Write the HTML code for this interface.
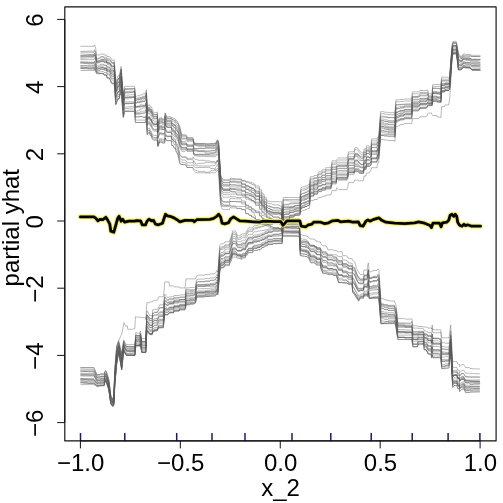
<!DOCTYPE html>
<html><head><meta charset="utf-8"><title>ICE plot</title>
<style>html,body{margin:0;padding:0;background:#fff;width:503px;height:503px;overflow:hidden}</style></head>
<body>
<svg width="503" height="503" viewBox="0 0 503 503" style="position:absolute;left:0;top:0">
<rect width="503" height="503" fill="#fff"/>
<g fill="none" stroke="#5a5a5a" stroke-opacity="0.52" stroke-width="0.8" stroke-linejoin="round">
<path d="M80.4,46.3 L94.0,46.3 L94.6,45.0 L95.6,47.5 L96.6,54.9 L99.8,54.9 L100.8,54.0 L103.5,54.0 L104.0,55.0 L106.5,55.0 L107.0,56.5 L109.4,56.5 L110.2,57.7 L110.6,57.7 L111.0,58.9 L113.0,60.5 L114.2,59.5 L115.8,82.0 L118.0,76.0 L119.2,76.0 L120.0,71.2 L120.7,71.2 L121.1,66.4 L123.3,95.0 L124.7,86.3 L134.6,86.3 L135.4,96.6 L136.3,96.6 L137.1,95.8 L139.6,95.8 L140.0,95.0 L142.0,95.0 L142.8,93.8 L145.2,93.8 L145.6,92.7 L146.4,89.7 L147.2,108.0 L148.5,104.9 L149.6,104.9 L150.4,106.9 L151.6,106.9 L152.0,108.9 L153.9,112.8 L156.8,112.8 L157.3,111.8 L157.9,122.8 L159.5,117.8 L161.8,117.8 L162.3,119.0 L164.7,119.0 L165.2,112.8 L166.8,116.8 L171.3,116.8 L171.8,117.8 L173.2,117.8 L174.0,118.8 L175.4,118.8 L175.8,119.8 L178.0,122.0 L179.8,126.7 L181.7,134.7 L185.1,134.7 L185.9,135.1 L186.1,135.1 L186.5,135.5 L187.0,137.7 L192.7,137.7 L193.2,138.5 L193.8,142.7 L195.7,143.3 L197.2,143.3 L198.0,143.6 L204.6,143.6 L205.0,143.8 L209.9,143.8 L210.7,143.6 L214.1,143.6 L214.9,143.5 L215.1,143.5 L215.5,143.3 L217.5,139.7 L218.6,142.0 L220.6,175.0 L222.0,178.4 L223.5,179.8 L229.5,179.8 L230.0,178.5 L230.9,178.5 L231.7,178.6 L235.3,178.6 L236.1,178.7 L236.4,178.7 L236.8,178.8 L241.3,178.8 L241.8,180.5 L245.3,180.5 L245.8,181.5 L248.4,181.5 L249.2,182.2 L251.3,182.2 L251.7,183.0 L253.7,183.0 L254.5,184.5 L255.3,184.5 L255.7,186.0 L259.2,186.0 L259.7,189.8 L261.5,189.8 L262.0,193.9 L263.8,193.9 L264.6,197.4 L266.3,197.4 L266.7,200.9 L267.6,200.9 L268.4,201.2 L270.1,201.2 L270.5,201.6 L272.1,201.6 L272.9,201.7 L279.0,201.7 L279.8,201.8 L281.2,201.8 L281.6,201.9 L282.6,219.0 L299.3,219.0 L300.3,234.8 L301.9,234.8 L302.7,235.4 L304.6,235.4 L305.0,236.0 L306.9,236.0 L307.7,237.0 L308.5,237.0 L308.9,238.0 L310.8,239.0 L314.4,239.0 L315.2,240.4 L316.4,240.4 L316.8,241.8 L320.3,241.8 L320.8,243.5 L322.8,245.8 L326.1,245.8 L326.9,247.8 L327.3,247.8 L327.7,249.7 L332.5,249.7 L333.3,250.4 L336.3,250.4 L336.7,251.2 L338.7,251.7 L342.2,251.7 L342.7,255.7 L346.5,255.7 L347.3,257.2 L348.2,257.2 L348.6,258.7 L352.1,258.7 L352.6,260.5 L354.6,261.7 L356.6,268.6 L358.6,272.0 L360.5,274.6 L363.5,274.6 L364.0,270.0 L367.1,270.0 L367.6,266.0 L368.3,262.9 L369.2,271.9 L371.1,271.9 L371.9,271.2 L372.6,271.2 L373.0,270.5 L376.6,270.5 L377.4,269.7 L377.6,269.7 L378.0,268.9 L378.9,270.0 L380.9,298.7 L383.9,298.7 L384.7,299.9 L387.6,299.9 L388.0,301.0 L394.3,301.0 L394.8,302.7 L395.8,304.0 L397.8,318.6 L404.5,318.6 L405.0,319.2 L411.9,319.0 L412.9,325.8 L417.5,325.8 L418.0,326.5 L423.0,326.5 L423.5,326.8 L424.2,327.0 L426.2,327.0 L427.0,327.5 L427.6,327.5 L428.0,328.0 L431.1,328.0 L431.6,328.8 L432.2,324.9 L432.9,329.8 L440.8,329.8 L441.7,337.8 L449.0,337.8 L450.7,324.9 L452.7,361.6 L454.0,361.6 L456.9,361.6 L457.7,364.1 L459.2,364.1 L459.6,366.6 L461.6,364.6 L463.6,364.6 L465.6,367.6 L469.5,367.6 L470.0,368.5 L472.9,368.5 L473.7,368.9 L479.5,368.9 L479.9,369.2"/>
<path d="M80.4,52.1 L94.0,52.3 L94.6,51.0 L95.6,53.2 L96.6,59.2 L97.8,59.2 L98.6,58.4 L99.4,58.4 L99.8,57.6 L100.8,56.6 L103.5,56.6 L104.0,57.2 L106.5,57.2 L107.0,58.7 L109.4,58.7 L110.2,59.9 L110.6,59.9 L111.0,61.2 L113.0,62.9 L114.2,61.9 L115.8,84.3 L118.0,78.6 L119.2,78.6 L120.0,73.7 L120.7,73.7 L121.1,68.8 L123.3,97.5 L124.7,88.9 L128.5,88.9 L129.3,88.7 L132.4,88.7 L133.2,88.5 L134.2,88.5 L134.6,88.3 L135.4,99.2 L136.3,99.2 L137.1,98.6 L139.6,98.6 L140.0,98.0 L142.0,98.0 L142.8,97.0 L145.2,97.0 L145.6,96.0 L146.4,92.9 L147.2,110.8 L148.5,107.7 L149.6,107.7 L150.4,109.6 L151.6,109.6 L152.0,111.4 L153.9,114.9 L156.8,114.9 L157.3,113.6 L157.9,124.3 L159.5,118.7 L161.8,118.7 L162.3,119.5 L164.7,119.5 L165.2,113.4 L166.8,117.9 L171.3,117.9 L171.8,119.3 L173.2,119.3 L174.0,120.3 L175.4,120.3 L175.8,121.3 L178.0,123.4 L179.8,128.1 L181.7,135.5 L185.1,135.5 L185.9,135.7 L186.1,135.7 L186.5,135.8 L187.0,138.0 L192.7,138.0 L193.2,138.6 L193.8,142.8 L195.7,143.4 L197.2,143.4 L198.0,143.7 L204.6,143.7 L205.0,144.0 L209.9,144.0 L210.7,143.8 L214.1,143.8 L214.9,143.6 L215.1,143.6 L215.5,143.4 L217.5,139.8 L218.6,142.1 L220.6,175.2 L222.0,178.7 L223.5,180.3 L229.5,180.3 L230.0,179.3 L230.9,179.3 L231.7,179.4 L235.3,179.4 L236.1,179.5 L236.4,179.5 L236.8,179.6 L241.3,179.6 L241.8,181.2 L245.3,181.2 L245.8,182.3 L248.4,182.3 L249.2,183.4 L251.3,183.4 L251.7,184.5 L253.7,184.5 L254.5,186.2 L255.3,186.2 L255.7,188.0 L259.2,188.0 L259.7,192.1 L261.5,192.1 L262.0,196.1 L263.8,196.1 L264.6,199.4 L266.3,199.4 L266.7,202.8 L267.6,202.8 L268.4,203.3 L270.1,203.3 L270.5,203.8 L272.1,203.8 L272.9,204.9 L279.0,204.9 L279.8,206.0 L281.2,206.0 L281.6,207.1 L282.6,222.4 L284.6,222.4 L285.4,222.3 L289.7,222.3 L290.5,222.2 L296.1,222.2 L296.9,222.1 L298.9,222.1 L299.3,222.1 L300.3,238.4 L301.9,238.4 L302.7,239.2 L304.6,239.2 L305.0,240.0 L306.9,240.0 L307.7,241.6 L308.5,241.6 L308.9,243.2 L310.8,245.3 L314.4,245.3 L315.2,246.8 L316.4,246.8 L316.8,248.3 L320.3,248.3 L320.8,250.3 L322.8,253.0 L326.1,253.0 L326.9,254.5 L327.3,254.5 L327.7,255.9 L332.5,255.9 L333.3,257.0 L336.3,257.0 L336.7,258.0 L338.7,260.5 L342.2,260.5 L342.7,263.8 L346.5,263.8 L347.3,264.9 L348.2,264.9 L348.6,266.0 L352.1,266.0 L352.6,268.7 L354.6,269.9 L356.6,274.3 L358.6,277.5 L360.5,279.1 L363.5,279.1 L364.0,274.9 L367.1,274.9 L367.6,272.2 L368.3,269.6 L369.2,277.9 L371.1,277.9 L371.9,277.1 L372.6,277.1 L373.0,276.3 L376.6,276.3 L377.4,275.2 L377.6,275.2 L378.0,274.2 L378.9,275.2 L380.9,304.2 L383.9,304.2 L384.7,304.7 L387.6,304.7 L388.0,305.3 L394.3,305.3 L394.8,307.1 L395.8,307.3 L397.8,322.8 L405.0,323.0 L411.4,323.0 L411.9,321.3 L412.9,328.1 L417.5,328.1 L418.0,328.3 L423.0,328.3 L423.5,328.8 L424.2,330.9 L426.2,330.9 L427.0,331.8 L427.6,331.8 L428.0,332.7 L431.1,332.7 L431.6,334.1 L432.2,328.1 L432.9,332.8 L438.3,332.8 L439.1,332.4 L440.4,332.4 L440.8,331.9 L441.7,342.8 L444.8,342.8 L445.6,343.2 L448.6,343.2 L449.0,343.7 L450.7,330.8 L452.7,367.5 L454.0,367.3 L456.9,367.3 L457.7,370.1 L459.2,370.1 L459.6,372.8 L461.6,370.7 L463.6,370.2 L465.6,373.1 L470.0,373.3 L472.9,373.3 L473.7,373.7 L479.5,373.7 L479.9,374.1"/>
<path d="M80.4,51.4 L83.0,51.4 L83.8,51.3 L87.2,51.3 L88.0,51.1 L93.6,51.1 L94.0,51.0 L94.6,49.7 L95.6,52.2 L96.6,58.5 L97.8,58.5 L98.6,58.3 L99.4,58.3 L99.8,58.1 L100.8,57.0 L103.5,57.0 L104.0,58.4 L106.5,58.4 L107.0,59.8 L109.4,59.8 L110.2,60.7 L110.6,60.7 L111.0,61.7 L113.0,63.2 L114.2,62.6 L115.8,84.9 L118.0,78.8 L119.2,78.8 L120.0,73.9 L120.7,73.9 L121.1,69.1 L123.3,97.4 L124.7,88.8 L128.5,88.8 L129.3,88.7 L132.4,88.7 L133.2,88.5 L134.2,88.5 L134.6,88.3 L135.4,98.6 L136.3,98.6 L137.1,97.9 L139.6,97.9 L140.0,97.2 L142.0,97.2 L142.8,96.2 L145.2,96.2 L145.6,95.2 L146.4,92.2 L147.2,110.4 L148.5,107.4 L149.6,107.4 L150.4,109.6 L151.6,109.6 L152.0,111.8 L153.9,114.6 L157.3,114.7 L157.9,125.3 L159.5,119.5 L161.8,119.5 L162.3,120.7 L164.7,120.7 L165.2,114.6 L166.8,118.5 L171.3,118.5 L171.8,119.7 L173.2,119.7 L174.0,120.9 L175.4,120.9 L175.8,122.0 L178.0,124.3 L179.8,129.5 L181.7,136.7 L185.1,136.7 L185.9,136.8 L186.1,136.8 L186.5,137.0 L187.0,139.1 L192.7,139.1 L193.2,139.6 L193.8,144.1 L195.7,144.8 L197.2,144.8 L198.0,145.3 L204.6,145.3 L205.0,145.9 L209.9,145.9 L210.7,145.6 L214.1,145.6 L214.9,145.3 L215.1,145.3 L215.5,145.0 L217.5,141.5 L218.6,144.0 L220.6,177.5 L222.0,180.9 L223.5,182.8 L229.5,182.8 L230.0,180.9 L230.9,180.9 L231.7,181.0 L235.3,181.0 L236.1,181.2 L236.4,181.2 L236.8,181.3 L241.3,181.3 L241.8,184.1 L245.3,184.1 L245.8,185.8 L248.4,185.8 L249.2,187.1 L251.3,187.1 L251.7,188.3 L253.7,188.3 L254.5,190.0 L255.3,190.0 L255.7,191.7 L259.2,191.7 L259.7,195.6 L261.5,195.6 L262.0,199.4 L263.8,199.4 L264.6,202.7 L266.3,202.7 L266.7,206.0 L267.6,206.0 L268.4,206.6 L270.1,206.6 L270.5,207.2 L272.1,207.2 L272.9,207.8 L279.0,207.8 L279.8,208.3 L281.2,208.3 L281.6,208.8 L282.6,223.5 L299.3,223.4 L300.3,240.2 L301.9,240.2 L302.7,240.8 L304.6,240.8 L305.0,241.4 L306.9,241.4 L307.7,242.5 L308.5,242.5 L308.9,243.5 L310.8,245.3 L314.4,245.3 L315.2,246.5 L316.4,246.5 L316.8,247.8 L320.3,247.8 L320.8,249.0 L322.8,251.6 L326.1,251.6 L326.9,253.0 L327.3,253.0 L327.7,254.4 L332.5,254.4 L333.3,254.8 L336.3,254.8 L336.7,255.3 L338.7,256.6 L342.2,256.6 L342.7,260.1 L346.5,260.1 L347.3,261.6 L348.2,261.6 L348.6,263.1 L352.1,263.1 L352.6,266.4 L354.6,268.1 L356.6,273.2 L358.6,277.6 L360.5,280.2 L363.5,280.2 L364.0,276.2 L367.1,276.2 L367.6,273.4 L368.3,270.0 L369.2,278.2 L371.1,278.2 L371.9,277.6 L372.6,277.6 L373.0,276.9 L376.6,276.9 L377.4,276.1 L377.6,276.1 L378.0,275.3 L378.9,276.4 L380.9,304.1 L383.9,304.1 L384.7,305.0 L387.6,305.0 L388.0,305.9 L394.3,305.9 L394.8,307.6 L395.8,309.1 L397.8,323.6 L404.5,323.6 L405.0,324.0 L411.4,324.0 L411.9,324.5 L412.9,332.2 L418.0,332.0 L423.5,331.7 L424.2,334.0 L426.2,334.0 L427.0,335.0 L427.6,335.0 L428.0,335.9 L431.1,335.9 L431.6,337.6 L432.2,334.1 L432.9,338.3 L438.3,338.3 L439.1,338.7 L440.4,338.7 L440.8,339.1 L441.7,346.6 L444.8,346.6 L445.6,347.1 L448.6,347.1 L449.0,347.7 L450.7,334.2 L452.7,370.9 L454.0,370.3 L456.9,370.3 L457.7,373.1 L459.2,373.1 L459.6,375.9 L461.6,373.9 L463.6,373.6 L465.6,376.9 L470.0,377.2 L472.9,377.2 L473.7,376.9 L479.5,376.9 L479.9,376.6"/>
<path d="M80.4,53.9 L83.0,53.9 L83.8,54.1 L87.2,54.1 L88.0,54.3 L93.6,54.3 L94.0,54.6 L94.6,53.4 L95.6,54.7 L96.6,60.4 L97.8,60.4 L98.6,60.2 L99.4,60.2 L99.8,60.0 L100.8,59.2 L103.5,59.2 L104.0,60.0 L106.5,60.0 L107.0,62.6 L109.4,62.6 L110.2,63.7 L110.6,63.7 L111.0,64.8 L113.0,66.4 L114.2,65.4 L115.8,88.2 L118.0,82.3 L119.2,82.3 L120.0,77.5 L120.7,77.5 L121.1,72.6 L123.3,100.7 L124.7,92.7 L128.5,92.7 L129.3,92.4 L132.4,92.4 L133.2,92.0 L134.2,92.0 L134.6,91.7 L135.4,100.5 L136.3,100.5 L137.1,99.8 L139.6,99.8 L140.0,99.1 L142.0,99.1 L142.8,98.3 L145.2,98.3 L145.6,97.4 L146.4,94.3 L147.2,112.9 L148.5,110.0 L149.6,110.0 L150.4,112.1 L151.6,112.1 L152.0,114.2 L153.9,118.3 L156.8,118.3 L157.3,117.1 L157.9,127.5 L159.5,122.3 L161.8,122.3 L162.3,123.1 L164.7,123.1 L165.2,116.6 L166.8,120.2 L171.3,120.2 L171.8,121.4 L173.2,121.4 L174.0,122.5 L175.4,122.5 L175.8,123.6 L178.0,126.2 L179.8,131.4 L181.7,138.2 L186.5,138.4 L187.0,139.3 L193.2,139.5 L193.8,143.6 L195.7,144.1 L197.2,144.1 L198.0,144.2 L204.6,144.2 L205.0,144.4 L209.9,144.4 L210.7,144.3 L214.1,144.3 L214.9,144.2 L215.1,144.2 L215.5,144.1 L217.5,140.8 L218.6,143.3 L220.6,176.8 L222.0,180.6 L223.5,182.4 L229.5,182.4 L230.0,181.6 L230.9,181.6 L231.7,181.8 L235.3,181.8 L236.1,181.9 L236.4,181.9 L236.8,182.1 L241.3,182.1 L241.8,183.8 L245.3,183.8 L245.8,185.4 L248.4,185.4 L249.2,187.2 L251.3,187.2 L251.7,188.9 L253.7,188.9 L254.5,190.9 L255.3,190.9 L255.7,192.8 L259.2,192.8 L259.7,197.1 L261.5,197.1 L262.0,201.1 L263.8,201.1 L264.6,204.4 L266.3,204.4 L266.7,207.7 L267.6,207.7 L268.4,208.6 L270.1,208.6 L270.5,209.6 L272.1,209.6 L272.9,210.0 L279.0,210.0 L279.8,210.4 L281.2,210.4 L281.6,210.8 L282.6,224.5 L284.6,224.5 L285.4,224.7 L289.7,224.7 L290.5,224.9 L296.1,224.9 L296.9,225.0 L298.9,225.0 L299.3,225.2 L300.3,242.2 L301.9,242.2 L302.7,242.5 L304.6,242.5 L305.0,242.9 L306.9,242.9 L307.7,243.7 L308.5,243.7 L308.9,244.4 L310.8,246.1 L314.4,246.1 L315.2,247.0 L316.4,247.0 L316.8,247.9 L320.3,247.9 L320.8,249.8 L322.8,252.8 L326.1,252.8 L326.9,254.1 L327.3,254.1 L327.7,255.4 L332.5,255.4 L333.3,257.2 L336.3,257.2 L336.7,258.9 L338.7,261.0 L342.2,261.0 L342.7,263.6 L346.5,263.6 L347.3,264.5 L348.2,264.5 L348.6,265.4 L352.1,265.4 L352.6,268.3 L354.6,267.7 L356.6,274.3 L358.6,277.5 L360.5,279.2 L363.5,279.2 L364.0,275.5 L367.1,275.5 L367.6,273.1 L368.3,269.8 L369.2,278.2 L371.1,278.2 L371.9,277.8 L372.6,277.8 L373.0,277.5 L376.6,277.5 L377.4,276.9 L377.6,276.9 L378.0,276.4 L378.9,277.5 L380.9,305.1 L383.9,305.1 L384.7,305.9 L387.6,305.9 L388.0,306.6 L394.3,306.6 L394.8,308.1 L395.8,310.2 L397.8,324.7 L404.5,324.7 L405.0,326.1 L411.9,326.2 L412.9,333.3 L417.5,333.3 L418.0,332.7 L423.0,332.7 L423.5,332.1 L424.2,334.6 L426.2,334.6 L427.0,335.5 L427.6,335.5 L428.0,336.5 L431.1,336.5 L431.6,337.5 L432.2,334.0 L432.9,338.3 L438.3,338.3 L439.1,339.0 L440.4,339.0 L440.8,339.8 L441.7,349.0 L444.8,349.0 L445.6,349.8 L448.6,349.8 L449.0,350.5 L450.7,336.5 L452.7,372.7 L454.0,371.7 L456.9,371.7 L457.7,374.0 L459.2,374.0 L459.6,376.2 L461.6,373.3 L463.6,373.6 L465.6,376.7 L470.0,376.9 L472.9,376.9 L473.7,377.2 L479.5,377.2 L479.9,377.6"/>
<path d="M80.4,55.7 L83.0,55.7 L83.8,55.8 L87.2,55.8 L88.0,55.9 L93.6,55.9 L94.0,56.0 L94.6,54.9 L95.6,57.2 L96.6,61.3 L97.8,61.3 L98.6,61.0 L99.4,61.0 L99.8,60.7 L100.8,59.7 L104.0,59.7 L106.5,59.7 L107.0,60.7 L109.4,60.7 L110.2,61.7 L110.6,61.7 L111.0,62.6 L113.0,63.8 L114.2,63.5 L115.8,85.3 L118.0,79.1 L119.2,79.1 L120.0,74.3 L120.7,74.3 L121.1,69.5 L123.3,97.9 L124.7,89.6 L128.5,89.6 L129.3,89.8 L132.4,89.8 L133.2,89.9 L134.2,89.9 L134.6,90.1 L135.4,100.4 L136.3,100.4 L137.1,99.7 L139.6,99.7 L140.0,99.0 L142.0,99.0 L142.8,97.8 L145.2,97.8 L145.6,96.7 L146.4,93.6 L147.2,111.9 L148.5,108.9 L149.6,108.9 L150.4,110.9 L151.6,110.9 L152.0,112.9 L153.9,116.5 L156.8,116.5 L157.3,115.7 L157.9,126.1 L159.5,120.6 L161.8,120.6 L162.3,122.0 L164.7,122.0 L165.2,116.2 L166.8,120.2 L171.3,120.2 L171.8,123.9 L173.2,123.9 L174.0,125.4 L175.4,125.4 L175.8,126.9 L178.0,129.7 L179.8,135.7 L181.7,141.5 L185.1,141.5 L185.9,141.2 L186.1,141.2 L186.5,140.9 L187.0,141.4 L193.2,141.2 L193.8,145.1 L195.7,145.7 L197.2,145.7 L198.0,146.3 L204.6,146.3 L205.0,146.8 L209.9,146.8 L210.7,146.7 L214.1,146.7 L214.9,146.6 L215.1,146.6 L215.5,146.4 L217.5,142.9 L218.6,145.3 L220.6,178.6 L222.0,182.6 L223.5,185.3 L229.5,185.3 L230.0,181.8 L230.9,181.8 L231.7,182.2 L235.3,182.2 L236.1,182.5 L236.4,182.5 L236.8,182.9 L241.3,182.9 L241.8,184.8 L245.3,184.8 L245.8,186.5 L248.4,186.5 L249.2,187.4 L251.3,187.4 L251.7,188.3 L253.7,188.3 L254.5,189.6 L255.3,189.6 L255.7,190.9 L259.2,190.9 L259.7,194.1 L261.5,194.1 L262.0,197.8 L263.8,197.8 L264.6,201.5 L266.3,201.5 L266.7,205.3 L267.6,205.3 L268.4,206.0 L270.1,206.0 L270.5,206.7 L272.1,206.7 L272.9,207.9 L279.0,207.9 L279.8,209.1 L281.2,209.1 L281.6,210.3 L282.6,224.3 L284.6,224.3 L285.4,224.4 L289.7,224.4 L290.5,224.4 L296.1,224.4 L296.9,224.5 L298.9,224.5 L299.3,224.6 L300.3,241.4 L305.0,241.5 L306.9,241.5 L307.7,242.7 L308.5,242.7 L308.9,243.8 L310.8,245.9 L314.4,245.9 L315.2,247.7 L316.4,247.7 L316.8,249.5 L320.3,249.5 L320.8,254.5 L322.8,256.7 L326.1,256.7 L326.9,258.2 L327.3,258.2 L327.7,259.6 L332.5,259.6 L333.3,260.1 L336.3,260.1 L336.7,260.7 L338.7,263.0 L342.2,263.0 L342.7,265.9 L346.5,265.9 L347.3,267.2 L348.2,267.2 L348.6,268.5 L352.1,268.5 L352.6,273.0 L354.6,274.5 L356.6,280.0 L358.6,283.6 L360.5,283.9 L363.5,283.9 L364.0,279.9 L367.1,279.9 L367.6,276.1 L368.3,274.7 L369.2,282.3 L371.1,282.3 L371.9,281.5 L372.6,281.5 L373.0,280.6 L376.6,280.6 L377.4,279.6 L377.6,279.6 L378.0,278.6 L378.9,279.7 L380.9,306.9 L383.9,306.9 L384.7,307.7 L387.6,307.7 L388.0,308.5 L394.3,308.5 L394.8,309.8 L395.8,311.5 L397.8,325.7 L405.0,325.7 L411.4,325.7 L411.9,325.1 L412.9,331.6 L417.5,331.6 L418.0,331.3 L423.5,331.5 L424.2,333.8 L426.2,333.8 L427.0,334.5 L427.6,334.5 L428.0,335.3 L431.1,335.3 L431.6,337.7 L432.2,334.3 L432.9,338.7 L438.3,338.7 L439.1,339.3 L440.4,339.3 L440.8,339.9 L441.7,349.1 L449.0,349.3 L450.7,335.5 L452.7,372.0 L454.0,372.4 L456.9,372.4 L457.7,375.4 L459.2,375.4 L459.6,378.4 L461.6,376.7 L463.6,376.5 L465.6,380.2 L469.5,380.2 L470.0,380.9 L479.9,381.0"/>
<path d="M80.4,56.5 L83.0,56.5 L83.8,56.2 L87.2,56.2 L88.0,55.9 L93.6,55.9 L94.0,55.6 L94.6,55.4 L95.6,57.8 L96.6,62.9 L97.8,62.9 L98.6,62.6 L99.4,62.6 L99.8,62.4 L100.8,61.5 L103.5,61.5 L104.0,62.2 L106.5,62.2 L107.0,63.0 L109.4,63.0 L110.2,64.2 L110.6,64.2 L111.0,65.5 L113.0,67.0 L114.2,65.9 L115.8,88.7 L118.0,82.6 L119.2,82.6 L120.0,77.8 L120.7,77.8 L121.1,72.9 L123.3,101.0 L124.7,92.8 L128.5,92.8 L129.3,92.4 L132.4,92.4 L133.2,92.0 L134.2,92.0 L134.6,91.6 L135.4,102.7 L136.3,102.7 L137.1,101.9 L139.6,101.9 L140.0,101.0 L142.0,101.0 L142.8,99.9 L145.2,99.9 L145.6,98.8 L146.4,95.6 L147.2,113.4 L148.5,109.3 L149.6,109.3 L150.4,111.4 L151.6,111.4 L152.0,113.4 L153.9,116.9 L156.8,116.9 L157.3,116.1 L157.9,126.4 L159.5,121.5 L161.8,121.5 L162.3,122.7 L164.7,122.7 L165.2,116.8 L166.8,121.7 L171.3,121.7 L171.8,123.4 L173.2,123.4 L174.0,124.6 L175.4,124.6 L175.8,125.8 L178.0,127.5 L179.8,132.7 L181.7,139.1 L185.1,139.1 L185.9,138.9 L186.1,138.9 L186.5,138.7 L187.0,140.5 L193.2,140.2 L193.8,144.2 L195.7,144.8 L197.2,144.8 L198.0,145.1 L204.6,145.1 L205.0,145.5 L215.5,145.6 L217.5,142.4 L218.6,145.0 L220.6,178.7 L222.0,182.7 L223.5,184.6 L230.0,184.8 L230.9,184.8 L231.7,185.1 L235.3,185.1 L236.1,185.4 L236.4,185.4 L236.8,185.7 L241.3,185.7 L241.8,186.8 L245.3,186.8 L245.8,188.2 L248.4,188.2 L249.2,189.2 L251.3,189.2 L251.7,190.3 L253.7,190.3 L254.5,191.9 L255.3,191.9 L255.7,193.5 L259.2,193.5 L259.7,197.4 L261.5,197.4 L262.0,200.8 L263.8,200.8 L264.6,204.2 L266.3,204.2 L266.7,207.6 L267.6,207.6 L268.4,208.6 L270.1,208.6 L270.5,209.6 L272.1,209.6 L272.9,211.1 L279.0,211.1 L279.8,212.5 L281.2,212.5 L281.6,214.0 L282.6,227.2 L284.6,227.2 L285.4,227.0 L289.7,227.0 L290.5,226.8 L296.1,226.8 L296.9,226.7 L298.9,226.7 L299.3,226.5 L300.3,242.4 L301.9,242.4 L302.7,242.8 L304.6,242.8 L305.0,243.1 L306.9,243.1 L307.7,244.0 L308.5,244.0 L308.9,244.8 L310.8,246.7 L314.4,246.7 L315.2,248.0 L316.4,248.0 L316.8,249.2 L320.3,249.2 L320.8,251.5 L322.8,254.7 L326.1,254.7 L326.9,256.2 L327.3,256.2 L327.7,257.8 L332.5,257.8 L333.3,258.7 L336.3,258.7 L336.7,259.5 L338.7,261.8 L342.2,261.8 L342.7,264.5 L346.5,264.5 L347.3,265.5 L348.2,265.5 L348.6,266.6 L352.1,266.6 L352.6,269.9 L354.6,271.2 L356.6,276.8 L358.6,280.1 L360.5,281.0 L363.5,281.0 L364.0,278.1 L367.1,278.1 L367.6,273.7 L368.3,270.4 L369.2,278.6 L371.1,278.6 L371.9,278.1 L372.6,278.1 L373.0,277.7 L376.6,277.7 L377.4,277.3 L377.6,277.3 L378.0,276.9 L378.9,278.1 L380.9,305.9 L383.9,305.9 L384.7,307.1 L387.6,307.1 L388.0,308.2 L394.3,308.2 L394.8,309.9 L395.8,311.6 L397.8,325.9 L404.5,325.9 L405.0,327.4 L411.9,327.3 L412.9,334.2 L417.5,334.2 L418.0,333.0 L423.5,332.8 L424.2,335.5 L426.2,335.5 L427.0,337.0 L427.6,337.0 L428.0,338.4 L431.1,338.4 L431.6,340.9 L432.2,337.6 L432.9,340.8 L438.3,340.8 L439.1,341.6 L440.4,341.6 L440.8,342.4 L441.7,351.9 L444.8,351.9 L445.6,352.4 L448.6,352.4 L449.0,352.8 L450.7,340.5 L452.7,376.7 L454.0,375.5 L456.9,375.5 L457.7,378.2 L459.2,378.2 L459.6,380.9 L461.6,378.7 L463.6,377.7 L465.6,380.3 L470.0,380.1 L472.9,380.1 L473.7,379.9 L479.5,379.9 L479.9,379.7"/>
<path d="M80.4,55.6 L83.0,55.6 L83.8,55.3 L87.2,55.3 L88.0,54.9 L93.6,54.9 L94.0,54.6 L94.6,53.4 L95.6,55.8 L96.6,61.9 L97.8,61.9 L98.6,61.6 L99.4,61.6 L99.8,61.4 L100.8,61.0 L103.5,61.0 L104.0,61.3 L106.5,61.3 L107.0,62.8 L109.4,62.8 L110.2,64.0 L110.6,64.0 L111.0,65.1 L113.0,66.5 L114.2,65.4 L115.8,87.5 L118.0,81.3 L119.2,81.3 L120.0,76.4 L120.7,76.4 L121.1,71.6 L123.3,99.8 L124.7,91.6 L128.5,91.6 L129.3,91.7 L132.4,91.7 L133.2,91.7 L134.2,91.7 L134.6,91.8 L135.4,102.4 L136.3,102.4 L137.1,102.1 L139.6,102.1 L140.0,101.9 L142.0,101.9 L142.8,101.2 L145.2,101.2 L145.6,100.5 L146.4,97.4 L147.2,114.4 L148.5,110.8 L149.6,110.8 L150.4,113.0 L151.6,113.0 L152.0,115.1 L153.9,119.0 L156.8,119.0 L157.3,117.9 L157.9,128.3 L159.5,123.4 L161.8,123.4 L162.3,124.4 L164.7,124.4 L165.2,118.5 L166.8,121.8 L171.3,121.8 L171.8,124.0 L173.2,124.0 L174.0,125.6 L175.4,125.6 L175.8,127.1 L178.0,131.1 L179.8,137.2 L181.7,142.9 L186.5,142.9 L187.0,145.1 L192.7,145.1 L193.2,144.5 L193.8,148.0 L195.7,148.5 L205.0,148.4 L209.9,148.4 L210.7,148.5 L214.1,148.5 L214.9,148.7 L215.1,148.7 L215.5,148.8 L217.5,144.9 L218.6,147.6 L220.6,182.8 L222.0,187.0 L223.5,188.9 L229.5,188.9 L230.0,186.8 L236.8,187.0 L241.3,187.0 L241.8,187.7 L245.3,187.7 L245.8,189.6 L248.4,189.6 L249.2,190.9 L251.3,190.9 L251.7,192.3 L253.7,192.3 L254.5,193.9 L255.3,193.9 L255.7,195.6 L259.2,195.6 L259.7,201.7 L261.5,201.7 L262.0,205.2 L263.8,205.2 L264.6,208.1 L266.3,208.1 L266.7,211.0 L267.6,211.0 L268.4,211.5 L270.1,211.5 L270.5,212.1 L272.1,212.1 L272.9,212.6 L279.0,212.6 L279.8,213.0 L281.2,213.0 L281.6,213.4 L282.6,226.1 L284.6,226.1 L285.4,226.2 L289.7,226.2 L290.5,226.3 L296.1,226.3 L296.9,226.5 L298.9,226.5 L299.3,226.6 L300.3,243.9 L301.9,243.9 L302.7,244.4 L304.6,244.4 L305.0,244.8 L306.9,244.8 L307.7,245.7 L308.5,245.7 L308.9,246.6 L310.8,248.7 L314.4,248.7 L315.2,250.0 L316.4,250.0 L316.8,251.4 L320.3,251.4 L320.8,253.5 L322.8,256.7 L326.1,256.7 L326.9,258.1 L327.3,258.1 L327.7,259.5 L332.5,259.5 L333.3,260.6 L336.3,260.6 L336.7,261.8 L338.7,264.7 L342.2,264.7 L342.7,267.4 L346.5,267.4 L347.3,268.4 L348.2,268.4 L348.6,269.4 L352.1,269.4 L352.6,273.3 L354.6,274.8 L356.6,279.3 L358.6,282.7 L360.5,283.2 L363.5,283.2 L364.0,279.4 L367.1,279.4 L367.6,277.4 L368.3,274.0 L369.2,281.9 L371.1,281.9 L371.9,281.7 L372.6,281.7 L373.0,281.4 L376.6,281.4 L377.4,280.2 L377.6,280.2 L378.0,279.1 L378.9,281.8 L380.9,308.9 L383.9,308.9 L384.7,309.6 L387.6,309.6 L388.0,310.3 L394.3,310.3 L394.8,311.0 L395.8,311.9 L397.8,326.1 L405.0,326.3 L411.4,326.3 L411.9,327.0 L412.9,334.6 L418.0,334.6 L423.0,334.6 L423.5,334.4 L424.2,337.9 L426.2,337.9 L427.0,339.1 L427.6,339.1 L428.0,340.3 L431.1,340.3 L431.6,343.2 L432.2,337.9 L432.9,343.0 L438.3,343.0 L439.1,343.3 L440.4,343.3 L440.8,343.5 L441.7,353.1 L444.8,353.1 L445.6,353.6 L448.6,353.6 L449.0,354.1 L450.7,340.1 L452.7,376.6 L454.0,375.6 L456.9,375.6 L457.7,378.5 L459.2,378.5 L459.6,381.5 L461.6,379.5 L463.6,378.9 L465.6,382.3 L470.0,382.1 L479.9,382.1"/>
<path d="M80.4,57.2 L83.0,57.2 L83.8,56.8 L87.2,56.8 L88.0,56.4 L93.6,56.4 L94.0,55.9 L94.6,54.7 L95.6,56.3 L96.6,61.7 L97.8,61.7 L98.6,61.4 L99.4,61.4 L99.8,61.1 L100.8,60.3 L103.5,60.3 L104.0,61.1 L106.5,61.1 L107.0,63.0 L109.4,63.0 L110.2,64.5 L110.6,64.5 L111.0,66.0 L113.0,68.8 L114.2,67.9 L115.8,90.1 L118.0,84.3 L119.2,84.3 L120.0,79.5 L120.7,79.5 L121.1,74.8 L123.3,102.9 L124.7,95.1 L128.5,95.1 L129.3,94.8 L132.4,94.8 L133.2,94.6 L134.2,94.6 L134.6,94.4 L135.4,103.3 L136.3,103.3 L137.1,102.7 L139.6,102.7 L140.0,102.1 L142.0,102.1 L142.8,101.5 L145.2,101.5 L145.6,101.0 L146.4,97.9 L147.2,115.6 L148.5,113.0 L149.6,113.0 L150.4,115.5 L151.6,115.5 L152.0,118.0 L153.9,121.2 L156.8,121.2 L157.3,120.6 L157.9,130.3 L159.5,125.4 L161.8,125.4 L162.3,126.4 L164.7,126.4 L165.2,120.3 L166.8,123.8 L171.3,123.8 L171.8,125.5 L173.2,125.5 L174.0,127.9 L175.4,127.9 L175.8,130.3 L178.0,131.6 L179.8,139.0 L181.7,144.3 L185.1,144.3 L185.9,144.5 L186.1,144.5 L186.5,144.6 L187.0,146.5 L193.2,146.6 L193.8,150.0 L195.7,151.2 L205.0,151.1 L209.9,151.1 L210.7,150.6 L214.1,150.6 L214.9,150.2 L215.1,150.2 L215.5,149.8 L217.5,146.6 L218.6,149.3 L220.6,183.1 L222.0,187.4 L223.5,189.4 L229.5,189.4 L230.0,189.0 L230.9,189.0 L231.7,189.3 L235.3,189.3 L236.1,189.6 L236.4,189.6 L236.8,189.9 L241.3,189.9 L241.8,191.1 L245.3,191.1 L245.8,192.7 L248.4,192.7 L249.2,193.6 L251.3,193.6 L251.7,194.4 L253.7,194.4 L254.5,195.4 L255.3,195.4 L255.7,196.5 L259.2,196.5 L259.7,201.0 L261.5,201.0 L262.0,202.4 L263.8,202.4 L264.6,206.7 L266.3,206.7 L266.7,211.0 L267.6,211.0 L268.4,212.1 L270.1,212.1 L270.5,213.1 L272.1,213.1 L272.9,213.3 L279.0,213.3 L279.8,213.4 L281.2,213.4 L281.6,213.6 L282.6,227.1 L284.6,227.1 L285.4,227.0 L289.7,227.0 L290.5,226.9 L296.1,226.9 L296.9,226.8 L298.9,226.8 L299.3,226.7 L300.3,244.0 L301.9,244.0 L302.7,244.7 L304.6,244.7 L305.0,245.3 L306.9,245.3 L307.7,246.3 L308.5,246.3 L308.9,247.4 L310.8,249.8 L314.4,249.8 L315.2,251.0 L316.4,251.0 L316.8,252.1 L320.3,252.1 L320.8,254.3 L322.8,257.5 L326.1,257.5 L326.9,258.8 L327.3,258.8 L327.7,260.1 L332.5,260.1 L333.3,260.9 L336.3,260.9 L336.7,261.7 L338.7,264.6 L342.2,264.6 L342.7,266.0 L346.5,266.0 L347.3,267.3 L348.2,267.3 L348.6,268.6 L352.1,268.6 L352.6,272.8 L354.6,274.5 L356.6,279.8 L358.6,283.0 L360.5,283.3 L363.5,283.3 L364.0,279.2 L367.1,279.2 L367.6,276.7 L368.3,273.2 L369.2,281.6 L371.1,281.6 L371.9,281.1 L372.6,281.1 L373.0,280.6 L376.6,280.6 L377.4,280.2 L377.6,280.2 L378.0,279.8 L378.9,281.0 L380.9,308.4 L383.9,308.4 L384.7,309.5 L387.6,309.5 L388.0,310.5 L394.3,310.5 L394.8,311.6 L395.8,313.3 L397.8,327.4 L405.0,327.3 L411.9,327.4 L412.9,334.5 L417.5,334.5 L418.0,334.2 L423.5,334.2 L424.2,337.7 L426.2,337.7 L427.0,339.2 L427.6,339.2 L428.0,340.6 L431.1,340.6 L431.6,343.1 L432.2,341.0 L432.9,344.7 L438.3,344.7 L439.1,343.9 L440.4,343.9 L440.8,343.1 L441.7,354.4 L449.0,354.4 L450.7,339.7 L452.7,376.0 L454.0,375.1 L456.9,375.1 L457.7,378.1 L459.2,378.1 L459.6,381.2 L461.6,379.5 L463.6,379.1 L465.6,382.8 L469.5,382.8 L470.0,383.0 L472.9,383.0 L473.7,382.9 L479.5,382.9 L479.9,382.7"/>
<path d="M80.4,59.6 L94.0,59.6 L94.6,58.5 L95.6,60.7 L96.6,65.2 L97.8,65.2 L98.6,65.1 L99.4,65.1 L99.8,64.9 L100.8,64.2 L103.5,64.2 L104.0,65.2 L106.5,65.2 L107.0,67.3 L109.4,67.3 L110.2,69.1 L110.6,69.1 L111.0,70.9 L113.0,70.9 L114.2,69.8 L115.8,91.9 L118.0,85.8 L119.2,85.8 L120.0,81.0 L120.7,81.0 L121.1,76.1 L123.3,104.0 L124.7,96.8 L128.5,96.8 L129.3,96.6 L132.4,96.6 L133.2,96.4 L134.2,96.4 L134.6,96.3 L135.4,106.9 L136.3,106.9 L137.1,106.5 L139.6,106.5 L140.0,106.2 L142.0,106.2 L142.8,105.7 L145.2,105.7 L145.6,105.2 L146.4,102.0 L147.2,119.2 L148.5,117.6 L149.6,117.6 L150.4,119.8 L151.6,119.8 L152.0,122.1 L153.9,124.6 L156.8,124.6 L157.3,122.3 L157.9,131.6 L159.5,126.4 L161.8,126.4 L162.3,127.2 L164.7,127.2 L165.2,121.0 L166.8,123.9 L171.3,123.9 L171.8,126.0 L173.2,126.0 L174.0,127.6 L175.4,127.6 L175.8,129.1 L178.0,132.1 L179.8,137.9 L181.7,143.7 L185.1,143.7 L185.9,143.5 L186.1,143.5 L186.5,143.2 L187.0,145.0 L193.2,145.2 L193.8,148.6 L195.7,148.9 L197.2,148.9 L198.0,148.3 L204.6,148.3 L205.0,147.6 L215.5,147.7 L217.5,144.6 L218.6,147.2 L220.6,180.8 L222.0,185.4 L223.5,186.2 L229.5,186.2 L230.0,184.5 L230.9,184.5 L231.7,184.7 L235.3,184.7 L236.1,184.9 L236.4,184.9 L236.8,185.1 L241.3,185.1 L241.8,187.0 L245.3,187.0 L245.8,189.4 L248.4,189.4 L249.2,191.0 L251.3,191.0 L251.7,192.7 L253.7,192.7 L254.5,194.5 L255.3,194.5 L255.7,196.3 L259.2,196.3 L259.7,199.9 L261.5,199.9 L262.0,203.9 L263.8,203.9 L264.6,206.8 L266.3,206.8 L266.7,209.7 L267.6,209.7 L268.4,210.5 L270.1,210.5 L270.5,211.3 L272.1,211.3 L272.9,212.7 L279.0,212.7 L279.8,214.1 L281.2,214.1 L281.6,215.5 L282.6,227.5 L284.6,227.5 L285.4,227.8 L289.7,227.8 L290.5,228.0 L296.1,228.0 L296.9,228.3 L298.9,228.3 L299.3,228.6 L300.3,246.2 L301.9,246.2 L302.7,246.6 L304.6,246.6 L305.0,246.9 L306.9,246.9 L307.7,248.0 L308.5,248.0 L308.9,249.1 L310.8,251.8 L314.4,251.8 L315.2,253.3 L316.4,253.3 L316.8,254.8 L320.3,254.8 L320.8,258.1 L322.8,262.3 L326.1,262.3 L326.9,263.5 L327.3,263.5 L327.7,264.8 L332.5,264.8 L333.3,265.5 L336.3,265.5 L336.7,266.2 L338.7,269.6 L342.2,269.6 L342.7,271.2 L346.5,271.2 L347.3,272.2 L348.2,272.2 L348.6,273.2 L352.1,273.2 L352.6,278.0 L354.6,280.1 L356.6,285.1 L358.6,288.6 L360.5,288.2 L363.5,288.2 L364.0,284.9 L367.1,284.9 L367.6,283.4 L368.3,279.6 L369.2,286.7 L371.1,286.7 L371.9,286.0 L372.6,286.0 L373.0,285.3 L376.6,285.3 L377.4,284.5 L377.6,284.5 L378.0,283.6 L378.9,285.3 L380.9,311.7 L383.9,311.7 L384.7,312.2 L387.6,312.2 L388.0,312.7 L394.3,312.7 L394.8,313.9 L395.8,315.8 L397.8,329.6 L404.5,329.6 L405.0,330.0 L411.4,330.0 L411.9,329.2 L412.9,335.9 L417.5,335.9 L418.0,334.4 L423.0,334.4 L423.5,334.0 L424.2,337.3 L426.2,337.3 L427.0,338.7 L427.6,338.7 L428.0,340.0 L431.1,340.0 L431.6,342.7 L432.2,339.4 L432.9,343.4 L438.3,343.4 L439.1,343.7 L440.4,343.7 L440.8,343.9 L441.7,353.4 L444.8,353.4 L445.6,353.2 L448.6,353.2 L449.0,353.0 L450.7,338.8 L452.7,375.0 L454.0,374.5 L456.9,374.5 L457.7,377.4 L459.2,377.4 L459.6,380.3 L461.6,377.1 L463.6,376.8 L465.6,380.8 L469.5,380.8 L470.0,381.4 L479.9,381.5"/>
<path d="M80.4,58.3 L83.0,58.3 L83.8,58.0 L87.2,58.0 L88.0,57.7 L93.6,57.7 L94.0,57.4 L94.6,56.9 L95.6,59.2 L96.6,62.9 L97.8,62.9 L98.6,62.7 L99.4,62.7 L99.8,62.4 L100.8,61.6 L103.5,61.6 L104.0,62.5 L106.5,62.5 L107.0,64.3 L109.4,64.3 L110.2,65.8 L110.6,65.8 L111.0,67.3 L113.0,70.7 L114.2,69.8 L115.8,92.0 L118.0,86.3 L119.2,86.3 L120.0,81.6 L120.7,81.6 L121.1,77.0 L123.3,105.1 L124.7,97.5 L128.5,97.5 L129.3,97.4 L132.4,97.4 L133.2,97.2 L134.2,97.2 L134.6,97.0 L135.4,107.3 L136.3,107.3 L137.1,106.8 L139.6,106.8 L140.0,106.3 L142.0,106.3 L142.8,105.9 L145.2,105.9 L145.6,105.4 L146.4,102.2 L147.2,119.5 L148.5,117.0 L149.6,117.0 L150.4,119.7 L151.6,119.7 L152.0,122.4 L153.9,123.3 L157.3,123.1 L157.9,132.4 L159.5,128.4 L161.8,128.4 L162.3,129.7 L164.7,129.7 L165.2,124.1 L166.8,127.5 L171.3,127.5 L171.8,130.0 L173.2,130.0 L174.0,131.5 L175.4,131.5 L175.8,132.9 L178.0,135.8 L179.8,141.8 L181.7,147.7 L185.1,147.7 L185.9,147.3 L186.1,147.3 L186.5,147.0 L187.0,148.7 L192.7,148.7 L193.2,148.2 L193.8,151.4 L195.7,150.1 L197.2,150.1 L198.0,150.7 L204.6,150.7 L205.0,151.2 L209.9,151.2 L210.7,150.9 L214.1,150.9 L214.9,150.6 L215.1,150.6 L215.5,150.3 L217.5,146.9 L218.6,149.7 L220.6,184.9 L222.0,188.8 L223.5,190.7 L229.5,190.7 L230.0,188.5 L236.8,188.8 L241.3,188.8 L241.8,190.4 L245.3,190.4 L245.8,192.9 L248.4,192.9 L249.2,194.3 L251.3,194.3 L251.7,195.8 L253.7,195.8 L254.5,197.4 L255.3,197.4 L255.7,199.0 L259.2,199.0 L259.7,202.4 L261.5,202.4 L262.0,205.7 L263.8,205.7 L264.6,208.2 L266.3,208.2 L266.7,210.7 L267.6,210.7 L268.4,211.5 L270.1,211.5 L270.5,212.2 L272.1,212.2 L272.9,213.1 L279.0,213.1 L279.8,214.1 L281.2,214.1 L281.6,215.0 L282.6,227.1 L284.6,227.1 L285.4,227.4 L289.7,227.4 L290.5,227.7 L296.1,227.7 L296.9,228.1 L298.9,228.1 L299.3,228.4 L300.3,246.1 L301.9,246.1 L302.7,246.8 L304.6,246.8 L305.0,247.4 L306.9,247.4 L307.7,248.1 L308.5,248.1 L308.9,248.7 L310.8,251.3 L314.4,251.3 L315.2,252.8 L316.4,252.8 L316.8,254.4 L320.3,254.4 L320.8,257.0 L322.8,260.7 L326.1,260.7 L326.9,261.9 L327.3,261.9 L327.7,263.1 L332.5,263.1 L333.3,264.3 L336.3,264.3 L336.7,265.6 L338.7,270.4 L342.2,270.4 L342.7,272.8 L346.5,272.8 L347.3,274.1 L348.2,274.1 L348.6,275.5 L352.1,275.5 L352.6,281.6 L354.6,283.7 L356.6,288.0 L358.6,291.3 L360.5,290.1 L363.5,290.1 L364.0,286.2 L367.1,286.2 L367.6,284.8 L368.3,280.9 L369.2,287.9 L371.1,287.9 L371.9,287.4 L372.6,287.4 L373.0,286.9 L376.6,286.9 L377.4,286.4 L377.6,286.4 L378.0,285.9 L378.9,287.1 L380.9,313.4 L383.9,313.4 L384.7,314.0 L387.6,314.0 L388.0,314.6 L394.3,314.6 L394.8,315.5 L395.8,317.6 L397.8,331.5 L405.0,331.4 L411.4,331.4 L411.9,330.8 L412.9,337.5 L417.5,337.5 L418.0,335.8 L423.0,335.8 L423.5,335.0 L424.2,338.7 L426.2,338.7 L427.0,339.7 L427.6,339.7 L428.0,340.7 L431.1,340.7 L431.6,343.1 L432.2,339.9 L432.9,343.8 L438.3,343.8 L439.1,344.4 L440.4,344.4 L440.8,344.9 L441.7,354.6 L449.0,354.8 L450.7,340.5 L452.7,376.6 L454.0,375.3 L456.9,375.3 L457.7,377.9 L459.2,377.9 L459.6,380.5 L461.6,378.3 L463.6,377.7 L465.6,381.1 L470.0,381.2 L472.9,381.2 L473.7,381.6 L479.5,381.6 L479.9,382.1"/>
<path d="M80.4,61.4 L83.0,61.4 L83.8,61.8 L87.2,61.8 L88.0,62.2 L93.6,62.2 L94.0,62.6 L94.6,61.5 L95.6,63.2 L96.6,66.9 L97.8,66.9 L98.6,66.4 L99.4,66.4 L99.8,66.0 L100.8,65.1 L103.5,65.1 L104.0,65.4 L106.5,65.4 L107.0,66.9 L109.4,66.9 L110.2,68.4 L110.6,68.4 L111.0,69.8 L113.0,71.4 L114.2,70.5 L115.8,92.6 L118.0,86.9 L119.2,86.9 L120.0,82.2 L120.7,82.2 L121.1,77.5 L123.3,105.3 L124.7,98.8 L128.5,98.8 L129.3,98.1 L132.4,98.1 L133.2,97.3 L134.2,97.3 L134.6,96.6 L135.4,107.1 L136.3,107.1 L137.1,106.0 L139.6,106.0 L140.0,104.8 L142.0,104.8 L142.8,105.1 L145.2,105.1 L145.6,105.4 L146.4,102.2 L147.2,119.5 L148.5,116.9 L149.6,116.9 L150.4,119.2 L151.6,119.2 L152.0,121.5 L153.9,124.1 L156.8,124.1 L157.3,122.8 L157.9,132.0 L159.5,126.9 L161.8,126.9 L162.3,127.7 L164.7,127.7 L165.2,121.8 L166.8,125.4 L171.3,125.4 L171.8,128.5 L173.2,128.5 L174.0,130.4 L175.4,130.4 L175.8,132.4 L178.0,135.1 L179.8,140.0 L181.7,144.9 L185.1,144.9 L185.9,144.5 L186.1,144.5 L186.5,144.2 L187.0,146.0 L192.7,146.0 L193.2,145.2 L193.8,149.4 L195.7,150.3 L197.2,150.3 L198.0,151.6 L204.6,151.6 L205.0,152.9 L209.9,152.9 L210.7,152.8 L214.1,152.8 L214.9,152.7 L215.1,152.7 L215.5,152.5 L217.5,149.2 L218.6,151.7 L220.6,186.1 L222.0,188.9 L223.5,190.3 L230.0,190.3 L230.9,190.3 L231.7,191.9 L235.3,191.9 L236.1,193.5 L236.4,193.5 L236.8,195.1 L241.3,195.1 L241.8,195.8 L245.3,195.8 L245.8,194.8 L248.4,194.8 L249.2,195.7 L251.3,195.7 L251.7,196.5 L253.7,196.5 L254.5,199.2 L255.3,199.2 L255.7,202.0 L259.2,202.0 L259.7,203.6 L261.5,203.6 L262.0,207.2 L263.8,207.2 L264.6,209.9 L266.3,209.9 L266.7,212.6 L267.6,212.6 L268.4,213.3 L270.1,213.3 L270.5,213.9 L272.1,213.9 L272.9,214.5 L279.0,214.5 L279.8,215.0 L281.2,215.0 L281.6,215.5 L282.6,228.2 L284.6,228.2 L285.4,228.3 L289.7,228.3 L290.5,228.4 L296.1,228.4 L296.9,228.6 L298.9,228.6 L299.3,228.7 L300.3,246.3 L301.9,246.3 L302.7,246.5 L304.6,246.5 L305.0,246.7 L306.9,246.7 L307.7,247.7 L308.5,247.7 L308.9,248.6 L310.8,251.2 L314.4,251.2 L315.2,252.8 L316.4,252.8 L316.8,254.5 L320.3,254.5 L320.8,256.5 L322.8,260.4 L326.1,260.4 L326.9,261.6 L327.3,261.6 L327.7,262.8 L332.5,262.8 L333.3,263.8 L336.3,263.8 L336.7,264.8 L338.7,268.3 L342.2,268.3 L342.7,272.3 L346.5,272.3 L347.3,273.9 L348.2,273.9 L348.6,275.6 L352.1,275.6 L352.6,280.7 L354.6,282.8 L356.6,287.2 L358.6,290.4 L360.5,290.2 L363.5,290.2 L364.0,286.8 L367.1,286.8 L367.6,285.8 L368.3,282.1 L369.2,289.1 L373.0,288.9 L378.0,289.0 L378.9,290.3 L380.9,316.2 L388.0,316.3 L394.8,316.0 L395.8,318.3 L397.8,332.1 L404.5,332.1 L405.0,332.7 L411.9,332.7 L412.9,339.5 L417.5,339.5 L418.0,337.3 L423.0,337.3 L423.5,336.0 L424.2,340.1 L426.2,340.1 L427.0,341.5 L427.6,341.5 L428.0,342.9 L431.1,342.9 L431.6,345.8 L432.2,342.8 L432.9,346.5 L438.3,346.5 L439.1,346.9 L440.4,346.9 L440.8,347.3 L441.7,357.1 L444.8,357.1 L445.6,356.6 L448.6,356.6 L449.0,356.1 L450.7,341.5 L452.7,377.6 L454.0,375.1 L456.9,375.1 L457.7,378.1 L459.2,378.1 L459.6,381.2 L461.6,379.5 L463.6,379.2 L465.6,382.9 L469.5,382.9 L470.0,384.3 L472.9,384.3 L473.7,384.1 L479.5,384.1 L479.9,383.9"/>
<path d="M80.4,62.6 L94.0,62.4 L94.6,61.3 L95.6,63.5 L96.6,67.5 L97.8,67.5 L98.6,67.3 L99.4,67.3 L99.8,67.0 L100.8,66.7 L103.5,66.7 L104.0,67.4 L106.5,67.4 L107.0,68.9 L109.4,68.9 L110.2,70.2 L110.6,70.2 L111.0,71.6 L113.0,72.7 L114.2,70.6 L115.8,92.4 L118.0,86.2 L119.2,86.2 L120.0,81.3 L120.7,81.3 L121.1,76.3 L123.3,105.3 L124.7,97.6 L128.5,97.6 L129.3,97.3 L132.4,97.3 L133.2,97.0 L134.2,97.0 L134.6,96.7 L135.4,107.3 L136.3,107.3 L137.1,107.1 L139.6,107.1 L140.0,106.8 L142.0,106.8 L142.8,106.5 L145.2,106.5 L145.6,106.3 L146.4,103.1 L147.2,120.3 L148.5,116.8 L149.6,116.8 L150.4,120.1 L151.6,120.1 L152.0,123.4 L153.9,126.2 L156.8,126.2 L157.3,125.7 L157.9,134.5 L159.5,129.7 L161.8,129.7 L162.3,129.2 L164.7,129.2 L165.2,123.5 L166.8,126.9 L171.3,126.9 L171.8,131.3 L173.2,131.3 L174.0,133.2 L175.4,133.2 L175.8,135.1 L178.0,138.6 L179.8,145.6 L181.7,149.8 L185.1,149.8 L185.9,149.2 L186.1,149.2 L186.5,148.6 L187.0,150.5 L193.2,150.6 L193.8,153.7 L195.7,154.5 L197.2,154.5 L198.0,154.2 L204.6,154.2 L205.0,153.9 L209.9,153.9 L210.7,153.1 L214.1,153.1 L214.9,152.2 L215.1,152.2 L215.5,151.4 L217.5,148.0 L218.6,150.5 L220.6,184.1 L222.0,188.1 L223.5,189.9 L229.5,189.9 L230.0,188.8 L230.9,188.8 L231.7,189.3 L235.3,189.3 L236.1,189.8 L236.4,189.8 L236.8,190.2 L241.3,190.2 L241.8,191.4 L245.3,191.4 L245.8,194.8 L248.4,194.8 L249.2,195.7 L251.3,195.7 L251.7,196.7 L253.7,196.7 L254.5,198.0 L255.3,198.0 L255.7,199.4 L259.2,199.4 L259.7,202.7 L261.5,202.7 L262.0,206.2 L263.8,206.2 L264.6,209.3 L266.3,209.3 L266.7,212.4 L267.6,212.4 L268.4,213.7 L270.1,213.7 L270.5,215.0 L272.1,215.0 L272.9,217.1 L279.0,217.1 L279.8,219.2 L281.2,219.2 L281.6,221.4 L282.6,231.0 L284.6,231.0 L285.4,231.1 L289.7,231.1 L290.5,231.2 L296.1,231.2 L296.9,231.4 L298.9,231.4 L299.3,231.5 L300.3,249.7 L301.9,249.7 L302.7,250.1 L304.6,250.1 L305.0,250.5 L306.9,250.5 L307.7,251.6 L308.5,251.6 L308.9,252.7 L310.8,255.8 L314.4,255.8 L315.2,257.2 L316.4,257.2 L316.8,258.5 L320.3,258.5 L320.8,261.7 L322.8,266.0 L326.1,266.0 L326.9,265.9 L327.3,265.9 L327.7,265.7 L332.5,265.7 L333.3,266.2 L336.3,266.2 L336.7,266.6 L338.7,269.9 L342.2,269.9 L342.7,271.1 L346.5,271.1 L347.3,271.8 L348.2,271.8 L348.6,272.4 L352.1,272.4 L352.6,277.1 L354.6,281.0 L356.6,285.6 L358.6,289.1 L360.5,288.5 L363.5,288.5 L364.0,284.1 L367.1,284.1 L367.6,283.0 L368.3,279.4 L369.2,286.7 L371.1,286.7 L371.9,286.4 L372.6,286.4 L373.0,286.2 L376.6,286.2 L377.4,285.8 L377.6,285.8 L378.0,285.5 L378.9,286.7 L380.9,313.4 L383.9,313.4 L384.7,313.8 L387.6,313.8 L388.0,314.3 L394.3,314.3 L394.8,315.4 L395.8,317.0 L397.8,331.9 L404.5,331.9 L405.0,332.9 L411.9,332.7 L412.9,339.7 L418.0,339.7 L423.0,339.7 L423.5,338.7 L424.2,344.0 L426.2,344.0 L427.0,345.0 L427.6,345.0 L428.0,346.0 L431.1,346.0 L431.6,349.6 L432.2,346.5 L432.9,349.8 L438.3,349.8 L439.1,349.6 L440.4,349.6 L440.8,349.5 L441.7,359.5 L444.8,359.5 L445.6,359.4 L448.6,359.4 L449.0,359.2 L450.7,344.5 L452.7,380.5 L454.0,377.8 L456.9,377.8 L457.7,381.0 L459.2,381.0 L459.6,384.3 L461.6,382.2 L463.6,381.7 L465.6,385.2 L469.5,385.2 L470.0,384.8 L472.9,384.8 L473.7,383.9 L479.5,383.9 L479.9,383.0"/>
<path d="M80.4,63.1 L83.0,63.1 L83.8,63.5 L87.2,63.5 L88.0,63.9 L93.6,63.9 L94.0,64.2 L94.6,64.1 L95.6,66.1 L96.6,69.4 L97.8,69.4 L98.6,68.8 L99.4,68.8 L99.8,68.2 L100.8,67.6 L103.5,67.6 L104.0,68.3 L106.5,68.3 L107.0,69.9 L109.4,69.9 L110.2,71.5 L110.6,71.5 L111.0,73.0 L113.0,74.3 L114.2,73.3 L115.8,95.0 L118.0,89.2 L119.2,89.2 L120.0,85.1 L120.7,85.1 L121.1,81.0 L123.3,108.9 L124.7,101.8 L134.6,101.8 L135.4,112.4 L136.3,112.4 L137.1,110.7 L139.6,110.7 L140.0,109.0 L142.0,109.0 L142.8,107.9 L145.2,107.9 L145.6,106.8 L146.4,103.4 L147.2,121.5 L148.5,118.7 L149.6,118.7 L150.4,121.0 L151.6,121.0 L152.0,123.3 L153.9,124.6 L156.8,124.6 L157.3,123.5 L157.9,132.6 L159.5,127.3 L161.8,127.3 L162.3,129.5 L164.7,129.5 L165.2,123.7 L166.8,127.2 L171.3,127.2 L171.8,130.2 L173.2,130.2 L174.0,132.1 L175.4,132.1 L175.8,134.1 L178.0,137.7 L179.8,144.5 L181.7,147.3 L185.1,147.3 L185.9,147.5 L186.1,147.5 L186.5,147.7 L187.0,149.5 L193.2,149.6 L193.8,155.0 L195.7,156.0 L197.2,156.0 L198.0,156.3 L204.6,156.3 L205.0,156.6 L215.5,156.6 L217.5,153.9 L218.6,156.9 L220.6,190.9 L222.0,195.4 L223.5,197.2 L229.5,197.2 L230.0,196.3 L230.9,196.3 L231.7,196.7 L235.3,196.7 L236.1,197.1 L236.4,197.1 L236.8,197.5 L241.3,197.5 L241.8,197.0 L245.3,197.0 L245.8,199.1 L248.4,199.1 L249.2,200.1 L251.3,200.1 L251.7,201.0 L253.7,201.0 L254.5,202.0 L255.3,202.0 L255.7,203.0 L259.2,203.0 L259.7,205.5 L261.5,205.5 L262.0,209.0 L263.8,209.0 L264.6,211.4 L266.3,211.4 L266.7,213.8 L267.6,213.8 L268.4,214.8 L270.1,214.8 L270.5,215.7 L272.1,215.7 L272.9,217.1 L279.0,217.1 L279.8,218.4 L281.2,218.4 L281.6,219.7 L282.6,229.9 L284.6,229.9 L285.4,230.1 L289.7,230.1 L290.5,230.2 L296.1,230.2 L296.9,230.4 L298.9,230.4 L299.3,230.5 L300.3,248.5 L301.9,248.5 L302.7,249.1 L304.6,249.1 L305.0,249.7 L306.9,249.7 L307.7,250.8 L308.5,250.8 L308.9,251.9 L310.8,255.0 L314.4,255.0 L315.2,256.5 L316.4,256.5 L316.8,257.9 L320.3,257.9 L320.8,261.4 L322.8,266.0 L326.1,266.0 L326.9,267.3 L327.3,267.3 L327.7,268.6 L332.5,268.6 L333.3,269.2 L336.3,269.2 L336.7,269.8 L338.7,274.5 L342.2,274.5 L342.7,275.9 L346.5,275.9 L347.3,276.4 L348.2,276.4 L348.6,277.0 L352.1,277.0 L352.6,282.6 L354.6,284.1 L356.6,288.1 L358.6,291.2 L360.5,290.0 L363.5,290.0 L364.0,286.4 L367.1,286.4 L367.6,287.3 L368.3,283.4 L369.2,288.5 L371.1,288.5 L371.9,288.1 L372.6,288.1 L373.0,287.7 L376.6,287.7 L377.4,287.2 L377.6,287.2 L378.0,286.8 L378.9,288.1 L380.9,314.8 L383.9,314.8 L384.7,315.3 L387.6,315.3 L388.0,315.8 L394.3,315.8 L394.8,316.1 L395.8,318.0 L397.8,331.8 L405.0,332.0 L411.9,332.0 L412.9,338.9 L417.5,338.9 L418.0,337.7 L423.0,337.7 L423.5,337.4 L424.2,342.3 L426.2,342.3 L427.0,344.2 L427.6,344.2 L428.0,346.1 L431.1,346.1 L431.6,349.7 L432.2,346.9 L432.9,350.3 L438.3,350.3 L439.1,350.5 L440.4,350.5 L440.8,350.6 L441.7,360.9 L449.0,360.7 L450.7,345.8 L452.7,381.6 L454.0,380.1 L456.9,380.1 L457.7,382.8 L459.2,382.8 L459.6,385.6 L461.6,383.8 L463.6,383.0 L465.6,386.6 L469.5,386.6 L470.0,386.3 L479.9,386.4"/>
<path d="M80.4,62.9 L83.0,62.9 L83.8,63.1 L87.2,63.1 L88.0,63.4 L93.6,63.4 L94.0,63.6 L94.6,62.6 L95.6,64.9 L96.6,68.6 L99.8,68.3 L100.8,67.8 L103.5,67.8 L104.0,68.9 L106.5,68.9 L107.0,71.0 L109.4,71.0 L110.2,73.4 L110.6,73.4 L111.0,75.8 L113.0,77.1 L114.2,76.0 L115.8,97.8 L118.0,91.9 L119.2,91.9 L120.0,87.2 L120.7,87.2 L121.1,82.5 L123.3,110.2 L124.7,103.3 L128.5,103.3 L129.3,103.1 L132.4,103.1 L133.2,103.0 L134.2,103.0 L134.6,102.9 L135.4,113.7 L136.3,113.7 L137.1,113.5 L139.6,113.5 L140.0,113.3 L142.0,113.3 L142.8,113.0 L145.2,113.0 L145.6,112.7 L146.4,109.4 L147.2,126.0 L148.5,123.6 L149.6,123.6 L150.4,126.3 L151.6,126.3 L152.0,129.0 L153.9,131.2 L156.8,131.2 L157.3,130.8 L157.9,138.8 L159.5,134.0 L161.8,134.0 L162.3,133.6 L164.7,133.6 L165.2,128.2 L166.8,131.2 L171.3,131.2 L171.8,133.7 L173.2,133.7 L174.0,134.8 L175.4,134.8 L175.8,135.9 L178.0,138.8 L179.8,145.0 L181.7,148.7 L185.1,148.7 L185.9,148.2 L186.1,148.2 L186.5,147.8 L187.0,149.5 L192.7,149.5 L193.2,150.5 L193.8,153.5 L195.7,154.4 L197.2,154.4 L198.0,154.8 L204.6,154.8 L205.0,155.3 L215.5,155.2 L217.5,152.2 L218.6,153.2 L220.6,186.9 L222.0,191.1 L223.5,192.7 L229.5,192.7 L230.0,191.5 L230.9,191.5 L231.7,191.7 L235.3,191.7 L236.1,191.9 L236.4,191.9 L236.8,192.1 L241.3,192.1 L241.8,194.2 L245.3,194.2 L245.8,197.0 L248.4,197.0 L249.2,198.7 L251.3,198.7 L251.7,200.5 L253.7,200.5 L254.5,202.3 L255.3,202.3 L255.7,204.2 L259.2,204.2 L259.7,208.2 L261.5,208.2 L262.0,211.6 L263.8,211.6 L264.6,213.7 L266.3,213.7 L266.7,215.8 L267.6,215.8 L268.4,217.0 L270.1,217.0 L270.5,218.3 L272.1,218.3 L272.9,219.5 L279.0,219.5 L279.8,220.8 L281.2,220.8 L281.6,222.1 L282.6,231.8 L299.3,231.9 L300.3,250.3 L301.9,250.3 L302.7,250.6 L304.6,250.6 L305.0,251.0 L306.9,251.0 L307.7,252.1 L308.5,252.1 L308.9,253.2 L310.8,256.5 L314.4,256.5 L315.2,258.0 L316.4,258.0 L316.8,259.5 L320.3,259.5 L320.8,262.9 L322.8,267.4 L326.1,267.4 L326.9,268.2 L327.3,268.2 L327.7,269.0 L332.5,269.0 L333.3,269.8 L336.3,269.8 L336.7,270.6 L338.7,275.0 L342.2,275.0 L342.7,275.9 L346.5,275.9 L347.3,276.5 L348.2,276.5 L348.6,277.1 L352.1,277.1 L352.6,282.8 L354.6,284.6 L356.6,288.6 L358.6,291.9 L360.5,290.6 L363.5,290.6 L364.0,287.3 L367.1,287.3 L367.6,287.8 L368.3,283.7 L369.2,290.5 L371.1,290.5 L371.9,290.2 L372.6,290.2 L373.0,289.9 L376.6,289.9 L377.4,289.6 L377.6,289.6 L378.0,289.3 L378.9,290.6 L380.9,316.4 L383.9,316.4 L384.7,316.7 L387.6,316.7 L388.0,317.0 L394.8,317.3 L395.8,319.3 L397.8,333.0 L405.0,332.8 L411.9,332.6 L412.9,339.5 L417.5,339.5 L418.0,338.0 L423.0,338.0 L423.5,337.5 L424.2,342.3 L426.2,342.3 L427.0,344.1 L427.6,344.1 L428.0,345.9 L431.1,345.9 L431.6,349.3 L432.2,346.4 L432.9,349.8 L438.3,349.8 L439.1,350.5 L440.4,350.5 L440.8,351.2 L441.7,361.6 L444.8,361.6 L445.6,361.2 L448.6,361.2 L449.0,360.7 L450.7,346.4 L452.7,382.3 L454.0,381.3 L456.9,381.3 L457.7,384.2 L459.2,384.2 L459.6,387.1 L461.6,385.0 L463.6,384.2 L465.6,387.9 L469.5,387.9 L470.0,386.9 L472.9,386.9 L473.7,387.1 L479.5,387.1 L479.9,387.3"/>
<path d="M80.4,65.6 L83.0,65.6 L83.8,65.9 L87.2,65.9 L88.0,66.2 L93.6,66.2 L94.0,66.5 L94.6,65.4 L95.6,67.4 L96.6,70.5 L97.8,70.5 L98.6,70.2 L99.4,70.2 L99.8,69.9 L100.8,69.2 L103.5,69.2 L104.0,69.8 L106.5,69.8 L107.0,71.7 L109.4,71.7 L110.2,73.3 L110.6,73.3 L111.0,75.0 L113.0,76.3 L114.2,75.4 L115.8,97.3 L118.0,91.8 L119.2,91.8 L120.0,87.2 L120.7,87.2 L121.1,82.5 L123.3,110.5 L124.7,103.8 L128.5,103.8 L129.3,103.4 L132.4,103.4 L133.2,103.1 L134.2,103.1 L134.6,102.7 L135.4,113.3 L136.3,113.3 L137.1,112.6 L139.6,112.6 L140.0,111.8 L142.0,111.8 L142.8,111.0 L145.2,111.0 L145.6,110.2 L146.4,106.9 L147.2,123.7 L148.5,121.3 L149.6,121.3 L150.4,124.0 L151.6,124.0 L152.0,126.7 L153.9,129.3 L157.3,129.2 L157.9,137.3 L159.5,132.6 L161.8,132.6 L162.3,133.6 L164.7,133.6 L165.2,127.8 L166.8,132.3 L171.3,132.3 L171.8,134.8 L173.2,134.8 L174.0,136.3 L175.4,136.3 L175.8,137.8 L178.0,141.0 L179.8,147.8 L181.7,151.3 L185.1,151.3 L185.9,150.5 L186.1,150.5 L186.5,149.7 L187.0,151.5 L192.7,151.5 L193.2,151.8 L193.8,154.3 L195.7,155.3 L197.2,155.3 L198.0,154.9 L204.6,154.9 L205.0,154.5 L209.9,154.5 L210.7,154.1 L214.1,154.1 L214.9,153.7 L215.1,153.7 L215.5,153.3 L217.5,150.5 L218.6,153.3 L220.6,188.1 L222.0,192.6 L223.5,194.6 L229.5,194.6 L230.0,194.0 L236.8,194.1 L241.3,194.1 L241.8,195.0 L245.3,195.0 L245.8,197.5 L248.4,197.5 L249.2,199.2 L251.3,199.2 L251.7,200.9 L253.7,200.9 L254.5,203.2 L255.3,203.2 L255.7,205.5 L259.2,205.5 L259.7,209.5 L261.5,209.5 L262.0,212.7 L263.8,212.7 L264.6,215.0 L266.3,215.0 L266.7,217.3 L267.6,217.3 L268.4,218.2 L270.1,218.2 L270.5,219.1 L272.1,219.1 L272.9,220.0 L279.0,220.0 L279.8,220.9 L281.2,220.9 L281.6,221.8 L282.6,231.2 L284.6,231.2 L285.4,231.6 L289.7,231.6 L290.5,232.0 L296.1,232.0 L296.9,232.4 L298.9,232.4 L299.3,232.8 L300.3,250.7 L301.9,250.7 L302.7,251.0 L304.6,251.0 L305.0,251.4 L306.9,251.4 L307.7,252.3 L308.5,252.3 L308.9,253.2 L310.8,257.1 L314.4,257.1 L315.2,258.3 L316.4,258.3 L316.8,259.6 L320.3,259.6 L320.8,263.2 L322.8,267.9 L326.1,267.9 L326.9,268.4 L327.3,268.4 L327.7,269.0 L332.5,269.0 L333.3,270.0 L336.3,270.0 L336.7,271.0 L338.7,275.6 L342.2,275.6 L342.7,276.4 L346.5,276.4 L347.3,277.2 L348.2,277.2 L348.6,278.0 L352.1,278.0 L352.6,285.4 L354.6,289.7 L356.6,293.6 L358.6,297.3 L360.5,295.3 L363.5,295.3 L364.0,292.8 L367.6,292.9 L368.3,288.8 L369.2,295.1 L371.1,295.1 L371.9,294.6 L372.6,294.6 L373.0,294.1 L376.6,294.1 L377.4,293.6 L377.6,293.6 L378.0,293.0 L378.9,292.1 L380.9,317.6 L383.9,317.6 L384.7,317.9 L387.6,317.9 L388.0,318.3 L394.3,318.3 L394.8,319.2 L395.8,321.4 L397.8,335.2 L405.0,335.1 L411.4,335.1 L411.9,334.5 L412.9,341.3 L417.5,341.3 L418.0,339.3 L423.0,339.3 L423.5,338.6 L424.2,344.5 L426.2,344.5 L427.0,346.5 L427.6,346.5 L428.0,348.4 L431.1,348.4 L431.6,351.6 L432.2,348.7 L432.9,351.8 L438.3,351.8 L439.1,351.7 L440.4,351.7 L440.8,351.6 L441.7,361.4 L444.8,361.4 L445.6,360.8 L448.6,360.8 L449.0,360.2 L450.7,346.9 L452.7,382.7 L454.0,381.1 L456.9,381.1 L457.7,383.8 L459.2,383.8 L459.6,386.5 L461.6,384.6 L463.6,383.9 L465.6,387.0 L470.0,386.8 L472.9,386.8 L473.7,386.3 L479.5,386.3 L479.9,385.8"/>
<path d="M80.4,65.8 L83.0,65.8 L83.8,65.7 L87.2,65.7 L88.0,65.6 L93.6,65.6 L94.0,65.5 L94.6,64.5 L95.6,65.6 L96.6,69.0 L97.8,69.0 L98.6,68.8 L99.4,68.8 L99.8,68.6 L100.8,67.9 L103.5,67.9 L104.0,68.5 L106.5,68.5 L107.0,70.2 L109.4,70.2 L110.2,71.8 L110.6,71.8 L111.0,73.3 L113.0,74.8 L114.2,73.8 L115.8,97.2 L118.0,91.6 L119.2,91.6 L120.0,86.5 L120.7,86.5 L121.1,81.4 L123.3,110.1 L124.7,103.4 L128.5,103.4 L129.3,103.6 L132.4,103.6 L133.2,103.7 L134.2,103.7 L134.6,103.9 L135.4,114.7 L136.3,114.7 L137.1,114.3 L139.6,114.3 L140.0,113.9 L142.0,113.9 L142.8,113.1 L145.2,113.1 L145.6,112.3 L146.4,109.8 L147.2,125.2 L148.5,122.7 L149.6,122.7 L150.4,125.3 L151.6,125.3 L152.0,127.8 L153.9,130.1 L157.3,129.9 L157.9,138.2 L159.5,133.6 L161.8,133.6 L162.3,135.0 L164.7,135.0 L165.2,130.1 L166.8,132.5 L171.3,132.5 L171.8,137.0 L173.2,137.0 L174.0,139.2 L175.4,139.2 L175.8,141.5 L178.0,145.4 L179.8,154.5 L181.7,156.9 L186.5,156.9 L187.0,158.4 L192.7,158.4 L193.2,156.8 L193.8,158.5 L195.7,159.6 L197.2,159.6 L198.0,160.3 L204.6,160.3 L205.0,160.9 L209.9,160.9 L210.7,161.5 L214.1,161.5 L214.9,162.0 L215.1,162.0 L215.5,162.5 L217.5,160.1 L218.6,162.6 L220.6,196.3 L222.0,200.5 L223.5,202.3 L229.5,202.3 L230.0,201.5 L236.8,201.4 L241.3,201.4 L241.8,202.2 L245.3,202.2 L245.8,205.4 L248.4,205.4 L249.2,207.2 L251.3,207.2 L251.7,209.0 L253.7,209.0 L254.5,210.6 L255.3,210.6 L255.7,212.2 L259.2,212.2 L259.7,216.0 L261.5,216.0 L262.0,218.5 L263.8,218.5 L264.6,220.0 L266.3,220.0 L266.7,221.6 L267.6,221.6 L268.4,221.4 L270.1,221.4 L270.5,221.3 L272.1,221.3 L272.9,221.8 L279.0,221.8 L279.8,222.2 L281.2,222.2 L281.6,222.7 L282.6,231.6 L284.6,231.6 L285.4,231.7 L289.7,231.7 L290.5,231.8 L296.1,231.8 L296.9,231.9 L298.9,231.9 L299.3,232.0 L300.3,250.2 L301.9,250.2 L302.7,250.9 L304.6,250.9 L305.0,251.5 L306.9,251.5 L307.7,252.6 L308.5,252.6 L308.9,253.7 L310.8,256.9 L314.4,256.9 L315.2,258.0 L316.4,258.0 L316.8,259.1 L320.3,259.1 L320.8,261.8 L322.8,267.1 L326.1,267.1 L326.9,267.8 L327.3,267.8 L327.7,268.4 L332.5,268.4 L333.3,269.4 L336.3,269.4 L336.7,270.5 L338.7,275.3 L342.2,275.3 L342.7,277.1 L346.5,277.1 L347.3,278.3 L348.2,278.3 L348.6,279.5 L352.1,279.5 L352.6,286.6 L354.6,288.9 L356.6,292.7 L358.6,296.0 L360.5,294.0 L363.5,294.0 L364.0,291.1 L367.1,291.1 L367.6,289.1 L368.3,286.5 L369.2,293.3 L371.1,293.3 L371.9,293.0 L372.6,293.0 L373.0,292.7 L376.6,292.7 L377.4,292.3 L377.6,292.3 L378.0,291.9 L378.9,293.2 L380.9,318.8 L383.9,318.8 L384.7,319.5 L387.6,319.5 L388.0,320.1 L394.3,320.1 L394.8,321.0 L395.8,323.8 L397.8,337.5 L405.0,337.5 L411.9,337.4 L412.9,344.3 L417.5,344.3 L418.0,341.9 L423.0,341.9 L423.5,340.9 L424.2,347.2 L426.2,347.2 L427.0,349.0 L427.6,349.0 L428.0,350.9 L431.1,350.9 L431.6,354.7 L432.2,352.0 L432.9,355.0 L438.3,355.0 L439.1,355.4 L440.4,355.4 L440.8,355.8 L441.7,366.4 L444.8,366.4 L445.6,365.8 L448.6,365.8 L449.0,365.2 L450.7,349.7 L452.7,385.2 L454.0,383.3 L456.9,383.3 L457.7,386.0 L459.2,386.0 L459.6,388.7 L461.6,386.6 L463.6,384.6 L465.6,388.3 L470.0,388.1 L472.9,388.1 L473.7,388.5 L479.5,388.5 L479.9,388.8"/>
<path d="M80.4,67.0 L83.0,67.0 L83.8,67.5 L87.2,67.5 L88.0,68.1 L93.6,68.1 L94.0,68.6 L94.6,67.6 L95.6,69.7 L96.6,72.3 L97.8,72.3 L98.6,72.1 L99.4,72.1 L99.8,72.0 L100.8,71.6 L103.5,71.6 L104.0,72.5 L106.5,72.5 L107.0,74.8 L109.4,74.8 L110.2,76.9 L110.6,76.9 L111.0,78.9 L113.0,80.4 L114.2,79.8 L115.8,101.8 L118.0,96.5 L119.2,96.5 L120.0,92.2 L120.7,92.2 L121.1,87.9 L123.3,115.8 L124.7,108.5 L128.5,108.5 L129.3,108.2 L132.4,108.2 L133.2,107.8 L134.2,107.8 L134.6,107.5 L135.4,117.5 L136.3,117.5 L137.1,117.1 L139.6,117.1 L140.0,116.6 L142.0,116.6 L142.8,117.5 L145.2,117.5 L145.6,118.5 L146.4,115.2 L147.2,130.1 L148.5,128.1 L149.6,128.1 L150.4,131.3 L151.6,131.3 L152.0,134.4 L153.9,135.5 L156.8,135.5 L157.3,138.5 L157.9,145.3 L159.5,139.7 L161.8,139.7 L162.3,140.2 L164.7,140.2 L165.2,134.5 L166.8,136.3 L171.3,136.3 L171.8,139.6 L173.2,139.6 L174.0,141.8 L175.4,141.8 L175.8,144.1 L178.0,149.7 L179.8,157.9 L181.7,160.0 L185.1,160.0 L185.9,160.6 L186.1,160.6 L186.5,161.2 L187.0,162.8 L192.7,162.8 L193.2,162.1 L193.8,160.7 L195.7,164.1 L197.2,164.1 L198.0,163.3 L204.6,163.3 L205.0,162.4 L209.9,162.4 L210.7,162.7 L214.1,162.7 L214.9,163.0 L215.1,163.0 L215.5,163.3 L217.5,160.1 L218.6,162.5 L220.6,196.0 L222.0,200.7 L223.5,201.6 L229.5,201.6 L230.0,198.5 L230.9,198.5 L231.7,198.6 L235.3,198.6 L236.1,198.7 L236.4,198.7 L236.8,198.8 L241.3,198.8 L241.8,201.0 L245.3,201.0 L245.8,205.0 L248.4,205.0 L249.2,206.8 L251.3,206.8 L251.7,208.7 L253.7,208.7 L254.5,209.9 L255.3,209.9 L255.7,211.0 L259.2,211.0 L259.7,213.1 L261.5,213.1 L262.0,215.4 L263.8,215.4 L264.6,216.2 L266.3,216.2 L266.7,217.0 L267.6,217.0 L268.4,218.2 L270.1,218.2 L270.5,219.4 L272.1,219.4 L272.9,221.0 L279.0,221.0 L279.8,222.5 L281.2,222.5 L281.6,224.1 L282.6,232.5 L299.3,232.5 L300.3,250.9 L301.9,250.9 L302.7,251.7 L304.6,251.7 L305.0,252.4 L306.9,252.4 L307.7,253.7 L308.5,253.7 L308.9,255.0 L310.8,258.7 L314.4,258.7 L315.2,260.3 L316.4,260.3 L316.8,261.8 L320.3,261.8 L320.8,264.9 L322.8,270.2 L326.1,270.2 L326.9,270.5 L327.3,270.5 L327.7,270.7 L332.5,270.7 L333.3,272.2 L336.3,272.2 L336.7,273.6 L338.7,278.3 L342.2,278.3 L342.7,279.8 L346.5,279.8 L347.3,281.4 L348.2,281.4 L348.6,283.1 L352.1,283.1 L352.6,290.6 L354.6,292.8 L356.6,295.8 L358.6,299.1 L360.5,296.5 L363.5,296.5 L364.0,294.2 L367.1,294.2 L367.6,295.1 L368.3,291.0 L369.2,297.2 L373.0,297.3 L378.0,297.1 L378.9,298.3 L380.9,322.9 L383.9,322.9 L384.7,322.0 L387.6,322.0 L388.0,321.1 L394.8,321.2 L395.8,323.5 L397.8,337.3 L405.0,337.5 L411.9,337.5 L412.9,344.3 L417.5,344.3 L418.0,341.4 L423.0,341.4 L423.5,340.0 L424.2,345.9 L426.2,345.9 L427.0,347.8 L427.6,347.8 L428.0,349.7 L431.1,349.7 L431.6,353.4 L432.2,350.6 L432.9,353.7 L438.3,353.7 L439.1,354.5 L440.4,354.5 L440.8,355.4 L441.7,366.0 L444.8,366.0 L445.6,365.1 L448.6,365.1 L449.0,364.2 L450.7,348.8 L452.7,384.3 L454.0,382.5 L456.9,382.5 L457.7,385.5 L459.2,385.5 L459.6,388.4 L461.6,386.6 L463.6,385.8 L465.6,389.8 L469.5,389.8 L470.0,388.8 L472.9,388.8 L473.7,388.3 L479.5,388.3 L479.9,387.9"/>
<path d="M80.4,67.5 L94.0,67.7 L94.6,66.6 L95.6,68.5 L96.6,71.3 L97.8,71.3 L98.6,70.7 L99.4,70.7 L99.8,70.1 L100.8,69.4 L103.5,69.4 L104.0,70.2 L106.5,70.2 L107.0,73.8 L109.4,73.8 L110.2,75.9 L110.6,75.9 L111.0,78.0 L113.0,78.7 L114.2,77.9 L115.8,100.0 L118.0,94.6 L119.2,94.6 L120.0,90.2 L120.7,90.2 L121.1,85.9 L123.3,113.5 L124.7,107.0 L128.5,107.0 L129.3,106.6 L132.4,106.6 L133.2,106.1 L134.2,106.1 L134.6,105.7 L135.4,116.6 L140.0,116.4 L142.0,116.4 L142.8,116.8 L145.2,116.8 L145.6,117.2 L146.4,114.1 L147.2,130.4 L148.5,130.4 L149.6,130.4 L150.4,133.8 L151.6,133.8 L152.0,137.1 L153.9,138.2 L157.3,138.3 L157.9,145.5 L159.5,140.8 L161.8,140.8 L162.3,141.5 L164.7,141.5 L165.2,135.6 L166.8,136.7 L171.3,136.7 L171.8,141.2 L173.2,141.2 L174.0,144.6 L175.4,144.6 L175.8,148.0 L178.0,151.7 L179.8,160.4 L181.7,162.3 L185.1,162.3 L185.9,163.0 L186.1,163.0 L186.5,163.8 L187.0,165.3 L192.7,165.3 L193.2,164.9 L193.8,166.5 L195.7,167.6 L197.2,167.6 L198.0,167.5 L204.6,167.5 L205.0,167.3 L209.9,167.3 L210.7,168.5 L214.1,168.5 L214.9,169.6 L215.1,169.6 L215.5,170.8 L217.5,168.1 L218.6,170.0 L220.6,202.7 L222.0,206.4 L223.5,205.2 L229.5,205.2 L230.0,201.5 L230.9,201.5 L231.7,201.6 L235.3,201.6 L236.1,201.8 L236.4,201.8 L236.8,202.0 L241.3,202.0 L241.8,203.8 L245.3,203.8 L245.8,208.6 L248.4,208.6 L249.2,209.8 L251.3,209.8 L251.7,211.1 L253.7,211.1 L254.5,211.9 L255.3,211.9 L255.7,212.7 L259.2,212.7 L259.7,215.9 L261.5,215.9 L262.0,217.9 L263.8,217.9 L264.6,219.5 L266.3,219.5 L266.7,221.2 L267.6,221.2 L268.4,221.8 L270.1,221.8 L270.5,222.4 L272.1,222.4 L272.9,223.7 L279.0,223.7 L279.8,225.0 L281.2,225.0 L281.6,226.3 L282.6,233.8 L284.6,233.8 L285.4,233.7 L289.7,233.7 L290.5,233.5 L296.1,233.5 L296.9,233.4 L298.9,233.4 L299.3,233.3 L300.3,253.3 L301.9,253.3 L302.7,253.9 L304.6,253.9 L305.0,254.4 L306.9,254.4 L307.7,255.7 L308.5,255.7 L308.9,257.1 L310.8,261.0 L314.4,261.0 L315.2,262.2 L316.4,262.2 L316.8,263.4 L320.3,263.4 L320.8,267.3 L322.8,272.1 L326.1,272.1 L326.9,272.6 L327.3,272.6 L327.7,273.2 L332.5,273.2 L333.3,274.8 L336.3,274.8 L336.7,276.5 L338.7,282.5 L342.7,282.4 L346.5,282.4 L347.3,283.3 L348.2,283.3 L348.6,284.2 L352.1,284.2 L352.6,291.6 L354.6,293.8 L356.6,295.9 L358.6,299.3 L360.5,296.7 L363.5,296.7 L364.0,294.4 L367.1,294.4 L367.6,295.2 L368.3,292.5 L369.2,298.4 L371.1,298.4 L371.9,298.2 L372.6,298.2 L373.0,298.0 L376.6,298.0 L377.4,297.9 L377.6,297.9 L378.0,297.7 L378.9,298.0 L380.9,323.6 L383.9,323.6 L384.7,323.1 L387.6,323.1 L388.0,322.6 L394.3,322.6 L394.8,321.2 L395.8,323.5 L397.8,337.2 L404.5,337.2 L405.0,337.5 L411.4,337.5 L411.9,337.2 L412.9,343.9 L417.5,343.9 L418.0,341.7 L423.0,341.7 L423.5,340.3 L424.2,346.1 L426.2,346.1 L427.0,348.0 L427.6,348.0 L428.0,350.0 L431.1,350.0 L431.6,353.0 L432.2,350.2 L432.9,353.4 L438.3,353.4 L439.1,353.6 L440.4,353.6 L440.8,353.9 L441.7,364.3 L444.8,364.3 L445.6,363.7 L448.6,363.7 L449.0,363.0 L450.7,347.8 L452.7,383.5 L454.0,381.9 L456.9,381.9 L457.7,385.0 L459.2,385.0 L459.6,388.2 L461.6,387.2 L463.6,386.5 L465.6,390.6 L470.0,390.6 L472.9,390.6 L473.7,390.4 L479.5,390.4 L479.9,390.2"/>
<path d="M80.4,68.5 L83.0,68.5 L83.8,68.9 L87.2,68.9 L88.0,69.2 L93.6,69.2 L94.0,69.6 L94.6,68.7 L95.6,70.8 L96.6,73.4 L97.8,73.4 L98.6,73.5 L99.4,73.5 L99.8,73.7 L100.8,73.4 L103.5,73.4 L104.0,75.0 L106.5,75.0 L107.0,78.0 L109.4,78.0 L110.2,80.3 L110.6,80.3 L111.0,82.7 L113.0,84.0 L114.2,83.0 L115.8,104.6 L118.0,98.9 L119.2,98.9 L120.0,94.2 L120.7,94.2 L121.1,89.5 L123.3,116.8 L124.7,110.3 L128.5,110.3 L129.3,110.1 L132.4,110.1 L133.2,109.9 L134.2,109.9 L134.6,109.8 L135.4,120.0 L140.0,120.1 L145.6,120.1 L146.4,116.7 L147.2,132.6 L148.5,130.5 L149.6,130.5 L150.4,133.4 L151.6,133.4 L152.0,136.3 L153.9,137.5 L156.8,137.5 L157.3,136.8 L157.9,143.8 L159.5,138.8 L161.8,138.8 L162.3,139.2 L164.7,139.2 L165.2,133.4 L166.8,136.0 L171.3,136.0 L171.8,139.1 L173.2,139.1 L174.0,141.2 L175.4,141.2 L175.8,143.3 L178.0,147.1 L179.8,154.6 L181.7,157.1 L185.1,157.1 L185.9,157.5 L186.1,157.5 L186.5,158.0 L187.0,159.6 L192.7,159.6 L193.2,160.6 L193.8,164.2 L195.7,165.8 L205.0,166.0 L209.9,166.0 L210.7,165.7 L214.1,165.7 L214.9,165.3 L215.1,165.3 L215.5,164.9 L217.5,160.9 L218.6,163.4 L220.6,197.3 L222.0,202.8 L223.5,205.2 L230.0,205.3 L230.9,205.3 L231.7,206.3 L235.3,206.3 L236.1,207.3 L236.4,207.3 L236.8,208.3 L241.3,208.3 L241.8,209.6 L245.3,209.6 L245.8,213.6 L248.4,213.6 L249.2,215.3 L251.3,215.3 L251.7,217.0 L253.7,217.0 L254.5,218.3 L255.3,218.3 L255.7,219.6 L259.2,219.6 L259.7,222.0 L261.5,222.0 L262.0,224.0 L263.8,224.0 L264.6,224.3 L266.3,224.3 L266.7,224.5 L267.6,224.5 L268.4,225.7 L270.1,225.7 L270.5,226.8 L272.1,226.8 L272.9,227.8 L279.0,227.8 L279.8,228.8 L281.2,228.8 L281.6,229.7 L282.6,235.8 L284.6,235.8 L285.4,235.6 L289.7,235.6 L290.5,235.4 L296.1,235.4 L296.9,235.2 L298.9,235.2 L299.3,234.9 L300.3,254.0 L301.9,254.0 L302.7,254.1 L304.6,254.1 L305.0,254.3 L306.9,254.3 L307.7,255.3 L308.5,255.3 L308.9,256.3 L310.8,259.9 L314.4,259.9 L315.2,261.1 L316.4,261.1 L316.8,262.4 L320.3,262.4 L320.8,266.0 L322.8,271.0 L326.1,271.0 L326.9,271.9 L327.3,271.9 L327.7,272.8 L332.5,272.8 L333.3,273.7 L336.3,273.7 L336.7,274.6 L338.7,279.9 L342.2,279.9 L342.7,280.4 L346.5,280.4 L347.3,281.2 L348.2,281.2 L348.6,282.0 L352.1,282.0 L352.6,289.6 L354.6,293.1 L356.6,296.6 L358.6,300.3 L360.5,297.1 L363.5,297.1 L364.0,295.2 L367.1,295.2 L367.6,296.4 L368.3,291.2 L369.2,298.4 L371.1,298.4 L371.9,298.2 L372.6,298.2 L373.0,298.0 L376.6,298.0 L377.4,297.9 L377.6,297.9 L378.0,297.7 L378.9,299.0 L380.9,323.6 L388.0,323.6 L394.8,323.6 L395.8,326.0 L397.8,339.5 L405.0,339.5 L411.4,339.5 L411.9,339.8 L412.9,346.7 L417.5,346.7 L418.0,344.0 L423.0,344.0 L423.5,342.7 L424.2,349.7 L426.2,349.7 L427.0,351.9 L427.6,351.9 L428.0,354.0 L431.1,354.0 L431.6,357.2 L432.2,354.4 L432.9,357.0 L438.3,357.0 L439.1,356.7 L440.4,356.7 L440.8,356.3 L441.7,367.1 L444.8,367.1 L445.6,365.8 L448.6,365.8 L449.0,364.6 L450.7,349.4 L452.7,385.1 L454.0,383.4 L456.9,383.4 L457.7,386.4 L459.2,386.4 L459.6,389.4 L461.6,387.4 L463.6,387.6 L465.6,390.2 L469.5,390.2 L470.0,389.7 L472.9,389.7 L473.7,389.4 L479.5,389.4 L479.9,389.1"/>
<path d="M80.4,68.5 L94.0,68.3 L94.6,67.4 L95.6,69.3 L96.6,72.2 L97.8,72.2 L98.6,73.0 L99.4,73.0 L99.8,73.8 L100.8,73.5 L103.5,73.5 L104.0,75.0 L106.5,75.0 L107.0,77.9 L109.4,77.9 L110.2,80.0 L110.6,80.0 L111.0,82.1 L113.0,83.3 L114.2,82.4 L115.8,104.2 L118.0,98.3 L119.2,98.3 L120.0,94.1 L120.7,94.1 L121.1,89.9 L123.3,117.5 L124.7,111.5 L134.6,111.5 L135.4,122.5 L140.0,122.5 L145.6,122.5 L146.4,119.0 L147.2,134.7 L148.5,132.7 L149.6,132.7 L150.4,135.7 L151.6,135.7 L152.0,138.7 L153.9,140.0 L157.3,140.0 L157.9,146.6 L159.5,142.0 L161.8,142.0 L162.3,143.0 L164.7,143.0 L165.2,138.0 L166.8,140.7 L171.3,140.7 L171.8,145.6 L173.2,145.6 L174.0,148.1 L175.4,148.1 L175.8,150.6 L178.0,155.0 L179.8,163.5 L181.7,164.5 L185.1,164.5 L185.9,165.2 L186.1,165.2 L186.5,166.0 L187.0,167.5 L192.7,167.5 L193.2,168.0 L193.8,168.6 L195.7,170.5 L197.2,170.5 L198.0,171.4 L204.6,171.4 L205.0,172.2 L209.9,172.2 L210.7,170.7 L214.1,170.7 L214.9,169.2 L215.1,169.2 L215.5,167.6 L217.5,164.5 L218.6,167.6 L220.6,200.9 L222.0,205.3 L223.5,206.5 L229.5,206.5 L230.0,206.0 L230.9,206.0 L231.7,206.1 L235.3,206.1 L236.1,206.3 L236.4,206.3 L236.8,206.4 L241.8,206.4 L245.3,206.4 L245.8,207.1 L248.4,207.1 L249.2,209.6 L251.3,209.6 L251.7,212.2 L253.7,212.2 L254.5,215.9 L255.3,215.9 L255.7,219.6 L259.2,219.6 L259.7,221.8 L262.0,221.6 L263.8,221.6 L264.6,222.7 L266.3,222.7 L266.7,223.7 L267.6,223.7 L268.4,225.0 L270.1,225.0 L270.5,226.3 L272.1,226.3 L272.9,227.5 L279.0,227.5 L279.8,228.8 L281.2,228.8 L281.6,230.0 L282.6,236.0 L284.6,236.0 L285.4,236.1 L289.7,236.1 L290.5,236.2 L296.1,236.2 L296.9,236.4 L298.9,236.4 L299.3,236.5 L300.3,255.7 L301.9,255.7 L302.7,256.1 L304.6,256.1 L305.0,256.5 L306.9,256.5 L307.7,257.6 L308.5,257.6 L308.9,258.7 L310.8,262.7 L314.4,262.7 L315.2,263.9 L316.4,263.9 L316.8,265.0 L320.3,265.0 L320.8,268.6 L322.8,273.2 L326.1,273.2 L326.9,273.7 L327.3,273.7 L327.7,274.3 L332.5,274.3 L333.3,275.4 L336.3,275.4 L336.7,276.6 L338.7,282.4 L342.2,282.4 L342.7,283.0 L346.5,283.0 L347.3,283.2 L348.2,283.2 L348.6,283.5 L352.1,283.5 L352.6,291.8 L354.6,294.7 L356.6,297.9 L358.6,300.5 L360.5,297.8 L363.5,297.8 L364.0,295.1 L367.6,294.9 L368.3,292.2 L369.2,297.9 L371.1,297.9 L371.9,297.4 L372.6,297.4 L373.0,296.9 L376.6,296.9 L377.4,296.7 L377.6,296.7 L378.0,296.5 L378.9,296.2 L380.9,321.0 L383.9,321.0 L384.7,321.4 L387.6,321.4 L388.0,321.9 L394.3,321.9 L394.8,321.6 L395.8,323.8 L397.8,337.3 L404.5,337.3 L405.0,338.8 L411.4,338.8 L411.9,339.8 L412.9,346.7 L417.5,346.7 L418.0,344.0 L423.0,344.0 L423.5,342.7 L424.2,349.7 L426.2,349.7 L427.0,351.9 L427.6,351.9 L428.0,354.0 L431.1,354.0 L431.6,357.7 L432.2,355.0 L432.9,357.7 L440.8,357.7 L441.7,368.6 L444.8,368.6 L445.6,368.1 L448.6,368.1 L449.0,367.6 L450.7,352.0 L452.7,387.5 L454.0,385.5 L456.9,385.5 L457.7,388.5 L459.2,388.5 L459.6,391.5 L461.6,389.5 L463.6,388.5 L465.6,392.4 L469.5,392.4 L470.0,392.0 L479.9,391.8"/>
<path d="M80.4,70.5 L94.0,70.5 L94.6,69.5 L95.6,71.5 L96.6,73.8 L99.8,73.8 L100.8,73.5 L103.5,73.5 L104.0,75.0 L106.5,75.0 L107.0,78.0 L109.4,78.0 L110.2,80.3 L110.6,80.3 L111.0,82.7 L113.0,84.0 L114.2,83.0 L115.8,104.6 L118.0,99.0 L119.2,99.0 L120.0,94.5 L120.7,94.5 L121.1,90.0 L123.3,117.5 L124.7,111.5 L134.6,111.5 L135.4,122.5 L140.0,122.5 L145.6,122.5 L146.4,119.0 L147.2,134.7 L148.5,132.7 L149.6,132.7 L150.4,135.7 L151.6,135.7 L152.0,138.7 L153.9,140.0 L157.3,140.0 L157.9,146.6 L159.5,142.0 L161.8,142.0 L162.3,143.0 L164.7,143.0 L165.2,138.0 L166.8,140.7 L171.3,140.7 L171.8,145.6 L173.2,145.6 L174.0,148.1 L175.4,148.1 L175.8,150.6 L178.0,155.0 L179.8,163.5 L181.7,164.5 L185.1,164.5 L185.9,165.2 L186.1,165.2 L186.5,166.0 L187.0,167.5 L192.7,167.5 L193.2,169.0 L193.8,170.5 L195.7,172.5 L197.2,172.5 L198.0,172.8 L204.6,172.8 L205.0,173.0 L209.9,173.0 L210.7,172.8 L214.1,172.8 L214.9,172.7 L215.1,172.7 L215.5,172.5 L217.5,170.0 L218.6,172.0 L220.6,205.0 L222.0,209.0 L223.5,209.6 L229.5,209.6 L230.0,207.5 L230.9,207.5 L231.7,207.9 L235.3,207.9 L236.1,208.2 L236.4,208.2 L236.8,208.6 L241.3,208.6 L241.8,209.6 L245.3,209.6 L245.8,213.6 L248.4,213.6 L249.2,215.3 L251.3,215.3 L251.7,217.0 L253.7,217.0 L254.5,218.3 L255.3,218.3 L255.7,219.6 L259.2,219.6 L259.7,222.0 L261.5,222.0 L262.0,224.0 L263.8,224.0 L264.6,225.0 L266.3,225.0 L266.7,226.0 L267.6,226.0 L268.4,227.0 L270.1,227.0 L270.5,228.0 L272.1,228.0 L272.9,228.7 L279.0,228.7 L279.8,229.3 L281.2,229.3 L281.6,230.0 L282.6,236.0 L284.6,236.0 L285.4,236.1 L289.7,236.1 L290.5,236.2 L296.1,236.2 L296.9,236.4 L298.9,236.4 L299.3,236.5 L300.3,255.7 L301.9,255.7 L302.7,256.1 L304.6,256.1 L305.0,256.5 L306.9,256.5 L307.7,257.6 L308.5,257.6 L308.9,258.7 L310.8,262.7 L314.4,262.7 L315.2,263.9 L316.4,263.9 L316.8,265.0 L320.3,265.0 L320.8,268.6 L322.8,273.6 L326.1,273.6 L326.9,274.1 L327.3,274.1 L327.7,274.5 L332.5,274.5 L333.3,275.6 L336.3,275.6 L336.7,276.6 L338.7,282.5 L342.2,282.5 L342.7,283.0 L346.5,283.0 L347.3,283.8 L348.2,283.8 L348.6,284.5 L352.1,284.5 L352.6,292.5 L354.6,295.0 L356.6,298.0 L358.6,301.4 L360.5,298.4 L363.5,298.4 L364.0,296.0 L367.1,296.0 L367.6,296.7 L368.3,292.5 L369.2,298.4 L371.1,298.4 L371.9,298.2 L372.6,298.2 L373.0,298.0 L376.6,298.0 L377.4,297.9 L377.6,297.9 L378.0,297.7 L378.9,299.0 L380.9,323.6 L388.0,323.6 L394.8,323.6 L395.8,326.0 L397.8,339.5 L405.0,339.5 L411.4,339.5 L411.9,339.8 L412.9,346.7 L417.5,346.7 L418.0,344.0 L423.0,344.0 L423.5,342.7 L424.2,349.7 L426.2,349.7 L427.0,351.9 L427.6,351.9 L428.0,354.0 L431.1,354.0 L431.6,357.7 L432.2,355.0 L432.9,357.7 L440.8,357.7 L441.7,368.6 L444.8,368.6 L445.6,368.1 L448.6,368.1 L449.0,367.6 L450.7,352.0 L452.7,387.5 L454.0,385.5 L456.9,385.5 L457.7,388.5 L459.2,388.5 L459.6,391.5 L461.6,389.5 L463.6,388.5 L465.6,392.4 L469.5,392.4 L470.0,392.0 L479.9,391.8"/>
<path d="M80.4,367.7 L93.9,367.7 L94.9,370.0 L96.9,374.7 L97.8,374.7 L98.6,374.4 L99.6,374.4 L100.0,374.0 L104.3,374.0 L104.8,371.5 L105.8,370.7 L106.8,373.0 L108.8,379.6 L110.8,395.5 L112.8,399.5 L113.8,396.0 L114.8,369.7 L116.7,345.8 L118.7,340.5 L120.9,349.5 L121.7,352.8 L123.7,339.8 L124.7,342.0 L126.5,344.6 L134.9,344.6 L135.8,332.6 L136.3,332.6 L137.1,333.1 L139.2,333.1 L139.6,333.6 L140.4,331.0 L141.8,338.6 L145.8,338.6 L146.8,310.8 L147.8,311.8 L149.8,315.7 L152.2,315.7 L152.7,309.8 L153.7,309.8 L154.5,309.3 L157.3,309.3 L157.7,308.8 L158.7,306.8 L159.7,304.8 L163.2,304.8 L163.7,302.8 L164.7,293.9 L165.7,295.0 L167.7,297.8 L169.6,296.8 L173.5,296.8 L174.0,295.5 L179.1,295.5 L179.6,294.9 L185.0,294.9 L185.5,293.9 L185.9,287.9 L189.5,287.9 L190.0,287.5 L193.5,287.5 L194.3,287.2 L195.1,287.2 L195.5,286.9 L196.5,279.8 L197.2,279.8 L198.0,279.1 L204.6,279.1 L205.0,278.5 L209.9,278.5 L210.7,277.9 L214.1,277.9 L214.9,277.2 L215.4,277.2 L215.8,276.6 L216.8,274.6 L217.8,276.0 L219.8,247.8 L221.0,246.8 L223.3,246.8 L224.1,245.8 L224.6,245.8 L225.0,244.8 L229.3,244.8 L229.8,242.8 L230.8,240.0 L232.7,232.9 L235.3,232.9 L236.1,234.4 L236.3,234.4 L236.7,235.9 L237.7,237.8 L240.5,237.8 L241.0,236.5 L241.7,236.5 L242.5,235.7 L245.3,235.7 L245.7,234.9 L246.7,233.0 L248.6,229.9 L252.5,229.9 L253.0,228.5 L253.7,228.5 L254.5,227.7 L257.2,227.7 L257.6,226.9 L260.0,226.9 L260.8,226.4 L261.6,226.4 L262.0,226.0 L263.8,226.0 L264.6,225.5 L265.1,225.5 L265.5,225.0 L267.5,225.0 L268.0,224.0 L272.1,224.0 L272.9,223.5 L273.1,223.5 L273.5,223.0 L279.0,223.0 L279.8,222.8 L281.9,222.8 L282.3,222.5 L283.2,199.5 L289.3,199.5 L289.9,199.5 L294.2,199.5 L294.8,199.5 L299.9,199.5 L300.9,189.6 L301.9,189.6 L302.7,188.8 L304.6,188.8 L305.0,188.0 L306.9,188.0 L307.7,186.8 L309.1,186.8 L309.5,185.6 L310.3,178.7 L313.5,178.7 L314.0,177.5 L317.3,177.5 L317.8,175.7 L318.8,173.7 L321.4,173.7 L322.2,171.7 L325.4,171.7 L325.8,169.7 L331.0,169.7 L331.5,167.0 L332.0,162.8 L336.2,162.8 L336.7,161.5 L338.7,160.0 L347.0,160.0 L347.5,158.8 L348.6,153.8 L354.0,153.8 L354.8,149.8 L357.5,149.8 L358.0,150.5 L359.6,152.8 L361.6,154.8 L363.5,154.8 L364.0,151.0 L366.0,151.0 L366.5,147.8 L369.0,147.8 L369.5,149.8 L371.0,148.5 L371.6,140.9 L377.0,140.9 L377.5,138.9 L378.6,140.0 L380.6,113.7 L383.9,113.7 L384.7,114.2 L387.6,114.2 L388.0,114.7 L394.4,114.7 L394.9,115.7 L395.9,101.8 L397.8,101.8 L398.6,101.7 L399.6,101.7 L400.0,101.5 L403.5,101.5 L404.0,101.2 L404.7,101.2 L405.5,101.0 L411.3,101.0 L411.7,100.8 L412.4,93.8 L418.4,93.8 L419.2,93.2 L419.6,93.2 L420.0,92.5 L426.2,92.5 L427.0,92.2 L427.3,92.2 L427.7,91.8 L428.6,95.8 L431.5,95.8 L432.0,96.8 L432.7,86.6 L437.0,86.6 L440.9,86.6 L441.6,79.0 L445.0,79.2 L448.3,79.2 L448.8,79.5 L449.6,77.7 L450.4,66.0 L452.0,46.0 L452.9,41.4 L456.2,41.4 L456.7,43.4 L457.5,48.0 L458.4,53.4 L460.0,55.5 L461.5,56.8 L463.0,54.0 L464.6,54.0 L465.4,54.2 L465.6,54.2 L466.0,54.5 L470.0,54.5 L472.0,55.3 L480.4,55.3"/>
<path d="M80.4,369.1 L83.0,369.1 L83.8,369.3 L87.2,369.3 L88.0,369.4 L93.5,369.4 L93.9,369.6 L94.9,371.7 L96.9,375.7 L97.8,375.7 L98.6,375.3 L99.6,375.3 L100.0,374.9 L104.3,374.9 L104.8,372.3 L105.8,371.5 L106.8,373.8 L108.8,380.3 L110.8,396.0 L112.8,400.0 L113.8,396.9 L114.8,371.3 L116.7,347.7 L118.7,341.8 L120.9,351.4 L121.7,354.9 L123.7,341.1 L124.7,343.1 L126.5,346.5 L128.5,346.5 L129.3,346.6 L132.4,346.6 L133.2,346.7 L134.5,346.7 L134.9,346.8 L135.8,335.3 L136.3,335.3 L137.1,335.8 L139.2,335.8 L139.6,336.3 L140.4,333.8 L141.8,341.7 L145.8,341.6 L146.8,315.3 L147.8,315.8 L149.8,318.5 L152.2,318.5 L152.7,313.2 L153.7,313.2 L154.5,312.4 L157.3,312.4 L157.7,311.7 L158.7,309.7 L159.7,307.9 L163.2,307.9 L163.7,305.8 L164.7,296.9 L165.7,297.8 L167.7,300.2 L169.6,298.6 L173.5,298.6 L174.0,297.4 L179.1,297.4 L179.6,296.9 L185.0,296.9 L185.5,296.5 L185.9,290.9 L189.5,290.9 L190.0,290.5 L193.5,290.5 L194.3,290.0 L195.1,290.0 L195.5,289.6 L196.5,282.8 L197.2,282.8 L198.0,281.9 L204.6,281.9 L205.0,281.0 L209.9,281.0 L210.7,280.1 L214.1,280.1 L214.9,279.3 L215.4,279.3 L215.8,278.4 L216.8,277.0 L217.8,278.3 L219.8,250.6 L221.0,248.0 L223.3,248.0 L224.1,247.0 L224.6,247.0 L225.0,245.9 L229.3,245.9 L229.8,244.1 L230.8,241.5 L232.7,234.4 L235.3,234.4 L236.1,236.0 L236.3,236.0 L236.7,237.6 L237.7,239.4 L240.5,239.4 L241.0,238.4 L241.7,238.4 L242.5,237.5 L245.3,237.5 L245.7,236.6 L246.7,234.7 L248.6,231.5 L252.5,231.5 L253.0,229.8 L253.7,229.8 L254.5,228.8 L257.2,228.8 L257.6,227.8 L260.0,227.8 L260.8,227.1 L261.6,227.1 L262.0,226.4 L263.8,226.4 L264.6,225.8 L265.1,225.8 L265.5,225.2 L267.5,225.2 L268.0,224.6 L272.1,224.6 L272.9,224.0 L273.1,224.0 L273.5,223.5 L282.3,223.3 L283.2,200.5 L284.6,200.5 L285.4,200.6 L288.9,200.6 L289.3,200.8 L289.9,201.0 L294.2,201.1 L294.8,201.0 L299.9,200.8 L300.9,191.2 L301.9,191.2 L302.7,190.4 L304.6,190.4 L305.0,189.5 L306.9,189.5 L307.7,188.2 L309.1,188.2 L309.5,186.9 L310.3,179.9 L313.5,179.9 L314.0,178.5 L317.3,178.5 L317.8,176.6 L318.8,174.7 L321.4,174.7 L322.2,172.7 L325.4,172.7 L325.8,170.8 L331.0,170.8 L331.5,168.4 L332.0,164.4 L336.2,164.4 L336.7,163.2 L338.7,162.2 L347.0,162.2 L347.5,161.7 L348.6,156.7 L353.5,156.7 L354.0,157.1 L354.8,153.3 L357.5,153.3 L358.0,153.9 L359.6,156.0 L361.6,156.4 L363.5,156.4 L364.0,152.5 L366.0,152.5 L366.5,149.7 L369.0,149.7 L369.5,151.4 L371.0,150.1 L371.6,143.0 L377.0,143.0 L377.5,141.0 L378.6,142.0 L380.6,116.1 L383.9,116.1 L384.7,116.9 L387.6,116.9 L388.0,117.7 L394.4,117.7 L394.9,119.3 L395.9,105.1 L397.8,105.1 L398.6,104.9 L399.6,104.9 L400.0,104.7 L404.0,104.6 L404.7,104.6 L405.5,104.4 L411.3,104.4 L411.7,104.1 L412.4,96.9 L418.4,96.9 L419.2,96.0 L419.6,96.0 L420.0,95.1 L426.2,95.1 L427.0,94.5 L427.3,94.5 L427.7,93.9 L428.6,97.3 L431.5,97.3 L432.0,98.1 L432.7,88.2 L437.0,88.3 L440.9,88.6 L441.6,80.6 L445.0,80.7 L448.3,80.7 L448.8,81.0 L449.6,79.6 L450.4,68.2 L452.0,47.9 L452.9,43.3 L456.2,43.3 L456.7,45.2 L457.5,50.0 L458.4,55.7 L460.0,57.5 L461.5,58.5 L463.0,56.2 L464.6,56.2 L465.4,56.4 L465.6,56.4 L466.0,56.7 L469.5,56.7 L470.0,55.8 L472.0,56.6 L472.9,56.6 L473.7,56.5 L478.7,56.5 L479.5,56.4 L480.0,56.4 L480.4,56.2"/>
<path d="M80.4,371.8 L83.0,371.8 L83.8,371.6 L87.2,371.6 L88.0,371.3 L93.5,371.3 L93.9,371.1 L94.9,373.0 L96.9,377.2 L97.8,377.2 L98.6,376.9 L99.6,376.9 L100.0,376.6 L104.3,376.6 L104.8,374.3 L105.8,373.3 L106.8,375.4 L108.8,381.8 L110.8,397.3 L112.8,401.0 L113.8,397.9 L114.8,372.8 L116.7,349.8 L118.7,342.9 L120.9,352.5 L121.7,356.0 L123.7,341.7 L124.7,344.0 L126.5,346.5 L134.9,346.7 L135.8,335.1 L136.3,335.1 L137.1,335.6 L139.2,335.6 L139.6,336.1 L140.4,333.6 L141.8,341.4 L145.8,341.3 L146.8,314.7 L147.8,315.5 L149.8,318.9 L152.2,318.9 L152.7,313.1 L153.7,313.1 L154.5,312.3 L157.3,312.3 L157.7,311.4 L158.7,309.4 L159.7,307.6 L163.2,307.6 L163.7,305.8 L164.7,296.9 L165.7,298.0 L167.7,300.5 L169.6,299.4 L173.5,299.4 L174.0,298.2 L179.1,298.2 L179.6,297.4 L185.0,297.4 L185.5,296.0 L185.9,289.5 L190.0,289.7 L193.5,289.7 L194.3,289.4 L195.1,289.4 L195.5,289.1 L196.5,281.8 L197.2,281.8 L198.0,281.5 L204.6,281.5 L205.0,281.3 L209.9,281.3 L210.7,280.6 L214.1,280.6 L214.9,279.9 L215.4,279.9 L215.8,279.2 L216.8,277.2 L217.8,278.4 L219.8,250.7 L221.0,249.3 L223.3,249.3 L224.1,248.3 L224.6,248.3 L225.0,247.3 L229.3,247.3 L229.8,245.7 L230.8,243.2 L232.7,236.7 L235.3,236.7 L236.1,238.3 L236.3,238.3 L236.7,239.9 L237.7,241.7 L240.5,241.7 L241.0,241.1 L241.7,241.1 L242.5,240.2 L245.3,240.2 L245.7,239.2 L246.7,237.4 L248.6,234.3 L252.5,234.3 L253.0,232.5 L253.7,232.5 L254.5,231.8 L257.2,231.8 L257.6,231.0 L260.0,231.0 L260.8,230.7 L261.6,230.7 L262.0,230.5 L263.8,230.5 L264.6,230.1 L265.1,230.1 L265.5,229.8 L267.5,229.8 L268.0,229.0 L272.1,229.0 L272.9,228.8 L273.1,228.8 L273.5,228.5 L279.0,228.5 L279.8,228.1 L281.9,228.1 L282.3,227.6 L283.2,204.4 L289.3,204.2 L289.9,203.1 L294.2,203.0 L294.8,202.9 L299.9,203.0 L300.9,194.1 L301.9,194.1 L302.7,193.4 L304.6,193.4 L305.0,192.7 L306.9,192.7 L307.7,191.5 L309.1,191.5 L309.5,190.3 L310.3,183.0 L313.5,183.0 L314.0,181.3 L317.3,181.3 L317.8,179.1 L318.8,177.2 L321.4,177.2 L322.2,175.2 L325.4,175.2 L325.8,173.2 L331.0,173.2 L331.5,170.7 L332.0,167.0 L336.2,167.0 L336.7,166.2 L338.7,165.4 L347.0,165.4 L347.5,163.5 L348.6,158.3 L353.5,158.3 L354.0,157.7 L354.8,153.9 L358.0,154.1 L359.6,156.3 L361.6,158.1 L363.5,158.1 L364.0,154.3 L366.0,154.3 L366.5,151.3 L369.0,151.3 L369.5,152.9 L371.0,151.7 L371.6,145.0 L377.0,145.0 L377.5,142.4 L378.6,143.2 L380.6,117.1 L383.9,117.1 L384.7,117.2 L387.6,117.2 L388.0,117.4 L394.4,117.4 L394.9,118.6 L395.9,104.6 L400.0,104.4 L404.0,104.2 L404.7,104.2 L405.5,103.9 L411.3,103.9 L411.7,103.6 L412.4,96.4 L418.4,96.4 L419.2,95.0 L419.6,95.0 L420.0,93.5 L426.2,93.5 L427.0,93.3 L427.3,93.3 L427.7,93.0 L428.6,96.7 L431.5,96.7 L432.0,97.8 L432.7,88.4 L436.5,88.4 L437.0,88.7 L438.3,88.7 L439.1,89.0 L440.5,89.0 L440.9,89.2 L441.6,81.1 L445.0,80.9 L448.8,81.0 L449.6,79.3 L450.4,67.9 L452.0,47.6 L452.9,43.0 L456.2,43.0 L456.7,45.1 L457.5,50.0 L458.4,55.8 L460.0,57.7 L461.5,58.9 L463.0,57.0 L464.6,57.0 L465.4,57.4 L465.6,57.4 L466.0,57.8 L469.5,57.8 L470.0,58.1 L472.0,59.3 L472.9,59.3 L473.7,59.2 L478.7,59.2 L479.5,59.1 L480.0,59.1 L480.4,59.0"/>
<path d="M80.4,370.4 L83.0,370.4 L83.8,370.6 L87.2,370.6 L88.0,370.8 L93.5,370.8 L93.9,370.9 L94.9,372.9 L96.9,377.1 L97.8,377.1 L98.6,376.8 L99.6,376.8 L100.0,376.5 L104.3,376.5 L104.8,373.7 L105.8,373.0 L106.8,375.4 L108.8,381.8 L110.8,397.3 L112.8,401.1 L113.8,398.0 L114.8,373.1 L116.7,349.7 L118.7,343.0 L120.9,352.8 L121.7,356.3 L123.7,342.0 L124.7,344.2 L126.5,346.8 L134.9,346.9 L135.8,335.3 L136.3,335.3 L137.1,335.8 L139.2,335.8 L139.6,336.3 L140.4,333.8 L141.8,341.6 L145.8,341.8 L146.8,315.0 L147.8,316.8 L149.8,320.5 L152.2,320.5 L152.7,315.7 L153.7,315.7 L154.5,315.2 L157.3,315.2 L157.7,314.7 L158.7,312.8 L159.7,311.8 L163.2,311.8 L163.7,309.3 L164.7,300.0 L165.7,300.2 L167.7,302.5 L169.6,301.3 L173.5,301.3 L174.0,299.8 L179.1,299.8 L179.6,299.4 L185.0,299.4 L185.5,297.6 L185.9,292.1 L189.5,292.1 L190.0,291.6 L193.5,291.6 L194.3,291.3 L195.1,291.3 L195.5,291.0 L196.5,284.4 L205.0,284.6 L209.9,284.6 L210.7,284.3 L214.1,284.3 L214.9,284.0 L215.4,284.0 L215.8,283.7 L216.8,281.9 L217.8,283.1 L219.8,256.6 L221.0,254.2 L223.3,254.2 L224.1,253.1 L224.6,253.1 L225.0,252.0 L229.3,252.0 L229.8,250.0 L230.8,247.5 L232.7,241.0 L235.3,241.0 L236.1,242.0 L236.3,242.0 L236.7,243.0 L237.7,244.4 L240.5,244.4 L241.0,243.7 L241.7,243.7 L242.5,242.8 L245.3,242.8 L245.7,241.8 L246.7,240.2 L248.6,237.2 L252.5,237.2 L253.0,235.6 L253.7,235.6 L254.5,235.0 L257.2,235.0 L257.6,234.3 L260.0,234.3 L260.8,233.7 L261.6,233.7 L262.0,233.1 L263.8,233.1 L264.6,232.1 L265.1,232.1 L265.5,231.2 L267.5,231.2 L268.0,230.2 L272.1,230.2 L272.9,229.7 L273.1,229.7 L273.5,229.2 L279.0,229.2 L279.8,228.9 L281.9,228.9 L282.3,228.5 L283.2,205.2 L284.6,205.2 L285.4,204.9 L288.9,204.9 L289.3,204.5 L289.9,203.9 L293.7,203.9 L294.2,203.3 L294.8,203.6 L296.1,203.6 L296.9,203.3 L299.5,203.3 L299.9,203.0 L300.9,194.1 L301.9,194.1 L302.7,193.1 L304.6,193.1 L305.0,192.1 L306.9,192.1 L307.7,190.6 L309.1,190.6 L309.5,189.0 L310.3,181.9 L313.5,181.9 L314.0,180.6 L317.3,180.6 L317.8,178.9 L318.8,177.1 L321.4,177.1 L322.2,175.3 L325.4,175.3 L325.8,173.6 L331.0,173.6 L331.5,170.9 L332.0,167.2 L336.2,167.2 L336.7,165.1 L338.7,164.0 L347.0,164.0 L347.5,163.5 L348.6,158.5 L353.5,158.5 L354.0,158.2 L354.8,154.5 L357.5,154.5 L358.0,155.0 L359.6,156.6 L361.6,158.3 L363.5,158.3 L364.0,154.4 L366.0,154.4 L366.5,150.6 L369.0,150.6 L369.5,152.3 L371.0,151.1 L371.6,144.3 L377.0,144.3 L377.5,142.6 L378.6,143.4 L380.6,119.1 L383.9,119.1 L384.7,119.9 L387.6,119.9 L388.0,120.6 L394.4,120.6 L394.9,121.8 L395.9,107.4 L397.8,107.4 L398.6,107.0 L399.6,107.0 L400.0,106.6 L403.5,106.6 L404.0,106.0 L404.7,106.0 L405.5,105.8 L411.3,105.8 L411.7,105.5 L412.4,97.3 L418.4,97.3 L419.2,96.6 L419.6,96.6 L420.0,95.9 L426.2,95.9 L427.0,95.5 L427.3,95.5 L427.7,95.2 L428.6,98.3 L431.5,98.3 L432.0,99.8 L432.7,91.5 L436.5,91.5 L437.0,92.0 L438.3,92.0 L439.1,92.2 L440.5,92.2 L440.9,92.4 L441.6,83.8 L444.5,83.8 L445.0,83.4 L448.8,83.5 L449.6,82.1 L450.4,71.3 L452.0,49.6 L452.9,45.6 L456.2,45.6 L456.7,47.5 L457.5,53.0 L458.4,59.3 L460.0,60.6 L461.5,61.3 L463.0,58.7 L464.6,58.7 L465.4,58.6 L465.6,58.6 L466.0,58.5 L470.0,58.5 L472.0,59.6 L480.4,59.5"/>
<path d="M80.4,371.3 L83.0,371.3 L83.8,371.6 L87.2,371.6 L88.0,371.9 L93.5,371.9 L93.9,372.2 L94.9,373.6 L96.9,377.7 L97.8,377.7 L98.6,377.5 L99.6,377.5 L100.0,377.2 L104.3,377.2 L104.8,374.6 L105.8,374.0 L106.8,376.4 L108.8,383.3 L110.8,398.4 L112.8,401.9 L113.8,399.1 L114.8,375.0 L116.7,352.3 L118.7,344.7 L120.9,355.1 L121.7,359.3 L123.7,343.9 L124.7,345.6 L126.5,348.1 L128.5,348.1 L129.3,348.2 L132.4,348.2 L133.2,348.3 L134.5,348.3 L134.9,348.4 L135.8,337.2 L136.3,337.2 L137.1,337.7 L139.2,337.7 L139.6,338.1 L140.4,335.8 L141.8,343.8 L145.8,343.7 L146.8,318.4 L147.8,319.2 L149.8,322.7 L152.2,322.7 L152.7,319.7 L153.7,319.7 L154.5,318.5 L157.3,318.5 L157.7,317.4 L158.7,315.3 L159.7,314.1 L163.2,314.1 L163.7,310.8 L164.7,301.8 L165.7,301.2 L167.7,302.9 L169.6,302.8 L173.5,302.8 L174.0,301.0 L179.1,301.0 L179.6,299.7 L185.0,299.7 L185.5,298.3 L185.9,293.3 L189.5,293.3 L190.0,292.8 L193.5,292.8 L194.3,292.4 L195.1,292.4 L195.5,292.0 L196.5,285.6 L197.2,285.6 L198.0,284.9 L204.6,284.9 L205.0,284.1 L209.9,284.1 L210.7,283.3 L214.1,283.3 L214.9,282.6 L215.4,282.6 L215.8,281.8 L216.8,279.9 L217.8,281.1 L219.8,254.2 L221.0,252.5 L223.3,252.5 L224.1,250.8 L224.6,250.8 L225.0,249.1 L229.3,249.1 L229.8,247.5 L230.8,245.0 L232.7,238.6 L235.3,238.6 L236.1,240.8 L236.3,240.8 L236.7,243.0 L237.7,244.7 L241.0,244.7 L241.7,244.7 L242.5,243.8 L245.3,243.8 L245.7,242.9 L246.7,241.1 L248.6,237.8 L252.5,237.8 L253.0,237.4 L253.7,237.4 L254.5,236.6 L257.2,236.6 L257.6,235.9 L260.0,235.9 L260.8,235.1 L261.6,235.1 L262.0,234.4 L263.8,234.4 L264.6,233.5 L265.1,233.5 L265.5,232.6 L267.5,232.6 L268.0,231.6 L272.1,231.6 L272.9,231.2 L273.1,231.2 L273.5,230.9 L279.0,230.9 L279.8,230.7 L281.9,230.7 L282.3,230.5 L283.2,207.3 L289.3,207.2 L289.9,206.8 L293.7,206.8 L294.2,206.3 L294.8,206.0 L296.1,206.0 L296.9,205.3 L299.5,205.3 L299.9,204.6 L300.9,197.0 L301.9,197.0 L302.7,195.9 L304.6,195.9 L305.0,194.8 L306.9,194.8 L307.7,193.4 L309.1,193.4 L309.5,192.0 L310.3,184.6 L313.5,184.6 L314.0,182.8 L317.3,182.8 L317.8,181.0 L318.8,179.2 L321.4,179.2 L322.2,177.4 L325.4,177.4 L325.8,175.7 L331.0,175.7 L331.5,173.0 L332.0,169.5 L336.2,169.5 L336.7,167.2 L338.7,166.4 L347.0,166.4 L347.5,164.7 L348.6,159.6 L353.5,159.6 L354.0,159.2 L354.8,155.6 L357.5,155.6 L358.0,156.1 L359.6,158.6 L361.6,160.2 L363.5,160.2 L364.0,156.3 L366.0,156.3 L366.5,153.3 L369.0,153.3 L369.5,154.9 L371.0,153.7 L371.6,147.7 L377.0,147.7 L377.5,145.2 L378.6,146.0 L380.6,120.8 L383.9,120.8 L384.7,121.6 L387.6,121.6 L388.0,122.3 L394.4,122.3 L394.9,123.3 L395.9,108.7 L397.8,108.7 L398.6,108.3 L399.6,108.3 L400.0,107.8 L403.5,107.8 L404.0,107.3 L411.7,107.2 L412.4,99.9 L418.4,99.9 L419.2,99.1 L419.6,99.1 L420.0,98.4 L426.2,98.4 L427.0,97.9 L427.3,97.9 L427.7,97.4 L428.6,99.6 L431.5,99.6 L432.0,100.4 L432.7,92.4 L437.0,92.3 L440.9,92.2 L441.6,83.5 L444.5,83.5 L445.0,82.8 L448.3,82.8 L448.8,83.3 L449.6,81.7 L450.4,70.8 L452.0,50.0 L452.9,45.4 L456.2,45.4 L456.7,47.3 L457.5,52.1 L458.4,58.2 L460.0,59.7 L461.5,60.5 L463.0,58.0 L464.6,58.0 L465.4,58.2 L465.6,58.2 L466.0,58.5 L470.0,58.6 L472.0,59.8 L472.9,59.8 L473.7,59.6 L478.7,59.6 L479.5,59.4 L480.0,59.4 L480.4,59.2"/>
<path d="M80.4,374.2 L93.9,374.0 L94.9,375.5 L96.9,379.1 L97.8,379.1 L98.6,378.8 L99.6,378.8 L100.0,378.5 L104.3,378.5 L104.8,375.5 L105.8,374.9 L106.8,377.0 L108.8,383.8 L110.8,398.7 L112.8,402.1 L113.8,399.4 L114.8,375.5 L116.7,352.6 L118.7,344.9 L120.9,355.3 L121.7,359.1 L123.7,343.6 L124.7,346.1 L126.5,348.4 L128.5,348.4 L129.3,348.3 L132.4,348.3 L133.2,348.2 L134.5,348.2 L134.9,348.1 L135.8,336.7 L136.3,336.7 L137.1,337.0 L139.2,337.0 L139.6,337.3 L140.4,334.8 L141.8,342.6 L145.8,342.4 L146.8,316.4 L147.8,317.2 L149.8,320.7 L152.2,320.7 L152.7,315.6 L153.7,315.6 L154.5,314.9 L157.3,314.9 L157.7,314.2 L158.7,313.7 L159.7,312.4 L163.2,312.4 L163.7,309.8 L164.7,300.8 L165.7,301.6 L167.7,303.5 L169.6,302.3 L173.5,302.3 L174.0,301.0 L179.1,301.0 L179.6,299.6 L185.0,299.6 L185.5,298.7 L185.9,294.0 L189.5,294.0 L190.0,293.5 L193.5,293.5 L194.3,293.0 L195.1,293.0 L195.5,292.6 L196.5,285.3 L205.0,285.3 L209.9,285.3 L210.7,284.8 L214.1,284.8 L214.9,284.4 L215.4,284.4 L215.8,283.9 L216.8,282.2 L217.8,283.5 L219.8,255.4 L221.0,255.1 L223.3,255.1 L224.1,254.3 L224.6,254.3 L225.0,253.5 L229.3,253.5 L229.8,252.0 L230.8,249.7 L232.7,243.4 L235.3,243.4 L236.1,244.6 L236.3,244.6 L236.7,245.9 L237.7,247.2 L241.0,247.3 L241.7,247.3 L242.5,245.8 L245.3,245.8 L245.7,244.2 L246.7,242.7 L248.6,239.8 L252.5,239.8 L253.0,238.2 L253.7,238.2 L254.5,237.4 L257.2,237.4 L257.6,236.6 L260.0,236.6 L260.8,235.7 L261.6,235.7 L262.0,234.8 L263.8,234.8 L264.6,234.3 L265.1,234.3 L265.5,233.7 L267.5,233.7 L268.0,232.5 L272.1,232.5 L272.9,231.9 L273.1,231.9 L273.5,231.4 L279.0,231.4 L279.8,231.2 L281.9,231.2 L282.3,231.0 L283.2,207.7 L284.6,207.7 L285.4,207.8 L288.9,207.8 L289.3,208.0 L289.9,207.1 L293.7,207.1 L294.2,205.9 L294.8,205.6 L299.9,205.9 L300.9,197.7 L301.9,197.7 L302.7,196.5 L304.6,196.5 L305.0,195.3 L306.9,195.3 L307.7,194.1 L309.1,194.1 L309.5,192.9 L310.3,185.6 L313.5,185.6 L314.0,183.8 L317.3,183.8 L317.8,181.7 L318.8,179.9 L321.4,179.9 L322.2,177.8 L325.4,177.8 L325.8,175.8 L331.0,175.8 L331.5,172.6 L332.0,169.0 L336.2,169.0 L336.7,166.8 L338.7,165.9 L347.0,165.9 L347.5,164.8 L348.6,159.8 L354.0,160.0 L354.8,156.5 L357.5,156.5 L358.0,158.5 L359.6,160.5 L361.6,160.6 L363.5,160.6 L364.0,156.7 L366.0,156.7 L366.5,153.5 L369.0,153.5 L369.5,154.8 L371.0,153.5 L371.6,147.3 L377.0,147.3 L377.5,144.9 L378.6,146.2 L380.6,120.7 L383.9,120.7 L384.7,121.3 L387.6,121.3 L388.0,121.9 L394.4,121.9 L394.9,122.8 L395.9,108.8 L397.8,108.8 L398.6,108.5 L399.6,108.5 L400.0,108.1 L403.5,108.1 L404.0,106.2 L411.7,106.4 L412.4,99.2 L418.4,99.2 L419.2,99.0 L419.6,99.0 L420.0,98.7 L426.2,98.7 L427.0,98.3 L427.3,98.3 L427.7,97.8 L428.6,100.0 L431.5,100.0 L432.0,100.8 L432.7,93.2 L436.5,93.2 L437.0,93.5 L438.3,93.5 L439.1,93.8 L440.5,93.8 L440.9,94.1 L441.6,85.1 L444.5,85.1 L445.0,84.5 L448.8,84.4 L449.6,83.0 L450.4,72.3 L452.0,50.8 L452.9,46.3 L456.2,46.3 L456.7,48.1 L457.5,53.4 L458.4,60.1 L460.0,61.0 L461.5,61.7 L463.0,59.2 L464.6,59.2 L465.4,59.5 L465.6,59.5 L466.0,59.8 L470.0,60.0 L472.0,61.3 L472.9,61.3 L473.7,61.7 L478.7,61.7 L479.5,62.2 L480.0,62.2 L480.4,62.6"/>
<path d="M80.4,373.8 L93.9,373.8 L94.9,375.4 L96.9,379.3 L97.8,379.3 L98.6,379.1 L99.6,379.1 L100.0,378.9 L104.3,378.9 L104.8,376.0 L105.8,375.4 L106.8,377.8 L108.8,384.3 L110.8,399.5 L112.8,402.9 L113.8,400.0 L114.8,377.1 L116.7,354.3 L118.7,346.0 L120.9,356.9 L121.7,360.8 L123.7,344.9 L124.7,346.8 L126.5,350.0 L128.5,350.0 L129.3,349.7 L132.4,349.7 L133.2,349.4 L134.5,349.4 L134.9,349.1 L135.8,337.9 L136.3,337.9 L137.1,338.4 L139.2,338.4 L139.6,338.9 L140.4,336.6 L141.8,344.8 L145.3,344.8 L145.8,345.5 L146.8,321.3 L147.8,322.1 L149.8,325.5 L152.2,325.5 L152.7,321.4 L153.7,321.4 L154.5,320.5 L157.3,320.5 L157.7,319.6 L158.7,317.5 L159.7,316.5 L163.2,316.5 L163.7,313.1 L164.7,304.1 L165.7,305.1 L167.7,305.1 L169.6,303.6 L173.5,303.6 L174.0,302.2 L179.1,302.2 L179.6,301.6 L185.0,301.6 L185.5,300.8 L185.9,295.8 L189.5,295.8 L190.0,295.1 L193.5,295.1 L194.3,294.5 L195.1,294.5 L195.5,293.9 L196.5,287.5 L197.2,287.5 L198.0,286.5 L204.6,286.5 L205.0,285.5 L209.9,285.5 L210.7,285.0 L214.1,285.0 L214.9,284.6 L215.4,284.6 L215.8,284.1 L216.8,282.7 L217.8,284.0 L219.8,257.9 L221.0,255.9 L223.3,255.9 L224.1,254.7 L224.6,254.7 L225.0,253.6 L229.3,253.6 L229.8,251.2 L230.8,248.4 L232.7,241.8 L235.3,241.8 L236.1,242.7 L236.3,242.7 L236.7,243.5 L237.7,246.0 L240.5,246.0 L241.0,245.4 L241.7,245.4 L242.5,244.0 L245.3,244.0 L245.7,242.5 L246.7,241.0 L248.6,238.1 L252.5,238.1 L253.0,237.7 L253.7,237.7 L254.5,237.1 L257.2,237.1 L257.6,236.4 L260.0,236.4 L260.8,235.7 L261.6,235.7 L262.0,234.9 L263.8,234.9 L264.6,234.1 L265.1,234.1 L265.5,233.3 L267.5,233.3 L268.0,232.0 L272.1,232.0 L272.9,231.0 L273.1,231.0 L273.5,230.1 L279.0,230.1 L279.8,230.0 L281.9,230.0 L282.3,229.8 L283.2,206.7 L284.6,206.7 L285.4,206.8 L288.9,206.8 L289.3,207.0 L289.9,207.0 L294.2,206.8 L294.8,205.8 L296.1,205.8 L296.9,205.6 L299.5,205.6 L299.9,205.4 L300.9,197.0 L301.9,197.0 L302.7,196.0 L304.6,196.0 L305.0,195.0 L306.9,195.0 L307.7,193.8 L309.1,193.8 L309.5,192.6 L310.3,185.6 L313.5,185.6 L314.0,184.2 L317.3,184.2 L317.8,182.8 L318.8,181.3 L321.4,181.3 L322.2,179.5 L325.4,179.5 L325.8,177.8 L331.0,177.8 L331.5,175.6 L332.0,172.1 L336.2,172.1 L336.7,169.3 L338.7,168.7 L347.0,168.7 L347.5,168.2 L348.6,163.2 L353.5,163.2 L354.0,163.6 L354.8,160.4 L357.5,160.4 L358.0,161.3 L359.6,163.3 L361.6,164.5 L363.5,164.5 L364.0,160.8 L366.0,160.8 L366.5,157.3 L369.0,157.3 L369.5,158.0 L371.0,156.7 L371.6,151.4 L377.0,151.4 L377.5,148.5 L378.6,148.9 L380.6,123.8 L383.9,123.8 L384.7,124.3 L387.6,124.3 L388.0,124.8 L394.4,124.8 L394.9,127.1 L395.9,112.3 L397.8,112.3 L398.6,111.8 L399.6,111.8 L400.0,111.3 L403.5,111.3 L404.0,110.5 L404.7,110.5 L405.5,110.0 L411.3,110.0 L411.7,109.5 L412.4,102.0 L418.4,102.0 L419.2,100.9 L419.6,100.9 L420.0,99.7 L426.2,99.7 L427.0,99.1 L427.3,99.1 L427.7,98.5 L428.6,99.8 L431.5,99.8 L432.0,100.6 L432.7,92.8 L436.5,92.8 L437.0,93.1 L440.9,93.1 L441.6,85.0 L444.5,85.0 L445.0,83.7 L448.8,83.5 L449.6,82.0 L450.4,71.1 L452.0,50.1 L452.9,45.6 L456.2,45.6 L456.7,47.4 L457.5,52.9 L458.4,59.2 L460.0,60.6 L461.5,61.3 L463.0,58.9 L464.6,58.9 L465.4,59.2 L465.6,59.2 L466.0,59.5 L470.0,59.5 L472.0,60.7 L472.9,60.7 L473.7,60.6 L478.7,60.6 L479.5,60.5 L480.0,60.5 L480.4,60.4"/>
<path d="M80.4,374.3 L83.0,374.3 L83.8,374.6 L87.2,374.6 L88.0,374.9 L93.5,374.9 L93.9,375.3 L94.9,377.4 L96.9,380.8 L97.8,380.8 L98.6,380.2 L99.6,380.2 L100.0,379.6 L104.3,379.6 L104.8,376.6 L105.8,375.9 L106.8,378.3 L108.8,385.1 L110.8,400.0 L112.8,403.1 L113.8,400.7 L114.8,377.7 L116.7,355.2 L118.7,346.1 L120.9,357.2 L121.7,361.3 L123.7,345.4 L124.7,347.8 L126.5,350.9 L128.5,350.9 L129.3,350.8 L132.4,350.8 L133.2,350.6 L134.5,350.6 L134.9,350.5 L135.8,339.5 L136.3,339.5 L137.1,339.7 L139.2,339.7 L139.6,339.9 L140.4,337.5 L141.8,346.0 L145.3,346.0 L145.8,345.4 L146.8,320.9 L147.8,321.7 L149.8,325.0 L152.2,325.0 L152.7,320.9 L153.7,320.9 L154.5,320.1 L157.3,320.1 L157.7,319.4 L158.7,317.4 L159.7,316.3 L163.2,316.3 L163.7,312.6 L164.7,303.5 L165.7,303.9 L167.7,305.1 L169.6,303.5 L173.5,303.5 L174.0,301.7 L179.1,301.7 L179.6,301.0 L185.0,301.0 L185.5,300.3 L185.9,295.1 L190.0,295.0 L193.5,295.0 L194.3,293.9 L195.1,293.9 L195.5,292.9 L196.5,286.3 L205.0,286.5 L215.8,286.3 L216.8,284.6 L217.8,284.4 L219.8,258.4 L221.0,256.2 L223.3,256.2 L224.1,255.0 L224.6,255.0 L225.0,253.8 L229.3,253.8 L229.8,251.8 L230.8,249.5 L232.7,243.6 L235.3,243.6 L236.1,244.9 L236.3,244.9 L236.7,246.2 L237.7,247.7 L240.5,247.7 L241.0,248.1 L241.7,248.1 L242.5,247.1 L245.3,247.1 L245.7,246.1 L246.7,244.7 L248.6,242.2 L252.5,242.2 L253.0,240.3 L253.7,240.3 L254.5,239.4 L257.2,239.4 L257.6,238.5 L260.0,238.5 L260.8,237.8 L261.6,237.8 L262.0,237.0 L263.8,237.0 L264.6,236.5 L265.1,236.5 L265.5,236.0 L267.5,236.0 L268.0,235.0 L272.1,235.0 L272.9,234.7 L273.1,234.7 L273.5,234.3 L279.0,234.3 L279.8,233.6 L281.9,233.6 L282.3,232.8 L283.2,209.4 L284.6,209.4 L285.4,209.0 L288.9,209.0 L289.3,208.6 L289.9,207.7 L293.7,207.7 L294.2,207.3 L294.8,207.8 L296.1,207.8 L296.9,207.6 L299.5,207.6 L299.9,207.4 L300.9,198.8 L301.9,198.8 L302.7,197.7 L304.6,197.7 L305.0,196.7 L306.9,196.7 L307.7,195.2 L309.1,195.2 L309.5,193.8 L310.3,186.6 L313.5,186.6 L314.0,184.6 L317.3,184.6 L317.8,182.9 L318.8,180.7 L321.4,180.7 L322.2,179.7 L325.4,179.7 L325.8,178.8 L331.0,178.8 L331.5,175.2 L332.0,172.0 L336.2,172.0 L336.7,168.7 L338.7,168.2 L347.0,168.2 L347.5,167.1 L348.6,162.2 L353.5,162.2 L354.0,163.2 L354.8,160.0 L357.5,160.0 L358.0,160.9 L359.6,162.9 L361.6,164.3 L363.5,164.3 L364.0,160.2 L366.0,160.2 L366.5,157.0 L369.0,157.0 L369.5,157.7 L371.0,156.4 L371.6,151.0 L377.0,151.0 L377.5,148.9 L378.6,149.5 L380.6,124.9 L383.9,124.9 L384.7,125.9 L387.6,125.9 L388.0,126.8 L394.4,126.8 L394.9,127.3 L395.9,112.3 L397.8,112.3 L398.6,111.5 L399.6,111.5 L400.0,110.7 L403.5,110.7 L404.0,109.8 L411.7,109.8 L412.4,103.3 L418.4,103.3 L419.2,102.3 L419.6,102.3 L420.0,101.2 L426.2,101.2 L427.0,99.7 L427.3,99.7 L427.7,98.1 L428.6,100.1 L431.5,100.1 L432.0,100.7 L432.7,93.7 L436.5,93.7 L437.0,94.1 L438.3,94.1 L439.1,94.2 L440.5,94.2 L440.9,94.4 L441.6,85.3 L444.5,85.3 L445.0,84.4 L448.8,84.3 L449.6,82.9 L450.4,72.1 L452.0,51.4 L452.9,46.9 L456.2,46.9 L456.7,48.5 L457.5,53.9 L458.4,60.3 L460.0,61.5 L461.5,62.1 L463.0,59.7 L464.6,59.7 L465.4,60.1 L465.6,60.1 L466.0,60.4 L469.5,60.4 L470.0,60.9 L472.0,62.5 L480.4,62.6"/>
<path d="M80.4,375.8 L93.9,375.6 L94.9,377.1 L96.9,380.9 L97.8,380.9 L98.6,380.6 L99.6,380.6 L100.0,380.4 L104.3,380.4 L104.8,377.1 L105.8,376.4 L106.8,378.7 L108.8,384.9 L110.8,399.7 L112.8,402.9 L113.8,400.4 L114.8,377.2 L116.7,354.0 L118.7,345.8 L120.9,356.8 L121.7,360.9 L123.7,345.0 L124.7,347.4 L126.5,350.1 L134.9,350.2 L135.8,339.1 L136.3,339.1 L137.1,339.4 L139.2,339.4 L139.6,339.7 L140.4,337.3 L141.8,345.3 L145.8,345.4 L146.8,321.1 L147.8,322.0 L149.8,325.5 L152.2,325.5 L152.7,321.6 L153.7,321.6 L154.5,320.8 L157.3,320.8 L157.7,320.0 L158.7,317.0 L159.7,315.4 L163.2,315.4 L163.7,312.1 L164.7,304.3 L165.7,303.5 L167.7,306.1 L169.6,304.2 L173.5,304.2 L174.0,303.1 L179.1,303.1 L179.6,302.8 L185.0,302.8 L185.5,301.8 L185.9,296.8 L189.5,296.8 L190.0,295.9 L193.5,295.9 L194.3,295.4 L195.1,295.4 L195.5,294.9 L196.5,288.8 L205.0,288.6 L209.9,288.6 L210.7,288.1 L214.1,288.1 L214.9,287.6 L215.4,287.6 L215.8,287.1 L216.8,285.3 L217.8,286.4 L219.8,260.7 L221.0,258.5 L223.3,258.5 L224.1,257.6 L224.6,257.6 L225.0,256.6 L229.3,256.6 L229.8,255.3 L230.8,253.3 L232.7,247.7 L235.3,247.7 L236.1,248.7 L236.3,248.7 L236.7,249.6 L237.7,250.6 L240.5,250.6 L241.0,250.1 L241.7,250.1 L242.5,248.6 L245.3,248.6 L245.7,247.1 L246.7,245.6 L248.6,242.7 L253.0,242.6 L253.7,242.6 L254.5,241.9 L257.2,241.9 L257.6,241.2 L260.0,241.2 L260.8,240.4 L261.6,240.4 L262.0,239.7 L263.8,239.7 L264.6,238.8 L265.1,238.8 L265.5,238.0 L267.5,238.0 L268.0,236.5 L272.1,236.5 L272.9,235.7 L273.1,235.7 L273.5,235.0 L282.3,235.2 L283.2,211.8 L284.6,211.8 L285.4,211.7 L288.9,211.7 L289.3,211.5 L289.9,210.6 L293.7,210.6 L294.2,209.5 L294.8,209.3 L296.1,209.3 L296.9,208.8 L299.5,208.8 L299.9,208.2 L300.9,200.7 L301.9,200.7 L302.7,199.8 L304.6,199.8 L305.0,198.9 L306.9,198.9 L307.7,198.0 L309.1,198.0 L309.5,197.0 L310.3,189.3 L313.5,189.3 L314.0,186.9 L317.3,186.9 L317.8,185.2 L318.8,183.5 L321.4,183.5 L322.2,181.6 L325.4,181.6 L325.8,179.8 L331.0,179.8 L331.5,177.0 L332.0,173.9 L336.2,173.9 L336.7,171.9 L338.7,171.9 L347.0,171.9 L347.5,170.2 L348.6,165.1 L353.5,165.1 L354.0,164.4 L354.8,161.2 L357.5,161.2 L358.0,161.7 L359.6,163.7 L361.6,165.0 L363.5,165.0 L364.0,161.1 L366.0,161.1 L366.5,156.6 L369.0,156.6 L369.5,157.4 L371.0,156.1 L371.6,150.6 L377.0,150.6 L377.5,147.4 L378.6,147.9 L380.6,122.6 L383.9,122.6 L384.7,123.4 L387.6,123.4 L388.0,124.2 L394.4,124.2 L394.9,126.9 L395.9,112.0 L397.8,112.0 L398.6,111.2 L399.6,111.2 L400.0,110.5 L403.5,110.5 L404.0,109.5 L411.7,109.3 L412.4,102.0 L418.4,102.0 L419.2,101.4 L419.6,101.4 L420.0,100.9 L426.2,100.9 L427.0,100.0 L427.3,100.0 L427.7,99.1 L428.6,100.8 L432.0,100.9 L432.7,93.3 L436.5,93.3 L437.0,93.7 L438.3,93.7 L439.1,94.0 L440.5,94.0 L440.9,94.4 L441.6,85.7 L444.5,85.7 L445.0,85.2 L448.3,85.2 L448.8,85.6 L449.6,84.3 L450.4,73.9 L452.0,52.7 L452.9,48.1 L456.2,48.1 L456.7,49.8 L457.5,55.4 L458.4,62.0 L460.0,63.0 L461.5,63.5 L463.0,61.6 L464.6,61.6 L465.4,62.0 L465.6,62.0 L466.0,62.4 L469.5,62.4 L470.0,61.9 L472.0,63.5 L480.4,63.4"/>
<path d="M80.4,375.7 L83.0,375.7 L83.8,375.9 L87.2,375.9 L88.0,376.0 L93.5,376.0 L93.9,376.1 L94.9,377.2 L96.9,380.8 L97.8,380.8 L98.6,380.6 L99.6,380.6 L100.0,380.4 L104.3,380.4 L104.8,377.3 L105.8,376.5 L106.8,378.9 L108.8,385.2 L110.8,400.0 L112.8,403.4 L113.8,400.9 L114.8,378.1 L116.7,355.5 L118.7,346.7 L120.9,358.0 L121.7,362.2 L123.7,345.5 L124.7,348.4 L126.5,351.0 L128.5,351.0 L129.3,351.2 L132.4,351.2 L133.2,351.4 L134.5,351.4 L134.9,351.6 L135.8,340.9 L136.3,340.9 L137.1,341.2 L139.2,341.2 L139.6,341.6 L140.4,339.3 L141.8,347.5 L145.8,347.3 L146.8,324.0 L147.8,324.6 L149.8,327.6 L152.2,327.6 L152.7,323.7 L153.7,323.7 L154.5,323.0 L157.3,323.0 L157.7,322.3 L158.7,320.4 L159.7,319.9 L163.2,319.9 L163.7,317.1 L164.7,308.2 L165.7,308.6 L167.7,309.6 L169.6,307.9 L173.5,307.9 L174.0,306.2 L179.1,306.2 L179.6,304.8 L185.0,304.8 L185.5,303.1 L185.9,298.3 L189.5,298.3 L190.0,297.9 L193.5,297.9 L194.3,297.6 L195.1,297.6 L195.5,297.4 L196.5,291.5 L197.2,291.5 L198.0,290.9 L204.6,290.9 L205.0,290.4 L209.9,290.4 L210.7,289.6 L214.1,289.6 L214.9,288.9 L215.4,288.9 L215.8,288.1 L216.8,286.4 L217.8,287.5 L219.8,261.8 L221.0,259.3 L223.3,259.3 L224.1,258.4 L224.6,258.4 L225.0,257.4 L229.3,257.4 L229.8,256.1 L230.8,254.0 L232.7,248.2 L235.3,248.2 L236.1,249.0 L236.3,249.0 L236.7,249.7 L237.7,250.6 L241.0,250.3 L241.7,250.3 L242.5,248.8 L245.3,248.8 L245.7,247.2 L246.7,245.7 L248.6,242.7 L252.5,242.7 L253.0,241.1 L253.7,241.1 L254.5,240.6 L257.2,240.6 L257.6,240.1 L260.0,240.1 L260.8,239.3 L261.6,239.3 L262.0,238.6 L263.8,238.6 L264.6,237.9 L265.1,237.9 L265.5,237.1 L267.5,237.1 L268.0,235.8 L272.1,235.8 L272.9,235.0 L273.1,235.0 L273.5,234.2 L279.0,234.2 L279.8,233.7 L281.9,233.7 L282.3,233.2 L283.2,209.8 L289.3,209.8 L289.9,208.8 L293.7,208.8 L294.2,208.5 L294.8,208.2 L296.1,208.2 L296.9,207.8 L299.5,207.8 L299.9,207.5 L300.9,199.8 L301.9,199.8 L302.7,198.9 L304.6,198.9 L305.0,198.1 L306.9,198.1 L307.7,196.4 L309.1,196.4 L309.5,194.7 L310.3,188.0 L313.5,188.0 L314.0,185.4 L317.3,185.4 L317.8,184.1 L318.8,182.6 L321.4,182.6 L322.2,181.2 L325.4,181.2 L325.8,179.9 L331.0,179.9 L331.5,177.3 L332.0,174.2 L336.2,174.2 L336.7,170.9 L338.7,170.5 L347.5,170.5 L348.6,165.6 L353.5,165.6 L354.0,166.0 L354.8,163.0 L357.5,163.0 L358.0,163.8 L359.6,165.8 L361.6,166.8 L363.5,166.8 L364.0,162.7 L366.0,162.7 L366.5,159.5 L369.0,159.5 L369.5,158.6 L371.0,157.3 L371.6,152.1 L377.0,152.1 L377.5,149.6 L378.6,150.3 L380.6,126.5 L383.9,126.5 L384.7,127.5 L387.6,127.5 L388.0,128.6 L394.4,128.6 L394.9,130.0 L395.9,114.8 L397.8,114.8 L398.6,114.1 L399.6,114.1 L400.0,113.3 L403.5,113.3 L404.0,112.3 L404.7,112.3 L405.5,112.2 L411.3,112.2 L411.7,112.0 L412.4,104.5 L418.4,104.5 L419.2,104.1 L419.6,104.1 L420.0,103.7 L426.2,103.7 L427.0,103.0 L427.3,103.0 L427.7,102.2 L428.6,103.0 L432.0,102.7 L432.7,96.5 L437.0,96.6 L438.3,96.6 L439.1,96.8 L440.5,96.8 L440.9,97.0 L441.6,87.4 L444.5,87.4 L445.0,86.5 L448.8,86.5 L449.6,85.4 L450.4,75.2 L452.0,54.0 L452.9,49.6 L456.2,49.6 L456.7,51.5 L457.5,57.4 L458.4,64.3 L460.0,65.0 L461.5,65.1 L463.0,62.8 L466.0,62.7 L470.0,62.6 L472.0,64.0 L472.9,64.0 L473.7,64.3 L478.7,64.3 L479.5,64.6 L480.0,64.6 L480.4,64.9"/>
<path d="M80.4,378.6 L83.0,378.6 L83.8,378.9 L87.2,378.9 L88.0,379.1 L93.5,379.1 L93.9,379.4 L94.9,380.4 L96.9,382.9 L97.8,382.9 L98.6,382.6 L99.6,382.6 L100.0,382.2 L104.3,382.2 L104.8,378.6 L105.8,378.0 L106.8,380.3 L108.8,386.5 L110.8,401.0 L112.8,404.0 L113.8,401.8 L114.8,379.5 L116.7,357.1 L118.7,347.7 L120.9,359.1 L121.7,363.2 L123.7,346.3 L124.7,348.7 L126.5,351.2 L134.9,351.1 L135.8,340.3 L136.3,340.3 L137.1,340.8 L139.2,340.8 L139.6,341.4 L140.4,339.2 L141.8,347.4 L145.8,347.4 L146.8,324.1 L147.8,324.7 L149.8,327.6 L152.2,327.6 L152.7,323.8 L153.7,323.8 L154.5,322.8 L157.3,322.8 L157.7,321.9 L158.7,320.0 L159.7,319.2 L163.2,319.2 L163.7,315.9 L164.7,307.0 L165.7,306.5 L167.7,308.6 L169.6,306.9 L173.5,306.9 L174.0,305.4 L179.1,305.4 L179.6,304.5 L185.0,304.5 L185.5,303.8 L185.9,299.2 L189.5,299.2 L190.0,298.2 L193.5,298.2 L194.3,298.0 L195.1,298.0 L195.5,297.7 L196.5,292.1 L197.2,292.1 L198.0,291.9 L204.6,291.9 L205.0,291.7 L209.9,291.7 L210.7,291.4 L214.1,291.4 L214.9,291.0 L215.4,291.0 L215.8,290.7 L216.8,289.1 L217.8,290.2 L219.8,265.4 L221.0,262.4 L223.3,262.4 L224.1,261.2 L224.6,261.2 L225.0,259.9 L229.3,259.9 L229.8,257.4 L230.8,255.3 L232.7,249.4 L235.3,249.4 L236.1,250.0 L236.3,250.0 L236.7,250.5 L237.7,251.4 L241.0,251.4 L241.7,251.4 L242.5,249.9 L245.3,249.9 L245.7,248.3 L246.7,247.1 L248.6,243.9 L252.5,243.9 L253.0,242.8 L253.7,242.8 L254.5,242.1 L257.2,242.1 L257.6,241.4 L260.0,241.4 L260.8,240.5 L261.6,240.5 L262.0,239.6 L263.8,239.6 L264.6,238.6 L265.1,238.6 L265.5,237.6 L267.5,237.6 L268.0,236.5 L272.1,236.5 L272.9,236.3 L273.1,236.3 L273.5,236.1 L279.0,236.1 L279.8,235.7 L281.9,235.7 L282.3,235.3 L283.2,212.5 L284.6,212.5 L285.4,212.3 L288.9,212.3 L289.3,212.0 L289.9,210.1 L293.7,210.1 L294.2,209.5 L294.8,209.2 L296.1,209.2 L296.9,208.9 L299.5,208.9 L299.9,208.6 L300.9,201.3 L301.9,201.3 L302.7,200.4 L304.6,200.4 L305.0,199.5 L306.9,199.5 L307.7,198.3 L309.1,198.3 L309.5,197.0 L310.3,189.3 L313.5,189.3 L314.0,188.0 L317.3,188.0 L317.8,186.7 L318.8,185.3 L321.4,185.3 L322.2,184.7 L325.4,184.7 L325.8,184.0 L331.0,184.0 L331.5,181.7 L332.0,179.2 L336.2,179.2 L336.7,175.4 L338.7,175.8 L347.0,175.8 L347.5,174.4 L348.6,169.3 L353.5,169.3 L354.0,168.8 L354.8,165.8 L358.0,165.8 L359.6,167.2 L361.6,167.8 L363.5,167.8 L364.0,163.4 L366.0,163.4 L366.5,160.1 L369.5,160.3 L371.0,159.0 L371.6,154.3 L377.0,154.3 L377.5,150.7 L378.6,151.0 L380.6,126.4 L383.9,126.4 L384.7,127.0 L387.6,127.0 L388.0,127.5 L394.4,127.5 L394.9,129.2 L395.9,114.1 L397.8,114.1 L398.6,113.5 L399.6,113.5 L400.0,113.0 L403.5,113.0 L404.0,111.5 L404.7,111.5 L405.5,111.4 L411.3,111.4 L411.7,111.2 L412.4,103.7 L418.4,103.7 L419.2,102.8 L419.6,102.8 L420.0,101.9 L426.2,101.9 L427.0,101.2 L427.3,101.2 L427.7,100.5 L428.6,101.8 L431.5,101.8 L432.0,102.5 L432.7,96.0 L436.5,96.0 L437.0,97.6 L438.3,97.6 L439.1,97.9 L440.5,97.9 L440.9,98.2 L441.6,88.5 L444.5,88.5 L445.0,87.6 L448.3,87.6 L448.8,87.3 L449.6,86.2 L450.4,76.2 L452.0,54.7 L452.9,50.4 L456.2,50.4 L456.7,51.9 L457.5,58.0 L458.4,65.1 L460.0,65.7 L461.5,65.9 L463.0,63.6 L464.6,63.6 L465.4,63.8 L465.6,63.8 L466.0,64.1 L470.0,64.1 L472.0,65.6 L472.9,65.6 L473.7,65.4 L478.7,65.4 L479.5,65.2 L480.0,65.2 L480.4,65.0"/>
<path d="M80.4,378.9 L93.9,378.7 L94.9,380.4 L96.9,382.1 L97.8,382.1 L98.6,381.8 L99.6,381.8 L100.0,381.5 L104.3,381.5 L104.8,378.5 L105.8,378.3 L106.8,380.7 L108.8,386.8 L110.8,401.4 L112.8,404.3 L113.8,402.2 L114.8,380.1 L116.7,356.6 L118.7,347.4 L120.9,358.6 L121.7,362.6 L123.7,346.0 L124.7,348.7 L126.5,351.2 L134.9,351.4 L135.8,340.7 L136.3,340.7 L137.1,341.1 L139.2,341.1 L139.6,341.5 L140.4,340.0 L141.8,348.5 L145.3,348.5 L145.8,348.8 L146.8,326.2 L147.8,326.8 L149.8,329.9 L152.2,329.9 L152.7,326.6 L153.7,326.6 L154.5,325.5 L157.3,325.5 L157.7,324.5 L158.7,322.6 L159.7,321.9 L163.2,321.9 L163.7,318.4 L164.7,309.2 L165.7,309.5 L167.7,309.8 L169.6,308.1 L173.5,308.1 L174.0,306.8 L179.1,306.8 L179.6,306.1 L185.0,306.1 L185.5,305.4 L185.9,301.0 L189.5,301.0 L190.0,300.2 L193.5,300.2 L194.3,299.8 L195.1,299.8 L195.5,299.3 L196.5,293.5 L197.2,293.5 L198.0,292.5 L204.6,292.5 L205.0,291.5 L209.9,291.5 L210.7,290.8 L214.1,290.8 L214.9,290.2 L215.4,290.2 L215.8,289.6 L216.8,287.9 L217.8,288.1 L219.8,263.9 L221.0,261.1 L223.3,261.1 L224.1,260.0 L224.6,260.0 L225.0,258.9 L229.3,258.9 L229.8,256.8 L230.8,254.7 L232.7,248.9 L235.3,248.9 L236.1,249.6 L236.3,249.6 L236.7,250.3 L237.7,250.4 L241.0,250.3 L241.7,250.3 L242.5,249.5 L245.3,249.5 L245.7,248.7 L246.7,247.5 L248.6,243.2 L252.5,243.2 L253.0,241.8 L253.7,241.8 L254.5,241.4 L257.2,241.4 L257.6,241.0 L260.0,241.0 L260.8,240.4 L261.6,240.4 L262.0,239.9 L263.8,239.9 L264.6,239.4 L265.1,239.4 L265.5,238.9 L268.0,239.1 L272.1,239.1 L272.9,238.8 L273.1,238.8 L273.5,238.6 L279.0,238.6 L279.8,238.5 L281.9,238.5 L282.3,238.3 L283.2,214.8 L284.6,214.8 L285.4,214.4 L288.9,214.4 L289.3,214.1 L289.9,212.6 L293.7,212.6 L294.2,211.1 L294.8,211.0 L299.9,211.0 L300.9,204.3 L301.9,204.3 L302.7,203.4 L304.6,203.4 L305.0,202.5 L306.9,202.5 L307.7,201.5 L309.1,201.5 L309.5,200.4 L310.3,192.4 L313.5,192.4 L314.0,189.7 L317.3,189.7 L317.8,187.9 L318.8,186.3 L321.4,186.3 L322.2,184.3 L325.4,184.3 L325.8,182.3 L331.0,182.3 L331.5,179.0 L332.0,176.2 L336.2,176.2 L336.7,172.4 L338.7,173.9 L347.0,173.9 L347.5,173.1 L348.6,167.8 L354.0,167.6 L354.8,164.6 L357.5,164.6 L358.0,165.3 L359.6,166.9 L361.6,167.6 L363.5,167.6 L364.0,163.2 L366.0,163.2 L366.5,160.0 L369.0,160.0 L369.5,160.4 L371.0,159.5 L371.6,153.8 L377.0,153.8 L377.5,151.8 L378.6,151.9 L380.6,127.7 L383.9,127.7 L384.7,128.8 L387.6,128.8 L388.0,129.9 L394.4,129.9 L394.9,131.6 L395.9,116.3 L397.8,116.3 L398.6,115.6 L399.6,115.6 L400.0,114.8 L403.5,114.8 L404.0,114.4 L404.7,114.4 L405.5,114.1 L411.3,114.1 L411.7,113.8 L412.4,106.2 L418.4,106.2 L419.2,105.0 L419.6,105.0 L420.0,103.8 L426.2,103.8 L427.0,103.0 L427.3,103.0 L427.7,102.2 L428.6,103.0 L431.5,103.0 L432.0,103.5 L432.7,98.2 L437.0,98.4 L440.9,98.6 L441.6,88.7 L444.5,88.7 L445.0,87.3 L448.3,87.3 L448.8,86.8 L449.6,85.6 L450.4,75.4 L452.0,53.9 L452.9,49.2 L456.2,49.2 L456.7,51.2 L457.5,57.0 L458.4,63.9 L460.0,64.7 L461.5,65.0 L463.0,62.8 L466.0,62.9 L469.5,62.9 L470.0,63.6 L472.0,65.3 L480.4,65.3"/>
<path d="M80.4,378.8 L83.0,378.8 L83.8,379.4 L87.2,379.4 L88.0,380.0 L93.5,380.0 L93.9,380.5 L94.9,380.9 L96.9,383.3 L97.8,383.3 L98.6,383.0 L99.6,383.0 L100.0,382.7 L104.3,382.7 L104.8,379.1 L105.8,379.3 L106.8,381.8 L108.8,387.6 L110.8,402.1 L112.8,404.9 L113.8,403.0 L114.8,381.6 L116.7,360.0 L118.7,349.7 L120.9,361.9 L121.7,366.3 L123.7,348.3 L124.7,350.7 L126.5,353.1 L128.5,353.1 L129.3,352.9 L132.4,352.9 L133.2,352.7 L134.5,352.7 L134.9,352.5 L135.8,342.0 L136.3,342.0 L137.1,342.3 L139.2,342.3 L139.6,342.6 L140.4,340.9 L141.8,349.3 L145.8,349.4 L146.8,327.0 L147.8,327.5 L149.8,330.4 L152.2,330.4 L152.7,326.4 L153.7,326.4 L154.5,325.0 L157.3,325.0 L157.7,323.6 L158.7,321.5 L159.7,320.7 L163.2,320.7 L163.7,316.8 L164.7,308.2 L165.7,308.5 L167.7,309.3 L169.6,307.6 L173.5,307.6 L174.0,306.3 L179.1,306.3 L179.6,305.6 L185.0,305.6 L185.5,305.0 L185.9,300.4 L189.5,300.4 L190.0,299.5 L193.5,299.5 L194.3,298.8 L195.1,298.8 L195.5,298.2 L196.5,292.4 L205.0,292.3 L209.9,292.3 L210.7,292.1 L214.1,292.1 L214.9,292.0 L215.4,292.0 L215.8,291.9 L216.8,290.3 L217.8,291.3 L219.8,265.9 L221.0,262.9 L223.3,262.9 L224.1,261.7 L224.6,261.7 L225.0,260.6 L229.3,260.6 L229.8,258.9 L230.8,257.1 L232.7,251.9 L235.3,251.9 L236.1,252.7 L236.3,252.7 L236.7,253.5 L237.7,254.4 L240.5,254.4 L241.0,255.4 L241.7,255.4 L242.5,254.0 L245.3,254.0 L245.7,252.5 L246.7,251.2 L248.6,248.2 L252.5,248.2 L253.0,246.0 L253.7,246.0 L254.5,245.3 L257.2,245.3 L257.6,244.6 L260.0,244.6 L260.8,244.2 L261.6,244.2 L262.0,243.8 L263.8,243.8 L264.6,243.1 L265.1,243.1 L265.5,242.4 L267.5,242.4 L268.0,241.3 L272.1,241.3 L272.9,240.8 L273.1,240.8 L273.5,240.4 L279.0,240.4 L279.8,239.6 L281.9,239.6 L282.3,238.8 L283.2,214.0 L284.6,214.0 L285.4,213.8 L288.9,213.8 L289.3,213.7 L289.9,212.2 L293.7,212.2 L294.2,211.6 L294.8,211.2 L296.1,211.2 L296.9,210.9 L299.5,210.9 L299.9,210.6 L300.9,203.8 L301.9,203.8 L302.7,202.8 L304.6,202.8 L305.0,201.7 L306.9,201.7 L307.7,200.4 L309.1,200.4 L309.5,199.2 L310.3,191.2 L313.5,191.2 L314.0,189.1 L317.3,189.1 L317.8,187.5 L318.8,186.0 L321.4,186.0 L322.2,184.9 L325.4,184.9 L325.8,183.7 L331.0,183.7 L331.5,181.6 L332.0,178.0 L336.2,178.0 L336.7,174.4 L338.7,174.6 L347.0,174.6 L347.5,173.4 L348.6,168.5 L353.5,168.5 L354.0,169.2 L354.8,166.5 L357.5,166.5 L358.0,167.4 L359.6,170.3 L361.6,171.0 L363.5,171.0 L364.0,167.1 L366.0,167.1 L366.5,164.1 L369.5,163.8 L371.0,162.5 L371.6,158.9 L377.0,158.9 L377.5,154.8 L378.6,154.9 L380.6,130.8 L383.9,130.8 L384.7,131.6 L387.6,131.6 L388.0,132.4 L394.4,132.4 L394.9,133.5 L395.9,118.0 L397.8,118.0 L398.6,116.9 L399.6,116.9 L400.0,115.9 L403.5,115.9 L404.0,114.0 L404.7,114.0 L405.5,113.5 L411.3,113.5 L411.7,113.1 L412.4,105.5 L418.4,105.5 L419.2,104.6 L419.6,104.6 L420.0,103.7 L426.2,103.7 L427.0,103.2 L427.3,103.2 L427.7,102.8 L428.6,103.3 L432.0,103.4 L432.7,97.4 L437.0,97.4 L440.9,97.3 L441.6,87.7 L444.5,87.7 L445.0,86.9 L448.8,86.9 L449.6,85.7 L450.4,75.6 L452.0,54.3 L452.9,49.9 L456.2,49.9 L456.7,51.8 L457.5,58.7 L458.4,65.7 L460.0,65.9 L461.5,66.0 L463.0,63.9 L464.6,63.9 L465.4,64.1 L465.6,64.1 L466.0,64.3 L469.5,64.3 L470.0,64.6 L472.0,66.4 L472.9,66.4 L473.7,66.7 L478.7,66.7 L479.5,67.0 L480.0,67.0 L480.4,67.3"/>
<path d="M80.4,379.5 L83.0,379.5 L83.8,379.7 L87.2,379.7 L88.0,379.8 L93.5,379.8 L93.9,380.0 L94.9,381.0 L96.9,383.5 L97.8,383.5 L98.6,383.2 L99.6,383.2 L100.0,383.0 L104.3,383.0 L104.8,379.7 L105.8,379.1 L106.8,381.5 L108.8,387.8 L110.8,402.4 L112.8,405.4 L113.8,403.3 L114.8,382.4 L116.7,360.9 L118.7,350.3 L120.9,362.8 L121.7,367.3 L123.7,349.0 L124.7,351.4 L126.5,353.9 L134.9,353.8 L135.8,343.5 L136.3,343.5 L137.1,343.7 L139.2,343.7 L139.6,343.9 L140.4,341.7 L141.8,350.4 L145.8,350.4 L146.8,328.4 L147.8,328.9 L149.8,331.7 L152.2,331.7 L152.7,328.6 L153.7,328.6 L154.5,327.5 L157.3,327.5 L157.7,326.5 L158.7,324.5 L159.7,323.6 L163.2,323.6 L163.7,319.6 L164.7,310.5 L165.7,310.6 L167.7,311.0 L169.6,309.1 L173.5,309.1 L174.0,307.1 L179.1,307.1 L179.6,305.8 L185.0,305.8 L185.5,304.9 L185.9,300.4 L189.5,300.4 L190.0,300.1 L193.5,300.1 L194.3,299.9 L195.1,299.9 L195.5,299.6 L196.5,294.1 L197.2,294.1 L198.0,293.8 L204.6,293.8 L205.0,293.6 L209.9,293.6 L210.7,293.3 L214.1,293.3 L214.9,293.0 L215.4,293.0 L215.8,292.7 L216.8,291.1 L217.8,292.2 L219.8,268.1 L221.0,265.0 L223.3,265.0 L224.1,263.5 L224.6,263.5 L225.0,262.0 L229.3,262.0 L229.8,260.4 L230.8,258.6 L232.7,253.5 L235.3,253.5 L236.1,254.2 L236.3,254.2 L236.7,255.0 L237.7,255.7 L240.5,255.7 L241.0,256.4 L241.7,256.4 L242.5,254.8 L245.3,254.8 L245.7,253.1 L246.7,251.8 L248.6,248.7 L252.5,248.7 L253.0,246.3 L253.7,246.3 L254.5,245.7 L257.2,245.7 L257.6,245.1 L260.0,245.1 L260.8,243.8 L261.6,243.8 L262.0,242.5 L263.8,242.5 L264.6,241.7 L265.1,241.7 L265.5,240.8 L267.5,240.8 L268.0,239.6 L272.1,239.6 L272.9,239.2 L273.1,239.2 L273.5,238.8 L282.3,238.6 L283.2,214.7 L284.6,214.7 L285.4,214.3 L288.9,214.3 L289.3,213.8 L289.9,212.3 L293.7,212.3 L294.2,211.4 L294.8,211.0 L296.1,211.0 L296.9,210.6 L299.5,210.6 L299.9,210.3 L300.9,203.6 L301.9,203.6 L302.7,202.8 L304.6,202.8 L305.0,202.0 L306.9,202.0 L307.7,201.2 L309.1,201.2 L309.5,200.5 L310.3,192.6 L313.5,192.6 L314.0,191.2 L317.3,191.2 L317.8,190.2 L318.8,189.0 L321.4,189.0 L322.2,187.7 L325.4,187.7 L325.8,186.4 L331.0,186.4 L331.5,183.5 L332.0,181.5 L336.2,181.5 L336.7,177.5 L338.7,178.2 L347.0,178.2 L347.5,177.2 L348.6,172.3 L354.0,172.5 L354.8,169.6 L358.0,169.8 L359.6,171.3 L361.6,171.6 L363.5,171.6 L364.0,167.1 L366.0,167.1 L366.5,163.8 L369.0,163.8 L369.5,163.3 L371.0,161.9 L371.6,158.1 L377.0,158.1 L377.5,154.6 L378.6,153.7 L380.6,128.8 L383.9,128.8 L384.7,129.3 L387.6,129.3 L388.0,129.9 L394.4,129.9 L394.9,131.7 L395.9,116.5 L397.8,116.5 L398.6,115.9 L399.6,115.9 L400.0,115.2 L403.5,115.2 L404.0,114.6 L404.7,114.6 L405.5,114.4 L411.3,114.4 L411.7,114.2 L412.4,106.6 L418.4,106.6 L419.2,105.7 L419.6,105.7 L420.0,104.7 L426.2,104.7 L427.0,104.1 L427.3,104.1 L427.7,103.4 L428.6,103.9 L431.5,103.9 L432.0,104.6 L432.7,99.4 L436.5,99.4 L437.0,100.3 L438.3,100.3 L439.1,100.6 L440.5,100.6 L440.9,100.9 L441.6,90.5 L444.5,90.5 L445.0,89.1 L448.3,89.1 L448.8,88.7 L449.6,87.6 L450.4,77.8 L452.0,56.6 L452.9,52.1 L456.2,52.1 L456.7,53.7 L457.5,59.8 L458.4,67.5 L460.0,67.7 L461.5,67.6 L463.0,65.4 L466.0,65.6 L470.0,65.8 L472.0,67.0 L480.4,66.8"/>
<path d="M80.4,380.7 L83.0,380.7 L83.8,380.9 L87.2,380.9 L88.0,381.0 L93.5,381.0 L93.9,381.1 L94.9,381.9 L96.9,384.2 L97.8,384.2 L98.6,383.9 L99.6,383.9 L100.0,383.6 L104.3,383.6 L104.8,380.3 L105.8,379.9 L106.8,382.4 L108.8,388.6 L110.8,403.4 L112.8,406.1 L113.8,404.6 L114.8,384.3 L116.7,362.7 L118.7,351.4 L120.9,364.1 L121.7,368.0 L123.7,349.4 L124.7,351.8 L126.5,354.2 L134.9,354.1 L135.8,344.0 L136.3,344.0 L137.1,344.5 L139.2,344.5 L139.6,345.1 L140.4,343.1 L141.8,351.6 L145.8,351.8 L146.8,330.6 L147.8,331.1 L149.8,333.7 L152.2,333.7 L152.7,330.9 L153.7,330.9 L154.5,329.5 L157.3,329.5 L157.7,328.1 L158.7,326.1 L159.7,325.8 L163.2,325.8 L163.7,321.5 L164.7,312.3 L165.7,312.4 L167.7,312.6 L169.6,309.7 L173.5,309.7 L174.0,308.0 L179.1,308.0 L179.6,307.1 L185.0,307.1 L185.5,306.4 L185.9,302.0 L189.5,302.0 L190.0,301.1 L193.5,301.1 L194.3,300.3 L195.1,300.3 L195.5,299.5 L196.5,293.7 L197.2,293.7 L198.0,293.0 L204.6,293.0 L205.0,292.4 L209.9,292.4 L210.7,292.1 L214.1,292.1 L214.9,291.8 L215.4,291.8 L215.8,291.6 L216.8,290.0 L217.8,291.2 L219.8,267.0 L221.0,264.7 L223.3,264.7 L224.1,262.8 L224.6,262.8 L225.0,260.9 L229.3,260.9 L229.8,258.6 L230.8,256.6 L232.7,250.9 L235.3,250.9 L236.1,252.2 L236.3,252.2 L236.7,253.5 L237.7,254.2 L240.5,254.2 L241.0,254.9 L241.7,254.9 L242.5,253.4 L245.3,253.4 L245.7,252.0 L246.7,250.9 L248.6,248.3 L252.5,248.3 L253.0,247.2 L253.7,247.2 L254.5,246.9 L257.2,246.9 L257.6,246.6 L260.0,246.6 L260.8,245.6 L261.6,245.6 L262.0,244.6 L263.8,244.6 L264.6,243.7 L265.1,243.7 L265.5,242.8 L267.5,242.8 L268.0,241.4 L272.1,241.4 L272.9,241.2 L273.1,241.2 L273.5,240.9 L279.0,240.9 L279.8,241.1 L281.9,241.1 L282.3,241.2 L283.2,216.7 L289.3,216.7 L289.9,215.4 L293.7,215.4 L294.2,214.7 L294.8,214.2 L296.1,214.2 L296.9,213.7 L299.5,213.7 L299.9,213.2 L300.9,207.0 L301.9,207.0 L302.7,205.9 L304.6,205.9 L305.0,204.7 L306.9,204.7 L307.7,203.5 L309.1,203.5 L309.5,202.4 L310.3,193.8 L313.5,193.8 L314.0,192.0 L317.3,192.0 L317.8,191.3 L318.8,190.1 L321.4,190.1 L322.2,189.0 L325.4,189.0 L325.8,187.9 L331.0,187.9 L331.5,184.1 L332.0,181.8 L336.2,181.8 L336.7,177.2 L338.7,177.6 L347.0,177.6 L347.5,175.7 L348.6,170.7 L353.5,170.7 L354.0,172.3 L354.8,169.7 L357.5,169.7 L358.0,170.1 L359.6,171.7 L361.6,172.1 L363.5,172.1 L364.0,167.8 L366.0,167.8 L366.5,164.8 L369.0,164.8 L369.5,163.6 L371.0,162.3 L371.6,158.6 L377.0,158.6 L377.5,155.1 L378.6,155.0 L380.6,130.7 L383.9,130.7 L384.7,131.1 L387.6,131.1 L388.0,131.5 L394.4,131.5 L394.9,133.2 L395.9,117.8 L397.8,117.8 L398.6,117.0 L399.6,117.0 L400.0,116.2 L403.5,116.2 L404.0,115.3 L404.7,115.3 L405.5,115.0 L411.3,115.0 L411.7,114.6 L412.4,107.3 L418.4,107.3 L419.2,106.1 L419.6,106.1 L420.0,104.9 L426.2,104.9 L427.0,104.2 L427.3,104.2 L427.7,103.5 L428.6,103.9 L431.5,103.9 L432.0,104.3 L432.7,99.0 L436.5,99.0 L437.0,99.8 L438.3,99.8 L439.1,100.3 L440.5,100.3 L440.9,100.8 L441.6,90.5 L444.5,90.5 L445.0,89.2 L448.3,89.2 L448.8,88.6 L449.6,87.6 L450.4,77.7 L452.0,56.0 L452.9,51.9 L456.2,51.9 L456.7,53.7 L457.5,60.0 L458.4,67.5 L460.0,67.9 L461.5,67.9 L463.0,66.0 L464.6,66.0 L465.4,66.5 L465.6,66.5 L466.0,67.0 L469.5,67.0 L470.0,67.3 L472.0,69.3 L472.9,69.3 L473.7,69.2 L478.7,69.2 L479.5,69.1 L480.0,69.1 L480.4,68.9"/>
<path d="M80.4,381.0 L83.0,381.0 L83.8,381.4 L87.2,381.4 L88.0,381.9 L93.5,381.9 L93.9,382.4 L94.9,383.1 L96.9,385.2 L100.0,385.1 L104.3,385.1 L104.8,381.3 L105.8,380.9 L106.8,383.3 L108.8,389.4 L110.8,403.5 L112.8,406.1 L113.8,403.8 L114.8,383.1 L116.7,361.5 L118.7,351.1 L120.9,363.8 L121.7,368.4 L123.7,349.8 L124.7,352.3 L126.5,354.9 L128.5,354.9 L129.3,355.0 L132.4,355.0 L133.2,355.1 L134.5,355.1 L134.9,355.2 L135.8,345.2 L136.3,345.2 L137.1,345.5 L139.2,345.5 L139.6,345.7 L140.4,343.6 L141.8,352.1 L145.8,352.0 L146.8,330.9 L147.8,331.2 L149.8,334.6 L152.2,334.6 L152.7,330.5 L153.7,330.5 L154.5,329.1 L157.3,329.1 L157.7,327.7 L158.7,325.8 L159.7,325.7 L163.2,325.7 L163.7,320.8 L164.7,311.6 L165.7,311.9 L167.7,312.2 L169.6,311.1 L173.5,311.1 L174.0,309.2 L179.1,309.2 L179.6,308.0 L185.0,308.0 L185.5,307.1 L185.9,302.8 L189.5,302.8 L190.0,302.4 L193.5,302.4 L194.3,301.8 L195.1,301.8 L195.5,301.2 L196.5,295.7 L197.2,295.7 L198.0,295.1 L204.6,295.1 L205.0,294.4 L209.9,294.4 L210.7,293.4 L214.1,293.4 L214.9,292.4 L215.4,292.4 L215.8,291.3 L216.8,289.7 L217.8,290.7 L219.8,266.2 L221.0,263.2 L223.3,263.2 L224.1,262.1 L224.6,262.1 L225.0,261.0 L229.3,261.0 L229.8,260.0 L230.8,258.2 L232.7,253.0 L235.3,253.0 L236.1,253.9 L236.3,253.9 L236.7,254.8 L237.7,255.6 L240.5,255.6 L241.0,256.9 L241.7,256.9 L242.5,255.9 L245.3,255.9 L245.7,255.0 L246.7,254.1 L248.6,250.1 L252.5,250.1 L253.0,248.6 L253.7,248.6 L254.5,248.1 L257.2,248.1 L257.6,247.5 L260.0,247.5 L260.8,246.4 L261.6,246.4 L262.0,245.3 L263.8,245.3 L264.6,244.5 L265.1,244.5 L265.5,243.6 L267.5,243.6 L268.0,242.3 L272.1,242.3 L272.9,241.9 L273.1,241.9 L273.5,241.4 L282.3,241.4 L283.2,217.8 L284.6,217.8 L285.4,217.6 L288.9,217.6 L289.3,217.4 L289.9,215.6 L293.7,215.6 L294.2,214.9 L294.8,214.3 L296.1,214.3 L296.9,213.9 L299.5,213.9 L299.9,213.5 L300.9,207.4 L301.9,207.4 L302.7,207.0 L304.6,207.0 L305.0,206.5 L306.9,206.5 L307.7,205.4 L309.1,205.4 L309.5,204.4 L310.3,196.0 L313.5,196.0 L314.0,193.7 L317.3,193.7 L317.8,191.9 L318.8,189.6 L321.4,189.6 L322.2,187.9 L325.4,187.9 L325.8,186.1 L331.0,186.1 L331.5,183.4 L332.0,181.0 L336.2,181.0 L336.7,177.1 L338.7,177.4 L347.0,177.4 L347.5,176.6 L348.6,171.6 L353.5,171.6 L354.0,171.2 L354.8,168.5 L357.5,168.5 L358.0,168.7 L359.6,170.2 L361.6,170.7 L363.5,170.7 L364.0,166.3 L366.0,166.3 L366.5,163.1 L369.5,163.0 L371.0,161.7 L371.6,157.9 L377.0,157.9 L377.5,154.9 L378.6,156.2 L380.6,132.3 L383.9,132.3 L384.7,133.0 L387.6,133.0 L388.0,133.7 L394.4,133.7 L394.9,135.4 L395.9,119.8 L397.8,119.8 L398.6,119.2 L399.6,119.2 L400.0,118.5 L403.5,118.5 L404.0,117.6 L411.7,117.8 L412.4,110.0 L418.4,110.0 L419.2,108.9 L419.6,108.9 L420.0,107.8 L426.2,107.8 L427.0,106.7 L427.3,106.7 L427.7,105.5 L428.6,105.3 L431.5,105.3 L432.0,105.7 L432.7,101.1 L436.5,101.1 L437.0,101.7 L438.3,101.7 L439.1,102.0 L440.5,102.0 L440.9,102.3 L441.6,91.8 L444.5,91.8 L445.0,90.4 L448.3,90.4 L448.8,90.1 L449.6,89.3 L450.4,79.1 L452.0,57.2 L452.9,53.1 L456.2,53.1 L456.7,54.8 L457.5,61.1 L458.4,69.8 L460.0,69.8 L461.5,69.5 L463.0,67.4 L464.6,67.4 L465.4,67.7 L465.6,67.7 L466.0,67.9 L470.0,68.0 L472.0,69.3 L472.9,69.3 L473.7,69.0 L478.7,69.0 L479.5,68.8 L480.0,68.8 L480.4,68.6"/>
<path d="M80.4,382.6 L83.0,382.6 L83.8,382.9 L87.2,382.9 L88.0,383.2 L93.5,383.2 L93.9,383.5 L94.9,383.9 L96.9,385.7 L97.8,385.7 L98.6,385.4 L99.6,385.4 L100.0,385.1 L104.3,385.1 L104.8,381.1 L105.8,380.9 L106.8,383.3 L108.8,389.3 L110.8,403.5 L112.8,406.1 L113.8,404.9 L114.8,384.9 L116.7,363.6 L118.7,352.0 L120.9,365.0 L121.7,369.7 L123.7,350.5 L124.7,353.0 L126.5,355.5 L134.9,355.5 L135.8,345.5 L136.3,345.5 L137.1,345.8 L139.2,345.8 L139.6,346.0 L140.4,344.0 L141.8,352.5 L145.8,352.4 L146.8,331.3 L147.8,331.7 L149.8,334.2 L152.2,334.2 L152.7,331.5 L153.7,331.5 L154.5,330.4 L157.3,330.4 L157.7,329.3 L158.7,326.8 L159.7,326.8 L163.2,326.8 L163.7,323.1 L164.7,314.2 L165.7,314.2 L167.7,314.3 L169.6,312.4 L173.5,312.4 L174.0,310.6 L179.1,310.6 L179.6,309.0 L185.0,309.0 L185.5,307.6 L185.9,303.4 L189.5,303.4 L190.0,302.8 L193.5,302.8 L194.3,302.2 L195.1,302.2 L195.5,301.6 L196.5,296.3 L197.2,296.3 L198.0,296.0 L204.6,296.0 L205.0,295.7 L209.9,295.7 L210.7,295.0 L214.1,295.0 L214.9,294.3 L215.4,294.3 L215.8,293.6 L216.8,291.9 L217.8,292.9 L219.8,268.7 L221.0,265.3 L223.3,265.3 L224.1,264.0 L224.6,264.0 L225.0,262.6 L229.3,262.6 L229.8,260.3 L230.8,258.4 L232.7,254.8 L235.3,254.8 L236.1,254.5 L236.3,254.5 L236.7,254.3 L237.7,255.1 L240.5,255.1 L241.0,256.9 L241.7,256.9 L242.5,255.6 L245.3,255.6 L245.7,254.2 L246.7,253.2 L248.6,250.4 L252.5,250.4 L253.0,248.7 L253.7,248.7 L254.5,248.0 L257.2,248.0 L257.6,247.2 L260.0,247.2 L260.8,245.9 L261.6,245.9 L262.0,244.7 L263.8,244.7 L264.6,243.6 L265.1,243.6 L265.5,242.5 L267.5,242.5 L268.0,241.1 L272.1,241.1 L272.9,240.6 L273.1,240.6 L273.5,240.2 L279.0,240.2 L279.8,240.4 L281.9,240.4 L282.3,240.5 L283.2,217.0 L284.6,217.0 L285.4,216.9 L288.9,216.9 L289.3,216.7 L289.9,215.0 L293.7,215.0 L294.2,214.1 L294.8,213.6 L296.1,213.6 L296.9,212.9 L299.5,212.9 L299.9,212.2 L300.9,206.3 L301.9,206.3 L302.7,205.1 L304.6,205.1 L305.0,204.0 L306.9,204.0 L307.7,202.9 L309.1,202.9 L309.5,201.8 L310.3,193.7 L313.5,193.7 L314.0,191.8 L317.3,191.8 L317.8,190.7 L318.8,189.4 L321.4,189.4 L322.2,188.3 L325.4,188.3 L325.8,187.3 L331.0,187.3 L331.5,184.9 L332.0,182.7 L336.2,182.7 L336.7,178.5 L338.7,179.3 L347.0,179.3 L347.5,177.9 L348.6,172.9 L353.5,172.9 L354.0,173.4 L354.8,170.9 L357.5,170.9 L358.0,171.4 L359.6,172.7 L361.6,173.3 L363.5,173.3 L364.0,169.2 L366.0,169.2 L366.5,166.3 L369.5,166.2 L371.0,165.0 L371.6,162.1 L377.0,162.1 L377.5,159.2 L378.6,159.0 L380.6,135.5 L383.9,135.5 L384.7,135.7 L387.6,135.7 L388.0,135.9 L394.4,135.9 L394.9,137.0 L395.9,121.2 L397.8,121.2 L398.6,120.5 L399.6,120.5 L400.0,119.7 L403.5,119.7 L404.0,118.9 L404.7,118.9 L405.5,118.7 L411.3,118.7 L411.7,118.6 L412.4,110.8 L418.4,110.8 L419.2,109.6 L419.6,109.6 L420.0,108.5 L426.2,108.5 L427.0,107.3 L427.3,107.3 L427.7,106.1 L428.6,105.7 L431.5,105.7 L432.0,106.0 L432.7,101.6 L436.5,101.6 L437.0,102.2 L438.3,102.2 L439.1,102.5 L440.5,102.5 L440.9,102.9 L441.6,92.2 L444.5,92.2 L445.0,90.8 L448.3,90.8 L448.8,90.4 L449.6,89.6 L450.4,80.1 L452.0,58.1 L452.9,53.7 L456.2,53.7 L456.7,55.5 L457.5,61.8 L458.4,69.6 L460.0,69.8 L461.5,69.5 L463.0,67.4 L466.0,67.4 L469.5,67.4 L470.0,67.9 L472.0,69.8 L480.4,69.9"/>
<path d="M80.4,382.2 L83.0,382.2 L83.8,382.7 L87.2,382.7 L88.0,383.2 L93.5,383.2 L93.9,383.6 L94.9,384.2 L96.9,386.0 L97.8,386.0 L98.6,385.7 L99.6,385.7 L100.0,385.4 L104.3,385.4 L104.8,381.7 L105.8,381.3 L106.8,383.7 L108.8,389.8 L110.8,403.9 L112.8,406.4 L113.8,404.9 L114.8,384.9 L116.7,363.6 L118.7,352.0 L120.9,365.0 L121.7,369.7 L123.7,350.4 L124.7,352.8 L126.5,355.3 L134.9,355.5 L135.8,345.5 L136.3,345.5 L137.1,345.8 L139.2,345.8 L139.6,346.0 L140.4,344.0 L141.8,352.5 L145.8,352.5 L146.8,331.2 L147.8,331.5 L149.8,333.8 L152.2,333.8 L152.7,332.0 L153.7,332.0 L154.5,330.8 L157.3,330.8 L157.7,329.6 L158.7,327.7 L159.7,327.7 L163.2,327.7 L163.7,323.7 L164.7,314.7 L165.7,314.7 L167.7,314.7 L169.6,312.7 L173.5,312.7 L174.0,310.8 L179.1,310.8 L179.6,309.1 L185.0,309.1 L185.5,308.2 L185.9,304.1 L189.5,304.1 L190.0,303.6 L193.5,303.6 L194.3,303.0 L195.1,303.0 L195.5,302.3 L196.5,296.9 L197.2,296.9 L198.0,295.9 L204.6,295.9 L205.0,295.0 L209.9,295.0 L210.7,294.9 L214.1,294.9 L214.9,294.8 L215.4,294.8 L215.8,294.6 L216.8,292.9 L217.8,294.0 L219.8,270.5 L221.0,266.9 L223.3,266.9 L224.1,265.6 L224.6,265.6 L225.0,264.2 L229.3,264.2 L229.8,260.9 L230.8,259.0 L232.7,253.7 L235.3,253.7 L236.1,254.6 L236.3,254.6 L236.7,255.4 L237.7,255.9 L240.5,255.9 L241.0,257.3 L241.7,257.3 L242.5,256.0 L245.3,256.0 L245.7,254.6 L246.7,253.5 L248.6,250.6 L252.5,250.6 L253.0,249.6 L253.7,249.6 L254.5,248.5 L257.2,248.5 L257.6,247.4 L260.0,247.4 L260.8,246.6 L261.6,246.6 L262.0,245.7 L263.8,245.7 L264.6,245.2 L265.1,245.2 L265.5,244.7 L267.5,244.7 L268.0,243.8 L272.1,243.8 L272.9,243.5 L273.1,243.5 L273.5,243.2 L279.0,243.2 L279.8,242.9 L281.9,242.9 L282.3,242.6 L283.2,219.7 L284.6,219.7 L285.4,219.4 L288.9,219.4 L289.3,219.0 L289.9,217.0 L293.7,217.0 L294.2,216.0 L294.8,215.4 L296.1,215.4 L296.9,214.9 L299.5,214.9 L299.9,214.4 L300.9,208.6 L301.9,208.6 L302.7,207.5 L304.6,207.5 L305.0,206.5 L306.9,206.5 L307.7,205.4 L309.1,205.4 L309.5,204.3 L310.3,196.0 L313.5,196.0 L314.0,194.1 L317.3,194.1 L317.8,192.8 L318.8,191.6 L321.4,191.6 L322.2,190.3 L325.4,190.3 L325.8,189.0 L331.0,189.0 L331.5,186.1 L332.0,184.0 L336.2,184.0 L336.7,179.2 L338.7,180.2 L347.0,180.2 L347.5,179.7 L348.6,174.7 L353.5,174.7 L354.0,174.3 L354.8,171.6 L358.0,171.6 L359.6,172.8 L361.6,172.9 L363.5,172.9 L364.0,168.6 L366.0,168.6 L366.5,165.7 L369.5,165.6 L371.0,164.5 L371.6,161.4 L377.0,161.4 L377.5,158.2 L378.6,158.3 L380.6,134.3 L383.9,134.3 L384.7,134.5 L387.6,134.5 L388.0,134.6 L394.4,134.6 L394.9,136.2 L395.9,120.5 L397.8,120.5 L398.6,119.7 L399.6,119.7 L400.0,118.9 L403.5,118.9 L404.0,117.7 L404.7,117.7 L405.5,117.1 L411.3,117.1 L411.7,116.6 L412.4,108.9 L418.4,108.9 L419.2,108.1 L419.6,108.1 L420.0,107.2 L426.2,107.2 L427.0,106.4 L427.3,106.4 L427.7,105.5 L428.6,105.2 L431.5,105.2 L432.0,105.5 L432.7,100.8 L436.5,100.8 L437.0,101.5 L438.3,101.5 L439.1,101.9 L440.5,101.9 L440.9,102.2 L441.6,91.7 L444.5,91.7 L445.0,90.5 L448.8,90.4 L449.6,89.6 L450.4,80.1 L452.0,58.1 L452.9,53.7 L456.2,53.7 L456.7,55.4 L457.5,61.8 L458.4,69.5 L460.0,69.5 L461.5,69.2 L463.0,67.4 L466.0,67.3 L469.5,67.3 L470.0,67.9 L472.0,70.2 L480.4,70.3"/>
<path d="M80.4,382.9 L83.0,382.9 L83.8,383.2 L87.2,383.2 L88.0,383.4 L93.5,383.4 L93.9,383.6 L94.9,384.2 L96.9,385.9 L97.8,385.9 L98.6,385.6 L99.6,385.6 L100.0,385.2 L104.3,385.2 L104.8,381.1 L105.8,380.6 L106.8,383.4 L108.8,389.4 L110.8,403.6 L112.8,406.2 L113.8,404.6 L114.8,384.4 L116.7,363.2 L118.7,351.8 L120.9,364.8 L121.7,369.5 L123.7,349.6 L124.7,352.4 L126.5,355.0 L134.9,355.0 L135.8,345.3 L136.3,345.3 L137.1,345.6 L139.2,345.6 L139.6,345.8 L140.4,343.8 L141.8,352.3 L145.3,352.3 L145.8,351.5 L146.8,330.2 L147.8,330.7 L149.8,333.5 L152.2,333.5 L152.7,331.1 L153.7,331.1 L154.5,330.3 L157.3,330.3 L157.7,329.5 L158.7,327.7 L159.7,327.7 L163.2,327.7 L163.7,323.7 L164.7,314.7 L165.7,314.7 L167.7,314.7 L169.6,312.7 L173.5,312.7 L174.0,311.0 L179.1,311.0 L179.6,309.8 L185.0,309.8 L185.5,308.8 L185.9,304.8 L189.5,304.8 L190.0,304.0 L193.5,304.0 L194.3,303.4 L195.1,303.4 L195.5,302.8 L196.5,297.5 L197.2,297.5 L198.0,297.0 L204.6,297.0 L205.0,296.5 L209.9,296.5 L210.7,296.1 L214.1,296.1 L214.9,295.8 L215.4,295.8 L215.8,295.4 L216.8,293.8 L217.8,294.7 L219.8,270.9 L221.0,267.5 L223.3,267.5 L224.1,266.2 L224.6,266.2 L225.0,264.8 L229.3,264.8 L229.8,262.7 L230.8,260.9 L232.7,254.6 L235.3,254.6 L236.1,255.9 L236.3,255.9 L236.7,257.1 L237.7,257.1 L240.5,257.1 L241.0,258.6 L241.7,258.6 L242.5,257.3 L245.3,257.3 L245.7,256.0 L246.7,255.1 L248.6,252.5 L252.5,252.5 L253.0,251.0 L253.7,251.0 L254.5,250.4 L257.2,250.4 L257.6,249.8 L260.0,249.8 L260.8,248.7 L261.6,248.7 L262.0,247.5 L263.8,247.5 L264.6,246.7 L265.1,246.7 L265.5,245.8 L267.5,245.8 L268.0,244.5 L272.1,244.5 L272.9,244.1 L273.1,244.1 L273.5,243.7 L282.3,243.5 L283.2,219.8 L284.6,219.8 L285.4,219.4 L288.9,219.4 L289.3,219.0 L289.9,217.0 L293.7,217.0 L294.2,216.0 L294.8,215.4 L296.1,215.4 L296.9,214.9 L299.5,214.9 L299.9,214.4 L300.9,208.6 L301.9,208.6 L302.7,207.5 L304.6,207.5 L305.0,206.5 L306.9,206.5 L307.7,205.5 L309.1,205.5 L309.5,204.4 L310.3,196.1 L313.5,196.1 L314.0,194.0 L317.3,194.0 L317.8,192.7 L318.8,191.4 L321.4,191.4 L322.2,189.9 L325.4,189.9 L325.8,188.4 L331.0,188.4 L331.5,185.2 L332.0,183.0 L336.2,183.0 L336.7,178.3 L338.7,178.9 L347.0,178.9 L347.5,177.6 L348.6,172.6 L353.5,172.6 L354.0,173.0 L354.8,171.0 L357.5,171.0 L358.0,171.6 L359.6,173.3 L361.6,173.5 L363.5,173.5 L364.0,169.5 L366.0,169.5 L366.5,166.6 L369.0,166.6 L369.5,166.2 L371.0,165.0 L371.6,162.1 L377.0,162.1 L377.5,159.2 L378.6,159.0 L380.6,135.5 L383.9,135.5 L384.7,136.1 L387.6,136.1 L388.0,136.6 L394.4,136.6 L394.9,137.6 L395.9,121.8 L397.8,121.8 L398.6,120.8 L399.6,120.8 L400.0,119.9 L403.5,119.9 L404.0,118.9 L404.7,118.9 L405.5,118.7 L411.3,118.7 L411.7,118.6 L412.4,110.8 L418.4,110.8 L419.2,109.4 L419.6,109.4 L420.0,108.0 L426.2,108.0 L427.0,106.6 L427.3,106.6 L427.7,105.1 L428.6,104.9 L431.5,104.9 L432.0,105.2 L432.7,100.7 L436.5,100.7 L437.0,101.2 L438.3,101.2 L439.1,101.6 L440.5,101.6 L440.9,101.9 L441.6,91.4 L444.5,91.4 L445.0,90.5 L448.3,90.5 L448.8,90.2 L449.6,89.5 L450.4,80.1 L452.0,57.2 L452.9,52.9 L456.2,52.9 L456.7,54.7 L457.5,61.1 L458.4,68.7 L460.0,68.8 L461.5,68.6 L463.0,66.5 L464.6,66.5 L465.4,66.8 L465.6,66.8 L466.0,67.0 L469.5,67.0 L470.0,67.4 L472.0,69.4 L472.9,69.4 L473.7,69.6 L478.7,69.6 L479.5,69.8 L480.0,69.8 L480.4,70.1"/>
<path d="M80.4,384.6 L93.9,384.6 L94.9,385.0 L96.9,386.6 L97.8,386.6 L98.6,386.3 L99.6,386.3 L100.0,386.0 L104.3,386.0 L104.8,382.0 L105.8,381.6 L106.8,384.0 L108.8,390.0 L110.8,404.0 L112.8,406.5 L113.8,405.0 L114.8,385.0 L116.7,363.7 L118.7,352.0 L120.9,365.0 L121.7,369.7 L123.7,350.5 L124.7,353.0 L126.5,355.5 L134.9,355.5 L135.8,345.5 L136.3,345.5 L137.1,345.8 L139.2,345.8 L139.6,346.0 L140.4,344.0 L141.8,352.5 L145.8,352.5 L146.8,331.6 L147.8,332.0 L149.8,334.6 L152.2,334.6 L152.7,332.0 L153.7,332.0 L154.5,330.8 L157.3,330.8 L157.7,329.6 L158.7,327.7 L159.7,327.7 L163.2,327.7 L163.7,323.7 L164.7,314.7 L165.7,314.7 L167.7,314.7 L169.6,312.7 L173.5,312.7 L174.0,311.0 L179.1,311.0 L179.6,309.8 L185.0,309.8 L185.5,308.8 L185.9,304.8 L189.5,304.8 L190.0,304.0 L193.5,304.0 L194.3,303.4 L195.1,303.4 L195.5,302.8 L196.5,297.5 L197.2,297.5 L198.0,297.0 L204.6,297.0 L205.0,296.5 L209.9,296.5 L210.7,296.2 L214.1,296.2 L214.9,295.8 L215.4,295.8 L215.8,295.5 L216.8,294.0 L217.8,295.0 L219.8,271.6 L221.0,268.0 L223.3,268.0 L224.1,266.9 L224.6,266.9 L225.0,265.7 L229.3,265.7 L229.8,263.7 L230.8,262.0 L232.7,257.0 L235.3,257.0 L236.1,257.5 L236.3,257.5 L236.7,258.0 L237.7,258.5 L240.5,258.5 L241.0,259.7 L241.7,259.7 L242.5,258.1 L245.3,258.1 L245.7,256.5 L246.7,255.5 L248.6,252.7 L252.5,252.7 L253.0,251.0 L253.7,251.0 L254.5,250.4 L257.2,250.4 L257.6,249.8 L260.0,249.8 L260.8,248.7 L261.6,248.7 L262.0,247.5 L263.8,247.5 L264.6,246.7 L265.1,246.7 L265.5,245.8 L267.5,245.8 L268.0,244.5 L272.1,244.5 L272.9,244.1 L273.1,244.1 L273.5,243.7 L282.3,243.5 L283.2,219.8 L284.6,219.8 L285.4,219.4 L288.9,219.4 L289.3,219.0 L289.9,217.0 L293.7,217.0 L294.2,216.0 L294.8,215.4 L299.9,215.4 L300.9,211.5 L301.9,211.5 L302.7,210.5 L304.6,210.5 L305.0,209.5 L306.9,209.5 L307.7,208.5 L309.1,208.5 L309.5,207.5 L310.3,200.5 L313.5,200.5 L314.0,199.5 L317.3,199.5 L317.8,198.5 L318.8,197.5 L321.4,197.5 L322.2,196.2 L325.4,196.2 L325.8,195.0 L331.0,195.0 L331.5,192.0 L332.0,190.6 L336.2,190.6 L336.7,187.6 L338.7,189.6 L347.0,189.6 L347.5,188.6 L348.6,182.6 L353.5,182.6 L354.0,182.0 L354.8,180.0 L358.0,180.0 L359.6,181.0 L361.6,180.6 L363.5,180.6 L364.0,176.0 L366.0,176.0 L366.5,173.0 L369.0,173.0 L369.5,171.7 L371.0,170.5 L371.6,167.7 L377.0,167.7 L377.5,163.7 L378.6,163.0 L380.6,139.5 L383.9,139.5 L384.7,140.0 L387.6,140.0 L388.0,140.5 L394.4,140.5 L394.9,141.5 L395.9,126.6 L397.8,126.6 L398.6,125.6 L399.6,125.6 L400.0,124.6 L403.5,124.6 L404.0,123.6 L411.7,123.6 L412.4,118.6 L418.4,118.6 L419.2,117.7 L419.6,117.7 L420.0,116.7 L426.2,116.7 L427.0,115.2 L427.3,115.2 L427.7,113.7 L428.6,113.0 L431.5,113.0 L432.0,114.5 L432.7,115.5 L436.5,115.5 L437.0,116.7 L438.3,116.7 L439.1,117.2 L440.5,117.2 L440.9,117.7 L441.6,106.7 L444.5,106.7 L445.0,105.0 L448.3,105.0 L448.8,103.7 L449.6,100.0 L450.4,88.0 L452.0,60.0 L452.9,53.9 L456.2,53.9 L456.7,55.5 L457.5,62.0 L458.4,69.8 L460.0,69.8 L461.5,69.5 L463.0,67.5 L464.6,67.5 L465.4,67.8 L465.6,67.8 L466.0,68.0 L469.5,68.0 L470.0,68.3 L472.0,70.3 L480.4,70.3"/>
<path d="M80.4,367.7 L93.9,367.7 L94.9,370.0 L96.9,374.7 L97.8,374.7 L98.6,374.4 L99.6,374.4 L100.0,374.0 L104.3,374.0 L104.8,371.5 L105.8,370.7 L106.8,373.0 L108.8,379.6 L110.8,395.5 L112.8,399.5 L113.8,396.0 L114.8,369.7 L116.7,345.8 L118.7,340.5 L120.9,335.6 L121.9,333.9 L123.9,322.7 L125.5,326.0 L127.4,326.0 L127.9,329.6 L128.5,329.6 L129.3,329.3 L132.4,329.3 L133.2,328.9 L134.5,328.9 L134.9,328.6 L135.4,316.7 L136.3,316.7 L137.1,317.2 L141.4,317.2 L141.8,317.7 L145.3,317.7 L145.8,319.7 L146.8,302.8 L149.6,302.8 L150.4,301.8 L152.3,301.8 L152.7,300.8 L153.7,300.8 L154.5,300.3 L157.3,300.3 L157.7,299.8 L158.7,296.8 L163.2,296.8 L163.7,294.9 L164.7,281.9 L169.1,281.9 L169.6,285.9 L173.2,285.9 L174.0,286.9 L179.2,286.9 L179.6,287.9 L185.0,287.9 L185.5,284.9 L185.9,278.9 L195.5,278.9 L196.5,275.8 L197.2,275.8 L198.0,275.1 L204.6,275.1 L205.0,274.5 L209.9,274.5 L210.7,273.9 L214.1,273.9 L214.9,273.2 L215.4,273.2 L215.8,272.6 L216.8,270.6 L217.8,272.0 L219.8,244.8 L221.0,243.8 L223.3,243.8 L224.1,242.8 L224.6,242.8 L225.0,241.8 L229.3,241.8 L229.8,239.8 L230.8,238.0 L232.7,230.9 L235.3,230.9 L236.1,232.4 L236.3,232.4 L236.7,233.9 L237.7,235.8 L240.5,235.8 L241.0,234.5 L241.7,234.5 L242.5,233.7 L245.3,233.7 L245.7,232.9 L246.7,231.0 L248.6,227.9 L252.5,227.9 L253.0,226.5 L253.7,226.5 L254.5,225.7 L257.2,225.7 L257.6,224.9 L260.0,224.9 L260.8,224.4 L261.6,224.4 L262.0,224.0 L263.8,224.0 L264.6,223.5 L265.1,223.5 L265.5,223.0 L267.5,223.0 L268.0,222.0 L272.1,222.0 L272.9,221.5 L273.1,221.5 L273.5,221.0 L279.0,221.0 L279.8,220.8 L281.9,220.8 L282.3,220.5 L283.2,197.5 L289.3,197.5 L289.9,197.5 L294.2,197.5 L294.8,197.5 L299.9,197.5 L300.9,187.6 L301.9,187.6 L302.7,186.8 L304.6,186.8 L305.0,186.0 L306.9,186.0 L307.7,184.8 L309.1,184.8 L309.5,183.6 L310.3,176.7 L313.5,176.7 L314.0,175.5 L317.3,175.5 L317.8,173.7 L318.8,171.7 L321.4,171.7 L322.2,169.7 L325.4,169.7 L325.8,167.7 L331.0,167.7 L331.5,165.0 L332.0,160.8 L336.2,160.8 L336.7,159.5 L338.7,158.0 L347.0,158.0 L347.5,156.8 L348.6,151.8 L354.0,151.8 L354.8,147.8 L357.5,147.8 L358.0,148.5 L359.6,150.8 L361.6,152.8 L363.5,152.8 L364.0,149.0 L366.0,149.0 L366.5,145.8 L369.0,145.8 L369.5,147.8 L371.0,146.5 L371.6,138.9 L377.0,138.9 L377.5,136.9 L378.6,138.0 L380.6,111.7 L383.9,111.7 L384.7,112.2 L387.6,112.2 L388.0,112.7 L394.4,112.7 L394.9,113.7 L395.9,99.8 L397.8,99.8 L398.6,99.7 L399.6,99.7 L400.0,99.5 L403.5,99.5 L404.0,99.2 L404.7,99.2 L405.5,99.0 L411.3,99.0 L411.7,98.8 L412.4,91.8 L418.4,91.8 L419.2,91.2 L419.6,91.2 L420.0,90.5 L426.2,90.5 L427.0,90.2 L427.3,90.2 L427.7,89.8 L428.6,93.8 L431.5,93.8 L432.0,94.8 L432.7,84.6 L437.0,84.6 L440.9,84.6 L441.6,77.0 L445.0,77.2 L448.3,77.2 L448.8,77.5 L449.6,78.9 L450.4,67.2 L452.0,47.2 L452.9,42.6 L456.2,42.6 L456.7,44.6 L457.5,49.2 L458.4,54.6 L460.0,56.7 L461.5,58.0 L463.0,55.2 L464.6,55.2 L465.4,55.5 L465.6,55.5 L466.0,55.7 L470.0,55.7 L472.0,56.5 L480.4,56.5"/>
</g>
<path d="M80.4,216.9 L93.9,216.9 L95.9,218.3 L97.9,220.8 L99.9,219.3 L102.8,219.7 L105.8,217.3 L107.8,220.3 L109.8,224.2 L110.8,231.2 L113.8,232.2 L115.8,225.2 L117.7,218.3 L119.1,216.3 L121.1,221.2 L122.7,219.3 L124.7,222.2 L128.7,221.2 L134.6,221.2 L136.6,220.6 L140.6,220.8 L142.2,224.8 L145.6,224.8 L147.0,221.2 L149.0,219.3 L151.5,220.8 L153.5,220.3 L155.5,224.2 L158.5,224.8 L162.5,223.2 L164.1,218.3 L165.5,214.3 L167.4,215.9 L170.0,216.3 L174.0,217.9 L177.0,219.7 L179.9,221.8 L184.9,220.3 L192.9,220.3 L194.3,221.8 L196.8,219.7 L209.8,219.3 L213.7,218.3 L216.7,216.3 L218.7,214.3 L220.7,217.3 L222.1,223.2 L224.7,223.8 L228.6,222.6 L230.6,218.9 L233.6,216.9 L236.6,218.9 L239.6,220.8 L245.5,221.2 L253.5,221.8 L259.5,222.2 L263.4,221.2 L270.0,221.4 L274.9,221.6 L280.9,221.6 L282.9,225.2 L284.9,223.2 L286.9,220.8 L299.8,220.8 L301.2,226.2 L305.8,226.8 L307.7,225.2 L311.7,224.2 L313.7,222.2 L320.7,222.2 L324.6,223.6 L328.6,222.8 L332.6,220.8 L337.6,220.3 L340.5,221.8 L348.5,221.2 L352.5,222.2 L358.4,222.0 L360.2,225.6 L363.0,226.2 L365.9,221.2 L367.9,219.9 L369.9,221.2 L373.9,219.3 L378.9,217.9 L381.8,220.3 L385.8,222.2 L394.8,223.2 L404.7,223.6 L414.6,222.8 L418.6,221.8 L424.6,223.2 L429.6,225.2 L431.5,227.6 L432.9,223.2 L439.5,223.2 L441.1,226.8 L442.5,222.8 L446.7,222.2 L448.7,220.3 L450.1,215.3 L452.1,214.3 L453.7,216.3 L455.3,214.3 L456.7,216.3 L457.7,222.2 L459.6,225.2 L462.0,226.2 L464.0,224.2 L465.6,225.6 L467.6,224.8 L471.6,226.2 L480.5,226.2" fill="none" stroke="#f6f01e" stroke-width="4.8" stroke-linejoin="round" stroke-linecap="round"/>
<path d="M80.4,216.9 L93.9,216.9 L95.9,218.3 L97.9,220.8 L99.9,219.3 L102.8,219.7 L105.8,217.3 L107.8,220.3 L109.8,224.2 L110.8,231.2 L113.8,232.2 L115.8,225.2 L117.7,218.3 L119.1,216.3 L121.1,221.2 L122.7,219.3 L124.7,222.2 L128.7,221.2 L134.6,221.2 L136.6,220.6 L140.6,220.8 L142.2,224.8 L145.6,224.8 L147.0,221.2 L149.0,219.3 L151.5,220.8 L153.5,220.3 L155.5,224.2 L158.5,224.8 L162.5,223.2 L164.1,218.3 L165.5,214.3 L167.4,215.9 L170.0,216.3 L174.0,217.9 L177.0,219.7 L179.9,221.8 L184.9,220.3 L192.9,220.3 L194.3,221.8 L196.8,219.7 L209.8,219.3 L213.7,218.3 L216.7,216.3 L218.7,214.3 L220.7,217.3 L222.1,223.2 L224.7,223.8 L228.6,222.6 L230.6,218.9 L233.6,216.9 L236.6,218.9 L239.6,220.8 L245.5,221.2 L253.5,221.8 L259.5,222.2 L263.4,221.2 L270.0,221.4 L274.9,221.6 L280.9,221.6 L282.9,225.2 L284.9,223.2 L286.9,220.8 L299.8,220.8 L301.2,226.2 L305.8,226.8 L307.7,225.2 L311.7,224.2 L313.7,222.2 L320.7,222.2 L324.6,223.6 L328.6,222.8 L332.6,220.8 L337.6,220.3 L340.5,221.8 L348.5,221.2 L352.5,222.2 L358.4,222.0 L360.2,225.6 L363.0,226.2 L365.9,221.2 L367.9,219.9 L369.9,221.2 L373.9,219.3 L378.9,217.9 L381.8,220.3 L385.8,222.2 L394.8,223.2 L404.7,223.6 L414.6,222.8 L418.6,221.8 L424.6,223.2 L429.6,225.2 L431.5,227.6 L432.9,223.2 L439.5,223.2 L441.1,226.8 L442.5,222.8 L446.7,222.2 L448.7,220.3 L450.1,215.3 L452.1,214.3 L453.7,216.3 L455.3,214.3 L456.7,216.3 L457.7,222.2 L459.6,225.2 L462.0,226.2 L464.0,224.2 L465.6,225.6 L467.6,224.8 L471.6,226.2 L480.5,226.2" fill="none" stroke="#000" stroke-width="2.8" stroke-linejoin="round" stroke-linecap="round"/>
<g stroke="#15159c" stroke-width="1.5">
<line x1="80.5" y1="433" x2="80.5" y2="440.9"/>
<line x1="124.8" y1="433" x2="124.8" y2="440.9"/>
<line x1="176.7" y1="433" x2="176.7" y2="440.9"/>
<line x1="212.0" y1="433" x2="212.0" y2="440.9"/>
<line x1="245" y1="433" x2="245" y2="440.9"/>
<line x1="292" y1="433" x2="292" y2="440.9"/>
<line x1="330.8" y1="433" x2="330.8" y2="440.9"/>
<line x1="371.2" y1="433" x2="371.2" y2="440.9"/>
<line x1="412.2" y1="433" x2="412.2" y2="440.9"/>
<line x1="448.1" y1="433" x2="448.1" y2="440.9"/>
<line x1="479.9" y1="433" x2="479.9" y2="440.9"/>
</g>
<rect x="64.8" y="6.9" width="431.3" height="434" fill="none" stroke="#111" stroke-width="1.15" stroke-linejoin="round"/>
<g stroke="#111" stroke-width="1" fill="none">
<path d="M80.4,440.9H480.1"/>
<path d="M80.40,440.9V448.4"/>
<path d="M180.32,440.9V448.4"/>
<path d="M280.25,440.9V448.4"/>
<path d="M380.18,440.9V448.4"/>
<path d="M480.10,440.9V448.4"/>
<path d="M64.8,19.4V422.6"/>
<path d="M64.8,19.40H57.2"/>
<path d="M64.8,86.60H57.2"/>
<path d="M64.8,153.80H57.2"/>
<path d="M64.8,221.00H57.2"/>
<path d="M64.8,288.20H57.2"/>
<path d="M64.8,355.40H57.2"/>
<path d="M64.8,422.60H57.2"/>
</g>
<g font-family="'Liberation Sans', Arial, sans-serif" font-size="24" fill="#000" text-anchor="middle">
<text x="80.7" y="471.2">−1.0</text>
<text x="180.6" y="471.2">−0.5</text>
<text x="280.6" y="471.2">0.0</text>
<text x="380.5" y="471.2">0.5</text>
<text x="480.4" y="471.2">1.0</text>
<text transform="translate(43.3,20.2) rotate(-90)">6</text>
<text transform="translate(43.3,87.4) rotate(-90)">4</text>
<text transform="translate(43.3,154.6) rotate(-90)">2</text>
<text transform="translate(43.3,221.8) rotate(-90)">0</text>
<text transform="translate(43.3,289.0) rotate(-90)">−2</text>
<text transform="translate(43.3,356.2) rotate(-90)">−4</text>
<text transform="translate(43.3,423.4) rotate(-90)">−6</text>
<text x="280.6" y="496">x_2</text>
<text transform="translate(18.8,227.7) rotate(-90)">partial yhat</text>
</g>
</svg>
</body></html>
